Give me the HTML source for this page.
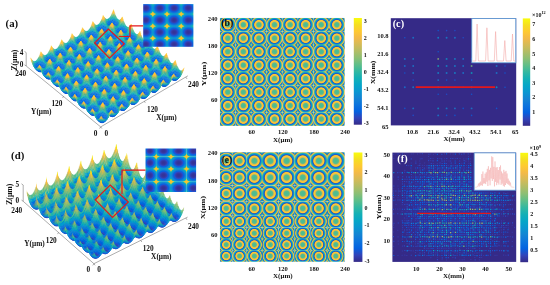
<!DOCTYPE html><html><head><meta charset="utf-8"><title>figure</title><style>html,body{margin:0;padding:0;background:#fff}</style></head><body><svg width="550" height="285" viewBox="0 0 550 285" style="display:block;font-family:'Liberation Serif',serif;font-weight:bold"><defs><filter id="bl" x="-5%" y="-5%" width="110%" height="110%"><feGaussianBlur stdDeviation=".5"/></filter><g id="ca"><path fill="#fec932" stroke="#fec932" d="M14-215l8-20l-7-22l-7 21zM-82-175l7 12l-6-22l-7-12z"/><path fill="#fbbc41" stroke="#fbbc41" d="M7-196l7-19l-6-21l-7 18zM-75-163l8 10l-6-22l-8-10z"/><path fill="#8bbf75" stroke="#8bbf75" d="M0-181l7-15l-6-22l-8 16zM-67-153l7 7l-6-22l-7-7z"/><path fill="#4fbc91" stroke="#4fbc91" d="M-8-167l8-14l-7-21l-7 13zM-60-146l8 4l-7-21l-7-5z"/><path fill="#33b8a1" stroke="#33b8a1" d="M-15-157l7-10l-6-22l-8 11zM-52-142l7 2l-6-21l-8-2z"/><path fill="#1cb3b0" stroke="#1cb3b0" d="M-23-149l8-8l-7-21l-7 8zM-45-140l7 0l-6-22l-7 1z"/><path fill="#0badbc" stroke="#0badbc" d="M-30-143l7-6l-6-21l-7 5zM-38-140l8-3l-6-22l-8 3z"/><path fill="#fbbc41" stroke="#fbbc41" d="M21-195l7-21l-6-19l-8 20zM-76-156l8 12l-7-19l-7-12z"/><path fill="#6ebf82" stroke="#6ebf82" d="M13-177l8-18l-7-20l-7 19zM-68-144l7 10l-6-19l-8-10z"/><path fill="#33b8a1" stroke="#33b8a1" d="M6-162l7-15l-6-19l-7 15zM-61-134l8 7l-7-19l-7-7z"/><path fill="#0badbc" stroke="#0badbc" d="M-2-148l8-14l-6-19l-8 14zM-53-127l7 4l-6-19l-8-4z"/><path fill="#0f90d2" stroke="#0f90d2" d="M-9-138l7-10l-6-19l-7 10zM-46-123l7 2l-6-19l-7-2z"/><path fill="#1079da" stroke="#1079da" d="M-16-130l7-8l-6-19l-8 8zM-24-124l8-6l-7-19l-7 6zM-31-121l7-3l-6-19l-8 3zM-39-121l8 0l-7-19l-7 0z"/><path fill="#8bbf75" stroke="#8bbf75" d="M27-179l7-21l-6-16l-7 21zM-69-139l7 12l-6-17l-8-12z"/><path fill="#33b8a1" stroke="#33b8a1" d="M20-161l7-18l-6-16l-8 18zM-62-127l7 9l-6-16l-7-10z"/><path fill="#06a6c7" stroke="#06a6c7" d="M12-145l8-16l-7-16l-7 15zM-55-118l8 7l-6-16l-8-7z"/><path fill="#1079da" stroke="#1079da" d="M5-132l7-13l-6-17l-8 14zM-47-111l7 5l-6-17l-7-4z"/><path fill="#066fdf" stroke="#066fdf" d="M-3-121l8-11l-7-16l-7 10zM-10-113l7-8l-6-17l-7 8zM-18-108l8-5l-6-17l-8 6zM-25-104l7-4l-6-16l-7 3zM-32-104l7 0l-6-17l-8 0zM-40-106l8 2l-7-17l-7-2z"/><path fill="#4fbc91" stroke="#4fbc91" d="M33-165l8-21l-7-14l-7 21zM-63-125l7 12l-6-14l-7-12z"/><path fill="#0badbc" stroke="#0badbc" d="M26-147l7-18l-6-14l-7 18zM-56-113l8 9l-7-14l-7-9z"/><path fill="#1079da" stroke="#1079da" d="M18-131l8-16l-6-14l-8 16zM-48-104l7 8l-6-15l-8-7z"/><path fill="#066fdf" stroke="#066fdf" d="M11-118l7-13l-6-14l-7 13zM-41-96l8 4l-7-14l-7-5z"/><path fill="#0462e0" stroke="#0462e0" d="M4-107l7-11l-6-14l-8 11zM-4-99l8-8l-7-14l-7 8zM-11-93l7-6l-6-14l-8 5zM-19-90l8-3l-7-15l-7 4zM-26-90l7 0l-6-14l-7 0zM-33-92l7 2l-6-14l-8-2z"/><path fill="#33b8a1" stroke="#33b8a1" d="M40-153l7-21l-6-12l-8 21zM-57-114l8 12l-7-11l-7-12z"/><path fill="#0f90d2" stroke="#0f90d2" d="M32-135l8-18l-7-12l-7 18zM-49-102l7 10l-6-12l-8-9z"/><path fill="#066fdf" stroke="#066fdf" d="M25-119l7-16l-6-12l-8 16zM-42-92l7 7l-6-11l-7-8z"/><path fill="#0462e0" stroke="#0462e0" d="M17-106l8-13l-7-12l-7 13zM10-96l7-10l-6-12l-7 11zM-27-80l7 2l-6-12l-7-2zM-35-85l8 5l-6-12l-8-4z"/><path fill="#294cca" stroke="#294cca" d="M3-88l7-8l-6-11l-8 8zM-5-82l8-6l-7-11l-7 6zM-12-79l7-3l-6-11l-8 3zM-20-78l8-1l-7-11l-7 0z"/><path fill="#1cb3b0" stroke="#1cb3b0" d="M46-144l7-21l-6-9l-7 21zM-50-105l7 12l-6-9l-8-12z"/><path fill="#1079da" stroke="#1079da" d="M38-126l8-18l-6-9l-8 18zM-43-93l7 10l-6-9l-7-10z"/><path fill="#066fdf" stroke="#066fdf" d="M31-110l7-16l-6-9l-7 16zM-36-83l8 7l-7-9l-7-7z"/><path fill="#0462e0" stroke="#0462e0" d="M24-97l7-13l-6-9l-8 13zM-28-76l7 5l-6-9l-8-5z"/><path fill="#294cca" stroke="#294cca" d="M16-87l8-10l-7-9l-7 10zM-21-71l8 2l-7-9l-7-2z"/><path fill="#353aa8" stroke="#353aa8" d="M9-79l7-8l-6-9l-7 8zM1-73l8-6l-6-9l-8 6zM-6-70l7-3l-6-9l-7 3zM-13-69l7-1l-6-9l-8 1z"/><path fill="#0badbc" stroke="#0badbc" d="M52-138l8-21l-7-6l-7 21zM-44-98l7 12l-6-7l-7-12z"/><path fill="#1079da" stroke="#1079da" d="M45-120l7-18l-6-6l-8 18zM-37-86l8 9l-7-6l-7-10z"/><path fill="#066fdf" stroke="#066fdf" d="M37-104l8-16l-7-6l-7 16zM-29-77l7 7l-6-6l-8-7z"/><path fill="#0462e0" stroke="#0462e0" d="M30-91l7-13l-6-6l-7 13zM-22-70l7 5l-6-6l-7-5z"/><path fill="#294cca" stroke="#294cca" d="M23-80l7-11l-6-6l-8 10zM-15-65l8 2l-6-6l-8-2z"/><path fill="#353aa8" stroke="#353aa8" d="M15-72l8-8l-7-7l-7 8zM8-66l7-6l-6-7l-8 6zM0-63l8-3l-7-7l-7 3zM-7-63l7 0l-6-7l-7 1z"/><path fill="#0badbc" stroke="#0badbc" d="M58-134l8-21l-6-4l-8 21zM-38-94l8 12l-7-4l-7-12z"/><path fill="#1079da" stroke="#1079da" d="M51-116l7-18l-6-4l-7 18zM-30-82l7 9l-6-4l-8-9z"/><path fill="#066fdf" stroke="#066fdf" d="M44-100l7-16l-6-4l-8 16zM-23-73l7 7l-6-4l-7-7z"/><path fill="#0462e0" stroke="#0462e0" d="M36-87l8-13l-7-4l-7 13zM-16-66l8 5l-7-4l-7-5z"/><path fill="#294cca" stroke="#294cca" d="M29-76l7-11l-6-4l-7 11zM-8-61l7 2l-6-4l-8-2z"/><path fill="#353aa8" stroke="#353aa8" d="M21-68l8-8l-6-4l-8 8zM14-63l7-5l-6-4l-7 6zM7-60l7-3l-6-3l-8 3zM-1-59l8-1l-7-3l-7 0z"/><path fill="#1cb3b0" stroke="#1cb3b0" d="M65-133l7-20l-6-2l-8 21zM-32-93l8 12l-6-1l-8-12z"/><path fill="#1079da" stroke="#1079da" d="M57-114l8-19l-7-1l-7 18zM-24-81l7 10l-6-2l-7-9z"/><path fill="#066fdf" stroke="#066fdf" d="M50-99l7-15l-6-2l-7 16zM-17-71l8 7l-7-2l-7-7z"/><path fill="#0462e0" stroke="#0462e0" d="M43-85l7-14l-6-1l-8 13zM-9-64l7 4l-6-1l-8-5z"/><path fill="#294cca" stroke="#294cca" d="M35-75l8-10l-7-2l-7 11zM-2-60l8 2l-7-1l-7-2z"/><path fill="#353aa8" stroke="#353aa8" d="M28-67l7-8l-6-1l-8 8zM20-61l8-6l-7-1l-7 5zM13-58l7-3l-6-2l-7 3zM6-58l7 0l-6-2l-8 1z"/><path fill="#33b8a1" stroke="#33b8a1" d="M71-134l7-20l-6 1l-7 20zM-25-94l7 12l-6 1l-8-12z"/><path fill="#0f90d2" stroke="#0f90d2" d="M64-115l7-19l-6 1l-8 19zM-18-82l8 10l-7 1l-7-10z"/><path fill="#066fdf" stroke="#066fdf" d="M56-100l8-15l-7 1l-7 15zM-10-72l7 7l-6 1l-8-7z"/><path fill="#0462e0" stroke="#0462e0" d="M49-87l7-13l-6 1l-7 14zM41-76l8-11l-6 2l-8 10zM4-61l8 2l-6 1l-8-2zM-3-65l7 4l-6 1l-7-4z"/><path fill="#294cca" stroke="#294cca" d="M34-68l7-8l-6 1l-7 8zM27-62l7-6l-6 1l-8 6zM19-59l8-3l-7 1l-7 3zM12-59l7 0l-6 1l-7 0z"/><path fill="#4fbc91" stroke="#4fbc91" d="M77-137l8-21l-7 4l-7 20zM-19-98l7 12l-6 4l-7-12z"/><path fill="#0badbc" stroke="#0badbc" d="M70-119l7-18l-6 3l-7 19zM-12-86l8 10l-6 4l-8-10z"/><path fill="#1079da" stroke="#1079da" d="M63-103l7-16l-6 4l-8 15zM-4-76l7 7l-6 4l-7-7z"/><path fill="#066fdf" stroke="#066fdf" d="M55-90l8-13l-7 3l-7 13zM3-69l8 5l-7 3l-7-4z"/><path fill="#0462e0" stroke="#0462e0" d="M48-80l7-10l-6 3l-8 11zM40-72l8-8l-7 4l-7 8zM33-66l7-6l-6 4l-7 6zM26-63l7-3l-6 4l-8 3zM18-62l8-1l-7 4l-7 0zM11-64l7 2l-6 3l-8-2z"/><path fill="#8bbf75" stroke="#8bbf75" d="M84-144l7-20l-6 6l-8 21zM-13-104l8 12l-7 6l-7-12z"/><path fill="#33b8a1" stroke="#33b8a1" d="M76-125l8-19l-7 7l-7 18zM-5-92l7 10l-6 6l-8-10z"/><path fill="#06a6c7" stroke="#06a6c7" d="M69-110l7-15l-6 6l-7 16zM2-82l8 7l-7 6l-7-7z"/><path fill="#1079da" stroke="#1079da" d="M61-96l8-14l-6 7l-8 13zM10-75l7 4l-6 7l-8-5z"/><path fill="#066fdf" stroke="#066fdf" d="M54-86l7-10l-6 6l-7 10zM47-78l7-8l-6 6l-8 8zM39-72l8-6l-7 6l-7 6zM32-69l7-3l-6 6l-7 3zM24-69l8 0l-6 6l-8 1zM17-71l7 2l-6 7l-7-2z"/><path fill="#fbbc41" stroke="#fbbc41" d="M90-152l7-21l-6 9l-7 20zM-6-113l7 12l-6 9l-8-12z"/><path fill="#6ebf82" stroke="#6ebf82" d="M83-134l7-18l-6 8l-8 19zM1-101l8 10l-7 9l-7-10z"/><path fill="#33b8a1" stroke="#33b8a1" d="M75-118l8-16l-7 9l-7 15zM9-91l7 7l-6 9l-8-7z"/><path fill="#0badbc" stroke="#0badbc" d="M68-105l7-13l-6 8l-8 14zM16-84l7 5l-6 8l-7-4z"/><path fill="#0f90d2" stroke="#0f90d2" d="M60-95l8-10l-7 9l-7 10zM23-79l8 2l-7 8l-7-2z"/><path fill="#1079da" stroke="#1079da" d="M53-86l7-9l-6 9l-7 8zM46-81l7-5l-6 8l-8 6zM38-78l8-3l-7 9l-7 3zM31-77l7-1l-6 9l-8 0z"/><path fill="#fec932" stroke="#fec932" d="M96-164l8-20l-7 11l-7 21zM0-124l7 12l-6 11l-7-12z"/><path fill="#fbbc41" stroke="#fbbc41" d="M89-145l7-19l-6 12l-7 18zM7-112l8 10l-6 11l-8-10z"/><path fill="#8bbf75" stroke="#8bbf75" d="M81-130l8-15l-6 11l-8 16zM15-102l7 7l-6 11l-7-7z"/><path fill="#4fbc91" stroke="#4fbc91" d="M74-116l7-14l-6 12l-7 13zM22-95l8 4l-7 12l-7-5z"/><path fill="#33b8a1" stroke="#33b8a1" d="M67-106l7-10l-6 11l-8 10zM30-91l7 2l-6 12l-8-2z"/><path fill="#1cb3b0" stroke="#1cb3b0" d="M59-98l8-8l-7 11l-7 9zM37-89l7 0l-6 11l-7 1z"/><path fill="#0badbc" stroke="#0badbc" d="M52-92l7-6l-6 12l-7 5zM44-89l8-3l-6 11l-8 3z"/></g><radialGradient id="ga" cx=".5" cy=".5" r=".7071"><stop offset="0" stop-color="#363297"/><stop offset="0.042" stop-color="#363297"/><stop offset="0.083" stop-color="#363298"/><stop offset="0.125" stop-color="#363399"/><stop offset="0.167" stop-color="#36359d"/><stop offset="0.208" stop-color="#3637a2"/><stop offset="0.25" stop-color="#353ba8"/><stop offset="0.292" stop-color="#343fb1"/><stop offset="0.333" stop-color="#3045bd"/><stop offset="0.375" stop-color="#284dcb"/><stop offset="0.417" stop-color="#1658d9"/><stop offset="0.458" stop-color="#0363e1"/><stop offset="0.5" stop-color="#046ce0"/><stop offset="0.542" stop-color="#0c74dd"/><stop offset="0.583" stop-color="#127dd8"/><stop offset="0.625" stop-color="#1487d3"/><stop offset="0.667" stop-color="#0b94d2"/><stop offset="0.708" stop-color="#06a1cc"/><stop offset="0.75" stop-color="#09abbf"/><stop offset="0.792" stop-color="#20b4ad"/><stop offset="0.833" stop-color="#47bb95"/><stop offset="0.875" stop-color="#7abf7d"/><stop offset="0.917" stop-color="#a9be69"/><stop offset="0.958" stop-color="#d5ba57"/><stop offset="1" stop-color="#fdbe3e"/></radialGradient><pattern id="pa" patternUnits="userSpaceOnUse" x="152.8" y="14.1" width="14.2" height="12.1"><rect width="14.2" height="12.1" fill="url(#ga)"/></pattern><path id="star" d="M-3.2 0Q-.5-.4 0-2.7Q.5-.4 3.2 0Q.5 .4 0 2.7Q-.5 .4-3.2 0z" fill="#f7c52d"/><linearGradient id="cb" x1="0" y1="1" x2="0" y2="0"><stop offset="0%" stop-color="#352a87"/><stop offset="6.2%" stop-color="#3243b9"/><stop offset="12.5%" stop-color="#0462e0"/><stop offset="18.8%" stop-color="#0c74dd"/><stop offset="25%" stop-color="#1484d4"/><stop offset="31.2%" stop-color="#0a97d1"/><stop offset="37.5%" stop-color="#06a6c7"/><stop offset="43.8%" stop-color="#13b0b6"/><stop offset="50%" stop-color="#33b8a1"/><stop offset="56.2%" stop-color="#5ebe89"/><stop offset="62.5%" stop-color="#8bbf75"/><stop offset="68.8%" stop-color="#b1bd66"/><stop offset="75%" stop-color="#d3bb58"/><stop offset="81.2%" stop-color="#f2b949"/><stop offset="87.5%" stop-color="#fec932"/><stop offset="93.8%" stop-color="#f5de21"/><stop offset="100%" stop-color="#f9fb0e"/></linearGradient><radialGradient id="gb" gradientUnits="userSpaceOnUse" cx="0" cy="0" r="30" gradientTransform="scale(0.5010 0.5010)"><stop offset="0" stop-color="#47bb95"/><stop offset="0.0133" stop-color="#48bb95"/><stop offset="0.0267" stop-color="#49bc94"/><stop offset="0.04" stop-color="#4abc93"/><stop offset="0.0533" stop-color="#4bbc93"/><stop offset="0.0667" stop-color="#4cbc92"/><stop offset="0.08" stop-color="#4ebc91"/><stop offset="0.0933" stop-color="#4fbc91"/><stop offset="0.1067" stop-color="#50bc90"/><stop offset="0.12" stop-color="#51bd8f"/><stop offset="0.1333" stop-color="#55bd8e"/><stop offset="0.1467" stop-color="#5fbd89"/><stop offset="0.16" stop-color="#73be80"/><stop offset="0.1733" stop-color="#91bd74"/><stop offset="0.1867" stop-color="#b1bd66"/><stop offset="0.2" stop-color="#cfbb59"/><stop offset="0.2133" stop-color="#e4bb4f"/><stop offset="0.2267" stop-color="#f2bc46"/><stop offset="0.24" stop-color="#f9c03e"/><stop offset="0.2533" stop-color="#fcc537"/><stop offset="0.2667" stop-color="#fdca32"/><stop offset="0.28" stop-color="#face2e"/><stop offset="0.2933" stop-color="#e8c434"/><stop offset="0.3067" stop-color="#c1a94a"/><stop offset="0.32" stop-color="#7f7b77"/><stop offset="0.3333" stop-color="#475fa4"/><stop offset="0.3467" stop-color="#225ac6"/><stop offset="0.36" stop-color="#1266d6"/><stop offset="0.3733" stop-color="#0e76d9"/><stop offset="0.3867" stop-color="#0d84d6"/><stop offset="0.4" stop-color="#0d92d0"/><stop offset="0.4133" stop-color="#0d9fc7"/><stop offset="0.4267" stop-color="#16aabb"/><stop offset="0.44" stop-color="#2bb3aa"/><stop offset="0.4533" stop-color="#4ab996"/><stop offset="0.4667" stop-color="#71bc82"/><stop offset="0.48" stop-color="#99bd70"/><stop offset="0.4933" stop-color="#bebd5f"/><stop offset="0.5067" stop-color="#dbc04d"/><stop offset="0.52" stop-color="#e6c240"/><stop offset="0.5333" stop-color="#cbb249"/><stop offset="0.5467" stop-color="#93956c"/><stop offset="0.56" stop-color="#54799c"/><stop offset="0.5733" stop-color="#2671c3"/><stop offset="0.5867" stop-color="#107bd3"/><stop offset="0.6" stop-color="#0f91cd"/><stop offset="0.6133" stop-color="#18a2bf"/><stop offset="0.6267" stop-color="#31b0a9"/><stop offset="0.64" stop-color="#5ab890"/><stop offset="0.6533" stop-color="#8cbc76"/><stop offset="0.6667" stop-color="#bbbf5d"/><stop offset="0.68" stop-color="#d3bd4d"/><stop offset="0.6933" stop-color="#c4b052"/><stop offset="0.7067" stop-color="#909773"/><stop offset="0.72" stop-color="#4a7ba5"/><stop offset="0.7333" stop-color="#207bc5"/><stop offset="0.7467" stop-color="#128ccb"/><stop offset="0.76" stop-color="#20a2bb"/><stop offset="0.7733" stop-color="#42b1a1"/><stop offset="0.7867" stop-color="#76b983"/><stop offset="0.8" stop-color="#abbe65"/><stop offset="0.8133" stop-color="#c5b955"/><stop offset="0.8267" stop-color="#b2a95f"/><stop offset="0.84" stop-color="#7b9283"/><stop offset="0.8533" stop-color="#3a7fb1"/><stop offset="0.8667" stop-color="#1b88c4"/><stop offset="0.88" stop-color="#229dbb"/><stop offset="0.8933" stop-color="#47afa0"/><stop offset="0.9067" stop-color="#7eba7e"/><stop offset="0.92" stop-color="#afbb62"/><stop offset="0.9333" stop-color="#b8b15c"/><stop offset="0.9467" stop-color="#929d75"/><stop offset="0.96" stop-color="#4e86a2"/><stop offset="0.9733" stop-color="#2689bc"/><stop offset="0.9867" stop-color="#269ab9"/><stop offset="1" stop-color="#4eaf9c"/></radialGradient><rect id="cb1" x="-7.838" y="-6.787" width="15.675" height="13.575" fill="url(#gb)"/><radialGradient id="ge" gradientUnits="userSpaceOnUse" cx="0" cy="0" r="30" gradientTransform="scale(0.5010 0.5010)"><stop offset="0" stop-color="#47bb95"/><stop offset="0.0133" stop-color="#48bb95"/><stop offset="0.0267" stop-color="#49bc94"/><stop offset="0.04" stop-color="#4abc93"/><stop offset="0.0533" stop-color="#4bbc93"/><stop offset="0.0667" stop-color="#4cbc92"/><stop offset="0.08" stop-color="#4ebc91"/><stop offset="0.0933" stop-color="#4fbc91"/><stop offset="0.1067" stop-color="#50bc90"/><stop offset="0.12" stop-color="#51bd8f"/><stop offset="0.1333" stop-color="#55bd8e"/><stop offset="0.1467" stop-color="#5fbd89"/><stop offset="0.16" stop-color="#73be80"/><stop offset="0.1733" stop-color="#91bd74"/><stop offset="0.1867" stop-color="#b1bd66"/><stop offset="0.2" stop-color="#cfbb59"/><stop offset="0.2133" stop-color="#e4bb4f"/><stop offset="0.2267" stop-color="#f2bc46"/><stop offset="0.24" stop-color="#f9c03e"/><stop offset="0.2533" stop-color="#fcc537"/><stop offset="0.2667" stop-color="#fdca32"/><stop offset="0.28" stop-color="#face2e"/><stop offset="0.2933" stop-color="#e8c434"/><stop offset="0.3067" stop-color="#c1a94a"/><stop offset="0.32" stop-color="#7f7b77"/><stop offset="0.3333" stop-color="#475fa4"/><stop offset="0.3467" stop-color="#225ac6"/><stop offset="0.36" stop-color="#1266d6"/><stop offset="0.3733" stop-color="#0e76d9"/><stop offset="0.3867" stop-color="#0d84d6"/><stop offset="0.4" stop-color="#0d92d0"/><stop offset="0.4133" stop-color="#0d9fc7"/><stop offset="0.4267" stop-color="#16aabb"/><stop offset="0.44" stop-color="#2bb3aa"/><stop offset="0.4533" stop-color="#4ab996"/><stop offset="0.4667" stop-color="#71bc82"/><stop offset="0.48" stop-color="#99bd70"/><stop offset="0.4933" stop-color="#bebd5f"/><stop offset="0.5067" stop-color="#dbc04d"/><stop offset="0.52" stop-color="#e6c240"/><stop offset="0.5333" stop-color="#cbb249"/><stop offset="0.5467" stop-color="#93956c"/><stop offset="0.56" stop-color="#54799c"/><stop offset="0.5733" stop-color="#2671c3"/><stop offset="0.5867" stop-color="#107bd3"/><stop offset="0.6" stop-color="#0f91cd"/><stop offset="0.6133" stop-color="#18a2bf"/><stop offset="0.6267" stop-color="#31b0a9"/><stop offset="0.64" stop-color="#5ab890"/><stop offset="0.6533" stop-color="#8cbc76"/><stop offset="0.6667" stop-color="#bbbf5d"/><stop offset="0.68" stop-color="#d3bd4d"/><stop offset="0.6933" stop-color="#c4b052"/><stop offset="0.7067" stop-color="#909773"/><stop offset="0.72" stop-color="#4a7ba5"/><stop offset="0.7333" stop-color="#207bc5"/><stop offset="0.7467" stop-color="#128ccb"/><stop offset="0.76" stop-color="#20a2bb"/><stop offset="0.7733" stop-color="#42b1a1"/><stop offset="0.7867" stop-color="#76b983"/><stop offset="0.8" stop-color="#abbe65"/><stop offset="0.8133" stop-color="#c5b955"/><stop offset="0.8267" stop-color="#b2a95f"/><stop offset="0.84" stop-color="#7b9283"/><stop offset="0.8533" stop-color="#3a7fb1"/><stop offset="0.8667" stop-color="#1b88c4"/><stop offset="0.88" stop-color="#229dbb"/><stop offset="0.8933" stop-color="#47afa0"/><stop offset="0.9067" stop-color="#7eba7e"/><stop offset="0.92" stop-color="#afbb62"/><stop offset="0.9333" stop-color="#b8b15c"/><stop offset="0.9467" stop-color="#929d75"/><stop offset="0.96" stop-color="#4e86a2"/><stop offset="0.9733" stop-color="#2689bc"/><stop offset="0.9867" stop-color="#269ab9"/><stop offset="1" stop-color="#4eaf9c"/></radialGradient><rect id="ce1" x="-14" y="-14" width="28" height="28" fill="url(#ge)"/><radialGradient id="gf" cx=".48" cy=".5" r=".5"><stop offset="0" stop-color="#2a3cc0" stop-opacity=".4"/><stop offset=".6" stop-color="#2a3cc0" stop-opacity=".3"/><stop offset="1" stop-color="#2a3cc0" stop-opacity="0"/></radialGradient><g id="s0a"><path fill="#a5be6b" stroke="#a5be6b" d="M59-104l8-27l-6 13l-9 25zM-61-71l9 19l-7 11l-8-17z"/><path fill="#6ebf82" stroke="#6ebf82" d="M50-81l9-23l-7 11l-8 22zM-52-52l8 15l-6 10l-9-14z"/><path fill="#33b8a1" stroke="#33b8a1" d="M42-61l8-20l-6 10l-9 20zM-44-37l9 12l-7 10l-8-12z"/><path fill="#0badbc" stroke="#0badbc" d="M33-44l9-17l-7 10l-8 16zM-35-25l8 9l-6 9l-9-8z"/><path fill="#079ccf" stroke="#079ccf" d="M25-30l8-14l-6 9l-9 13zM-27-16l9 6l-7 8l-8-5z"/><path fill="#1484d4" stroke="#1484d4" d="M16-20l9-10l-7 8l-8 10zM-18-10l8 2l-6 8l-9-2z"/><path fill="#1079da" stroke="#1079da" d="M7-13l9-7l-6 8l-9 7zM-1-9l8-4l-6 8l-8 4zM-10-8l9-1l-6 8l-9 1z"/></g><g id="s0b"><path fill="#8bbf75" stroke="#8bbf75" d="M59-93l8-25l-6 9l-9 24zM-61-58l9 17l-7 8l-8-16z"/><path fill="#4fbc91" stroke="#4fbc91" d="M50-71l9-22l-7 8l-8 22zM-52-41l8 14l-6 8l-9-14z"/><path fill="#0badbc" stroke="#0badbc" d="M42-51l8-20l-6 8l-9 18zM-44-27l9 12l-7 6l-8-10z"/><path fill="#0f90d2" stroke="#0f90d2" d="M33-35l9-16l-7 6l-8 16zM-35-15l8 8l-6 6l-9-8z"/><path fill="#1079da" stroke="#1079da" d="M25-22l8-13l-6 6l-9 12zM-27-7l9 5l-7 5l-8-4z"/><path fill="#066fdf" stroke="#066fdf" d="M16-12l9-10l-7 5l-8 10zM-18-2l8 2l-6 5l-9-2z"/><path fill="#0462e0" stroke="#0462e0" d="M7-5l9-7l-6 5l-9 7zM-1-1l8-4l-6 5l-8 4zM-10 0l9-1l-6 5l-9 1z"/></g><g id="s0c"><path fill="#6ebf82" stroke="#6ebf82" d="M59-85l8-24l-6 5l-9 24zM-61-49l9 16l-7 5l-8-16z"/><path fill="#1cb3b0" stroke="#1cb3b0" d="M50-63l9-22l-7 5l-8 21zM-52-33l8 14l-6 4l-9-13z"/><path fill="#079ccf" stroke="#079ccf" d="M42-45l8-18l-6 4l-9 18zM-44-19l9 10l-7 4l-8-10z"/><path fill="#1079da" stroke="#1079da" d="M33-29l9-16l-7 4l-8 15zM-35-9l8 8l-6 3l-9-7z"/><path fill="#066fdf" stroke="#066fdf" d="M25-17l8-12l-6 3l-9 12zM-27-1l9 4l-7 3l-8-4z"/><path fill="#294cca" stroke="#294cca" d="M16-7l9-10l-7 3l-8 10zM7 0l9-7l-6 3l-9 7zM-1 4l8-4l-6 3l-8 4zM-10 5l9-1l-6 3l-9 1zM-18 3l8 2l-6 3l-9-2z"/></g><g id="s0d"><path fill="#4fbc91" stroke="#4fbc91" d="M59-80l8-24l-6 2l-9 23zM-61-44l9 16l-7 1l-8-15z"/><path fill="#06a6c7" stroke="#06a6c7" d="M50-59l9-21l-7 1l-8 21zM-52-28l8 13l-6 1l-9-13z"/><path fill="#1484d4" stroke="#1484d4" d="M42-41l8-18l-6 1l-9 17zM-44-15l9 10l-7 0l-8-9z"/><path fill="#066fdf" stroke="#066fdf" d="M33-26l9-15l-7 0l-8 15zM-35-5l8 7l-6 0l-9-7z"/><path fill="#294cca" stroke="#294cca" d="M25-14l8-12l-6 0l-9 12zM16-4l9-10l-7 0l-8 10zM-18 6l8 2l-6 0l-9-2zM-27 2l9 4l-7 0l-8-4z"/><path fill="#353aa8" stroke="#353aa8" d="M7 3l9-7l-6 0l-9 7zM-1 7l8-4l-6 0l-8 4zM-10 8l9-1l-6 0l-9 1z"/></g><g id="s0e"><path fill="#33b8a1" stroke="#33b8a1" d="M59-79l8-23l-6-2l-9 23zM-61-42l9 15l-7-2l-8-14z"/><path fill="#079ccf" stroke="#079ccf" d="M50-58l9-21l-7-2l-8 21zM-52-27l8 13l-6-2l-9-13z"/><path fill="#1079da" stroke="#1079da" d="M42-41l8-17l-6-2l-9 17zM-44-14l9 9l-7-2l-8-9z"/><path fill="#0462e0" stroke="#0462e0" d="M33-26l9-15l-7-2l-8 15zM-35-5l8 7l-6-2l-9-7z"/><path fill="#294cca" stroke="#294cca" d="M25-14l8-12l-6-2l-9 12zM-27 2l9 4l-7-2l-8-4z"/><path fill="#353aa8" stroke="#353aa8" d="M16-4l9-10l-7-2l-8 9zM7 3l9-7l-6-3l-9 7zM-1 7l8-4l-6-3l-8 4zM-10 8l9-1l-6-3l-9 1zM-18 6l8 2l-6-3l-9-1z"/></g><g id="s0f"><path fill="#1cb3b0" stroke="#1cb3b0" d="M59-81l8-23l-6-5l-9 23zM-61-43l9 14l-7-5l-8-15z"/><path fill="#079ccf" stroke="#079ccf" d="M50-60l9-21l-7-5l-8 20zM-52-29l8 13l-6-6l-9-12z"/><path fill="#1079da" stroke="#1079da" d="M42-43l8-17l-6-6l-9 18zM-44-16l9 9l-7-5l-8-10z"/><path fill="#0462e0" stroke="#0462e0" d="M33-28l9-15l-7-5l-8 15zM-35-7l8 7l-6-5l-9-7z"/><path fill="#294cca" stroke="#294cca" d="M25-16l8-12l-6-5l-9 12zM-27 0l9 4l-7-5l-8-4z"/><path fill="#353aa8" stroke="#353aa8" d="M16-7l9-9l-7-5l-8 9zM7 0l9-7l-6-5l-9 7zM-1 4l8-4l-6-5l-8 4zM-10 5l9-1l-6-5l-9 1zM-18 4l8 1l-6-5l-9-1z"/></g><g id="s0g"><path fill="#33b8a1" stroke="#33b8a1" d="M59-86l8-23l-6-9l-9 23zM-61-49l9 15l-7-9l-8-15z"/><path fill="#079ccf" stroke="#079ccf" d="M50-66l9-20l-7-9l-8 21zM-52-34l8 12l-6-8l-9-13z"/><path fill="#1079da" stroke="#1079da" d="M42-48l8-18l-6-8l-9 17zM-44-22l9 10l-7-9l-8-9z"/><path fill="#0462e0" stroke="#0462e0" d="M33-33l9-15l-7-9l-8 15zM-35-12l8 7l-6-9l-9-7z"/><path fill="#294cca" stroke="#294cca" d="M25-21l8-12l-6-9l-9 13zM-27-5l9 4l-7-8l-8-5z"/><path fill="#353aa8" stroke="#353aa8" d="M16-12l9-9l-7-8l-8 9zM7-5l9-7l-6-8l-9 7zM-1-1l8-4l-6-8l-8 4zM-10 0l9-1l-6-8l-9 1zM-18-1l8 1l-6-8l-9-1z"/></g><g id="s0h"><path fill="#4fbc91" stroke="#4fbc91" d="M59-95l8-23l-6-12l-9 23zM-61-58l9 15l-7-12l-8-15z"/><path fill="#06a6c7" stroke="#06a6c7" d="M50-74l9-21l-7-12l-8 21zM-52-43l8 13l-6-12l-9-13z"/><path fill="#1484d4" stroke="#1484d4" d="M42-57l8-17l-6-12l-9 18zM-44-30l9 9l-7-11l-8-10z"/><path fill="#066fdf" stroke="#066fdf" d="M33-42l9-15l-7-11l-8 15zM-35-21l8 7l-6-10l-9-8z"/><path fill="#294cca" stroke="#294cca" d="M25-29l8-13l-6-11l-9 13zM16-20l9-9l-7-11l-8 9zM-18-9l8 1l-6-10l-9-2zM-27-14l9 5l-7-11l-8-4z"/><path fill="#353aa8" stroke="#353aa8" d="M7-13l9-7l-6-11l-9 7zM-1-9l8-4l-6-11l-8 4zM-10-8l9-1l-6-11l-9 2z"/></g><g id="s0i"><path fill="#6ebf82" stroke="#6ebf82" d="M59-107l8-23l-6-16l-9 24zM-61-70l9 15l-7-15l-8-16z"/><path fill="#1cb3b0" stroke="#1cb3b0" d="M50-86l9-21l-7-15l-8 22zM-52-55l8 13l-6-14l-9-14z"/><path fill="#079ccf" stroke="#079ccf" d="M42-68l8-18l-6-14l-9 18zM-44-42l9 10l-7-14l-8-10z"/><path fill="#1079da" stroke="#1079da" d="M33-53l9-15l-7-14l-8 16zM-35-32l8 8l-6-14l-9-8z"/><path fill="#066fdf" stroke="#066fdf" d="M25-40l8-13l-6-13l-9 12zM-27-24l9 4l-7-14l-8-4z"/><path fill="#294cca" stroke="#294cca" d="M16-31l9-9l-7-14l-8 10zM7-24l9-7l-6-13l-9 7zM-1-20l8-4l-6-13l-8 4zM-10-18l9-2l-6-13l-9 1zM-18-20l8 2l-6-14l-9-2z"/></g><g id="s0j"><path fill="#8bbf75" stroke="#8bbf75" d="M59-122l8-24l-6-20l-9 26zM-61-86l9 16l-7-18l-8-18z"/><path fill="#4fbc91" stroke="#4fbc91" d="M50-100l9-22l-7-18l-8 22zM-52-70l8 14l-6-18l-9-14z"/><path fill="#0badbc" stroke="#0badbc" d="M42-82l8-18l-6-18l-9 19zM-44-56l9 10l-7-17l-8-11z"/><path fill="#0f90d2" stroke="#0f90d2" d="M33-66l9-16l-7-17l-8 16zM-35-46l8 8l-6-17l-9-8z"/><path fill="#1079da" stroke="#1079da" d="M25-54l8-12l-6-17l-9 13zM-27-38l9 4l-7-16l-8-5z"/><path fill="#066fdf" stroke="#066fdf" d="M16-44l9-10l-7-16l-8 10zM-18-34l8 2l-6-16l-9-2z"/><path fill="#0462e0" stroke="#0462e0" d="M7-37l9-7l-6-16l-9 7zM-1-33l8-4l-6-16l-8 4zM-10-32l9-1l-6-16l-9 1z"/></g><g id="s0k"><path fill="#a5be6b" stroke="#a5be6b" d="M59-140l8-26l-6-23l-9 27zM-61-106l9 18l-7-22l-8-19z"/><path fill="#6ebf82" stroke="#6ebf82" d="M50-118l9-22l-7-22l-8 23zM-52-88l8 14l-6-21l-9-15z"/><path fill="#33b8a1" stroke="#33b8a1" d="M42-99l8-19l-6-21l-9 20zM-44-74l9 11l-7-20l-8-12z"/><path fill="#0badbc" stroke="#0badbc" d="M33-83l9-16l-7-20l-8 17zM-35-63l8 8l-6-19l-9-9z"/><path fill="#079ccf" stroke="#079ccf" d="M25-70l8-13l-6-19l-9 14zM-27-55l9 5l-7-18l-8-6z"/><path fill="#1484d4" stroke="#1484d4" d="M16-60l9-10l-7-18l-8 10zM-18-50l8 2l-6-18l-9-2z"/><path fill="#1079da" stroke="#1079da" d="M7-53l9-7l-6-18l-9 7zM-1-49l8-4l-6-18l-8 4zM-10-48l9-1l-6-18l-9 1z"/></g><g id="s1a"><path fill="#a5be6b" stroke="#a5be6b" d="M59-105l8-27l-6 13l-9 26zM-61-72l9 19l-7 12l-8-18z"/><path fill="#6ebf82" stroke="#6ebf82" d="M50-82l9-23l-7 12l-8 22zM-52-53l8 15l-6 11l-9-14z"/><path fill="#4fbc91" stroke="#4fbc91" d="M42-62l8-20l-6 11l-9 19zM-44-38l9 12l-7 10l-8-11z"/><path fill="#0badbc" stroke="#0badbc" d="M33-45l9-17l-7 10l-8 16zM-35-26l8 9l-6 9l-9-8z"/><path fill="#079ccf" stroke="#079ccf" d="M25-31l8-14l-6 9l-9 14zM-27-17l9 6l-7 9l-8-6z"/><path fill="#1484d4" stroke="#1484d4" d="M16-21l9-10l-7 9l-8 10zM-18-11l8 2l-6 9l-9-2z"/><path fill="#1079da" stroke="#1079da" d="M7-13l9-8l-6 9l-9 7zM-1-9l8-4l-6 8l-8 4zM-10-9l9 0l-6 8l-9 1z"/></g><g id="s1b"><path fill="#8bbf75" stroke="#8bbf75" d="M59-93l8-26l-6 10l-9 24zM-61-59l9 18l-7 8l-8-16z"/><path fill="#4fbc91" stroke="#4fbc91" d="M50-71l9-22l-7 8l-8 21zM-52-41l8 14l-6 7l-9-13z"/><path fill="#0badbc" stroke="#0badbc" d="M42-52l8-19l-6 7l-9 19zM-44-27l9 11l-7 7l-8-11z"/><path fill="#0f90d2" stroke="#0f90d2" d="M33-36l9-16l-7 7l-8 16zM-35-16l8 8l-6 7l-9-8z"/><path fill="#1079da" stroke="#1079da" d="M25-22l8-14l-6 7l-9 12zM-27-8l9 6l-7 5l-8-4z"/><path fill="#066fdf" stroke="#066fdf" d="M16-12l9-10l-7 5l-8 10zM-18-2l8 2l-6 5l-9-2z"/><path fill="#0462e0" stroke="#0462e0" d="M7-5l9-7l-6 5l-9 7zM-1-1l8-4l-6 5l-8 4zM-10 0l9-1l-6 5l-9 1z"/></g><g id="s1c"><path fill="#6ebf82" stroke="#6ebf82" d="M59-85l8-24l-6 5l-9 24zM-61-49l9 16l-7 5l-8-16z"/><path fill="#1cb3b0" stroke="#1cb3b0" d="M50-64l9-21l-7 5l-8 21zM-52-33l8 13l-6 5l-9-13z"/><path fill="#079ccf" stroke="#079ccf" d="M42-45l8-19l-6 5l-9 18zM-44-20l9 11l-7 4l-8-10z"/><path fill="#1079da" stroke="#1079da" d="M33-29l9-16l-7 4l-8 15zM-35-9l8 8l-6 3l-9-7z"/><path fill="#066fdf" stroke="#066fdf" d="M25-17l8-12l-6 3l-9 12zM-27-1l9 4l-7 3l-8-4z"/><path fill="#294cca" stroke="#294cca" d="M16-7l9-10l-7 3l-8 10zM7 0l9-7l-6 3l-9 7zM-1 4l8-4l-6 3l-8 4zM-10 5l9-1l-6 3l-9 1zM-18 3l8 2l-6 3l-9-2z"/></g><g id="s1d"><path fill="#4fbc91" stroke="#4fbc91" d="M59-80l8-24l-6 2l-9 23zM-61-44l9 16l-7 1l-8-15z"/><path fill="#06a6c7" stroke="#06a6c7" d="M50-59l9-21l-7 1l-8 21zM-52-28l8 13l-6 1l-9-13z"/><path fill="#1484d4" stroke="#1484d4" d="M42-41l8-18l-6 1l-9 17zM-44-15l9 10l-7 0l-8-9z"/><path fill="#066fdf" stroke="#066fdf" d="M33-26l9-15l-7 0l-8 15zM-35-5l8 7l-6 0l-9-7z"/><path fill="#0462e0" stroke="#0462e0" d="M25-14l8-12l-6 0l-9 12zM-27 2l9 4l-7 0l-8-4z"/><path fill="#294cca" stroke="#294cca" d="M16-4l9-10l-7 0l-8 10zM-18 6l8 2l-6 0l-9-2z"/><path fill="#353aa8" stroke="#353aa8" d="M7 3l9-7l-6 0l-9 7zM-1 7l8-4l-6 0l-8 4zM-10 8l9-1l-6 0l-9 1z"/></g><g id="s1e"><path fill="#33b8a1" stroke="#33b8a1" d="M59-79l8-23l-6-2l-9 23zM-61-42l9 15l-7-2l-8-14z"/><path fill="#079ccf" stroke="#079ccf" d="M50-58l9-21l-7-2l-8 21zM-52-27l8 13l-6-2l-9-13z"/><path fill="#1079da" stroke="#1079da" d="M42-41l8-17l-6-2l-9 17zM-44-14l9 9l-7-2l-8-9z"/><path fill="#0462e0" stroke="#0462e0" d="M33-26l9-15l-7-2l-8 15zM-35-5l8 7l-6-2l-9-7z"/><path fill="#294cca" stroke="#294cca" d="M25-14l8-12l-6-2l-9 12zM-27 2l9 4l-7-2l-8-4z"/><path fill="#353aa8" stroke="#353aa8" d="M16-4l9-10l-7-2l-8 9zM7 3l9-7l-6-3l-9 7zM-1 7l8-4l-6-3l-8 4zM-10 8l9-1l-6-3l-9 1zM-18 6l8 2l-6-3l-9-1z"/></g><g id="s1f"><path fill="#1cb3b0" stroke="#1cb3b0" d="M59-81l8-23l-6-5l-9 23zM-61-43l9 14l-7-5l-8-15z"/><path fill="#079ccf" stroke="#079ccf" d="M50-60l9-21l-7-5l-8 20zM-52-29l8 13l-6-6l-9-12z"/><path fill="#1079da" stroke="#1079da" d="M42-43l8-17l-6-6l-9 18zM-44-16l9 9l-7-5l-8-10z"/><path fill="#0462e0" stroke="#0462e0" d="M33-28l9-15l-7-5l-8 14zM-35-7l8 7l-6-6l-9-6z"/><path fill="#294cca" stroke="#294cca" d="M25-16l8-12l-6-6l-9 13zM-27 0l9 4l-7-5l-8-5z"/><path fill="#353aa8" stroke="#353aa8" d="M16-7l9-9l-7-5l-8 9zM7 0l9-7l-6-5l-9 7zM-1 4l8-4l-6-5l-8 4zM-10 5l9-1l-6-5l-9 1zM-18 4l8 1l-6-5l-9-1z"/></g><g id="s1g"><path fill="#33b8a1" stroke="#33b8a1" d="M59-86l8-23l-6-9l-9 23zM-61-49l9 15l-7-9l-8-15z"/><path fill="#079ccf" stroke="#079ccf" d="M50-66l9-20l-7-9l-8 21zM-52-34l8 12l-6-8l-9-13z"/><path fill="#1079da" stroke="#1079da" d="M42-48l8-18l-6-8l-9 17zM-44-22l9 10l-7-9l-8-9z"/><path fill="#0462e0" stroke="#0462e0" d="M33-34l9-14l-7-9l-8 15zM-35-12l8 6l-6-8l-9-7z"/><path fill="#294cca" stroke="#294cca" d="M25-21l8-13l-6-8l-9 12zM-27-6l9 5l-7-9l-8-4z"/><path fill="#353aa8" stroke="#353aa8" d="M16-12l9-9l-7-9l-8 10zM7-5l9-7l-6-8l-9 7zM-1-1l8-4l-6-8l-8 4zM-10 0l9-1l-6-8l-9 1zM-18-1l8 1l-6-8l-9-2z"/></g><g id="s1h"><path fill="#4fbc91" stroke="#4fbc91" d="M59-95l8-23l-6-13l-9 24zM-61-58l9 15l-7-12l-8-16z"/><path fill="#06a6c7" stroke="#06a6c7" d="M50-74l9-21l-7-12l-8 21zM-52-43l8 13l-6-12l-9-13z"/><path fill="#1484d4" stroke="#1484d4" d="M42-57l8-17l-6-12l-9 18zM-44-30l9 9l-7-11l-8-10z"/><path fill="#066fdf" stroke="#066fdf" d="M33-42l9-15l-7-11l-8 15zM-35-21l8 7l-6-11l-9-7z"/><path fill="#0462e0" stroke="#0462e0" d="M25-30l8-12l-6-11l-9 13zM-27-14l9 4l-7-10l-8-5z"/><path fill="#294cca" stroke="#294cca" d="M16-20l9-10l-7-10l-8 9zM-18-10l8 2l-6-11l-9-1z"/><path fill="#353aa8" stroke="#353aa8" d="M7-13l9-7l-6-11l-9 7zM-1-9l8-4l-6-11l-8 4zM-10-8l9-1l-6-11l-9 1z"/></g><g id="s1i"><path fill="#6ebf82" stroke="#6ebf82" d="M59-107l8-24l-6-16l-9 24zM-61-71l9 16l-7-16l-8-16z"/><path fill="#1cb3b0" stroke="#1cb3b0" d="M50-86l9-21l-7-16l-8 22zM-52-55l8 13l-6-15l-9-14z"/><path fill="#079ccf" stroke="#079ccf" d="M42-68l8-18l-6-15l-9 18zM-44-42l9 10l-7-15l-8-10z"/><path fill="#1079da" stroke="#1079da" d="M33-53l9-15l-7-15l-8 16zM-35-32l8 7l-6-14l-9-8z"/><path fill="#066fdf" stroke="#066fdf" d="M25-40l8-13l-6-14l-9 13zM-27-25l9 5l-7-14l-8-5z"/><path fill="#294cca" stroke="#294cca" d="M16-31l9-9l-7-14l-8 10zM7-24l9-7l-6-13l-9 7zM-1-20l8-4l-6-13l-8 4zM-10-19l9-1l-6-13l-9 1zM-18-20l8 1l-6-13l-9-2z"/></g><g id="s1j"><path fill="#8bbf75" stroke="#8bbf75" d="M59-123l8-24l-6-20l-9 25zM-61-87l9 16l-7-19l-8-17z"/><path fill="#4fbc91" stroke="#4fbc91" d="M50-101l9-22l-7-19l-8 23zM-52-71l8 14l-6-18l-9-15z"/><path fill="#0badbc" stroke="#0badbc" d="M42-83l8-18l-6-18l-9 19zM-44-57l9 10l-7-17l-8-11z"/><path fill="#0f90d2" stroke="#0f90d2" d="M33-67l9-16l-7-17l-8 16zM-35-47l8 8l-6-17l-9-8z"/><path fill="#1079da" stroke="#1079da" d="M25-54l8-13l-6-17l-9 13zM-27-39l9 5l-7-17l-8-5z"/><path fill="#066fdf" stroke="#066fdf" d="M16-44l9-10l-7-17l-8 11zM-18-34l8 2l-6-16l-9-3z"/><path fill="#0462e0" stroke="#0462e0" d="M7-37l9-7l-6-16l-9 7zM-1-33l8-4l-6-16l-8 4zM-10-32l9-1l-6-16l-9 1z"/></g><g id="s1k"><path fill="#a5be6b" stroke="#a5be6b" d="M59-142l8-25l-6-24l-9 27zM-61-107l9 17l-7-22l-8-19z"/><path fill="#6ebf82" stroke="#6ebf82" d="M50-119l9-23l-7-22l-8 23zM-52-90l8 15l-6-22l-9-15z"/><path fill="#4fbc91" stroke="#4fbc91" d="M42-100l8-19l-6-22l-9 21zM-44-75l9 11l-7-20l-8-13z"/><path fill="#0badbc" stroke="#0badbc" d="M33-84l9-16l-7-20l-8 16zM-35-64l8 8l-6-20l-9-8z"/><path fill="#079ccf" stroke="#079ccf" d="M25-71l8-13l-6-20l-9 14zM-27-56l9 5l-7-19l-8-6z"/><path fill="#1484d4" stroke="#1484d4" d="M16-60l9-11l-7-19l-8 11zM-18-51l8 3l-6-19l-9-3z"/><path fill="#1079da" stroke="#1079da" d="M7-53l9-7l-6-19l-9 7zM-1-49l8-4l-6-19l-8 4zM-10-48l9-1l-6-19l-9 1z"/></g><g id="s2a"><path fill="#a5be6b" stroke="#a5be6b" d="M59-106l8-26l-6 13l-9 25zM-61-72l9 18l-7 12l-8-17z"/><path fill="#6ebf82" stroke="#6ebf82" d="M50-82l9-24l-7 12l-8 23zM-52-54l8 16l-6 11l-9-15z"/><path fill="#4fbc91" stroke="#4fbc91" d="M42-62l8-20l-6 11l-9 19zM-44-38l9 12l-7 10l-8-11z"/><path fill="#0badbc" stroke="#0badbc" d="M33-45l9-17l-7 10l-8 16zM-35-26l8 9l-6 9l-9-8z"/><path fill="#079ccf" stroke="#079ccf" d="M25-31l8-14l-6 9l-9 13zM-27-17l9 6l-7 8l-8-5z"/><path fill="#1484d4" stroke="#1484d4" d="M16-21l9-10l-7 8l-8 10zM-18-11l8 2l-6 8l-9-2z"/><path fill="#1079da" stroke="#1079da" d="M8-14l8-7l-6 8l-9 7zM-1-10l9-4l-7 8l-9 4zM-10-9l9-1l-7 8l-8 1z"/></g><g id="s2b"><path fill="#8bbf75" stroke="#8bbf75" d="M59-94l8-25l-6 9l-9 25zM-61-59l9 17l-7 9l-8-17z"/><path fill="#4fbc91" stroke="#4fbc91" d="M50-71l9-23l-7 9l-8 21zM-52-42l8 15l-6 7l-9-13z"/><path fill="#0badbc" stroke="#0badbc" d="M42-52l8-19l-6 7l-9 19zM-44-27l9 11l-7 7l-8-11z"/><path fill="#0f90d2" stroke="#0f90d2" d="M33-36l9-16l-7 7l-8 15zM-35-16l8 8l-6 6l-9-7z"/><path fill="#1079da" stroke="#1079da" d="M25-23l8-13l-6 6l-9 13zM-27-8l9 5l-7 6l-8-5z"/><path fill="#066fdf" stroke="#066fdf" d="M16-13l9-10l-7 6l-8 10zM-18-3l8 2l-6 6l-9-2z"/><path fill="#0462e0" stroke="#0462e0" d="M8-6l8-7l-6 6l-9 7zM-1-2l9-4l-7 6l-9 4zM-10-1l9-1l-7 6l-8 1z"/></g><g id="s2c"><path fill="#6ebf82" stroke="#6ebf82" d="M59-85l8-25l-6 6l-9 24zM-61-50l9 17l-7 5l-8-16z"/><path fill="#1cb3b0" stroke="#1cb3b0" d="M50-64l9-21l-7 5l-8 21zM-52-33l8 13l-6 5l-9-13z"/><path fill="#079ccf" stroke="#079ccf" d="M42-45l8-19l-6 5l-9 18zM-44-20l9 11l-7 4l-8-10z"/><path fill="#1079da" stroke="#1079da" d="M33-30l9-15l-7 4l-8 15zM-35-9l8 7l-6 4l-9-7z"/><path fill="#066fdf" stroke="#066fdf" d="M25-17l8-13l-6 4l-9 12zM-27-2l9 5l-7 3l-8-4z"/><path fill="#0462e0" stroke="#0462e0" d="M16-7l9-10l-7 3l-8 10zM-18 3l8 2l-6 3l-9-2z"/><path fill="#294cca" stroke="#294cca" d="M8 0l8-7l-6 3l-9 7zM-1 4l9-4l-7 3l-9 4zM-10 5l9-1l-7 3l-8 1z"/></g><g id="s2d"><path fill="#4fbc91" stroke="#4fbc91" d="M59-80l8-24l-6 2l-9 23zM-61-44l9 16l-7 1l-8-15z"/><path fill="#06a6c7" stroke="#06a6c7" d="M50-59l9-21l-7 1l-8 21zM-52-28l8 13l-6 1l-9-13z"/><path fill="#1484d4" stroke="#1484d4" d="M42-41l8-18l-6 1l-9 17zM-44-15l9 10l-7 0l-8-9z"/><path fill="#066fdf" stroke="#066fdf" d="M33-26l9-15l-7 0l-8 15zM-35-5l8 7l-6 0l-9-7z"/><path fill="#0462e0" stroke="#0462e0" d="M25-14l8-12l-6 0l-9 13zM-27 2l9 4l-7 1l-8-5z"/><path fill="#294cca" stroke="#294cca" d="M16-4l9-10l-7 1l-8 9zM-18 6l8 2l-6 0l-9-1z"/><path fill="#353aa8" stroke="#353aa8" d="M8 3l8-7l-6 0l-9 7zM-1 7l9-4l-7 0l-9 4zM-10 8l9-1l-7 0l-8 1z"/></g><g id="s2e"><path fill="#33b8a1" stroke="#33b8a1" d="M59-79l8-23l-6-1l-9 22zM-61-42l9 15l-7-2l-8-14z"/><path fill="#079ccf" stroke="#079ccf" d="M50-58l9-21l-7-2l-8 21zM-52-27l8 13l-6-2l-9-13z"/><path fill="#1079da" stroke="#1079da" d="M42-41l8-17l-6-2l-9 17zM-44-14l9 9l-7-2l-8-9z"/><path fill="#0462e0" stroke="#0462e0" d="M33-26l9-15l-7-2l-8 15zM-35-5l8 7l-6-2l-9-7z"/><path fill="#294cca" stroke="#294cca" d="M25-13l8-13l-6-2l-9 12zM-27 2l9 5l-7-3l-8-4z"/><path fill="#353aa8" stroke="#353aa8" d="M16-4l9-9l-7-3l-8 9zM8 3l8-7l-6-3l-9 7zM-1 7l9-4l-7-3l-9 4zM-10 8l9-1l-7-3l-8 1zM-18 7l8 1l-6-3l-9-1z"/></g><g id="s2f"><path fill="#1cb3b0" stroke="#1cb3b0" d="M59-81l8-22l-6-6l-9 23zM-61-43l9 14l-7-5l-8-15z"/><path fill="#079ccf" stroke="#079ccf" d="M50-60l9-21l-7-5l-8 20zM-52-29l8 13l-6-6l-9-12z"/><path fill="#1079da" stroke="#1079da" d="M42-43l8-17l-6-6l-9 18zM-44-16l9 9l-7-5l-8-10z"/><path fill="#0462e0" stroke="#0462e0" d="M33-28l9-15l-7-5l-8 14zM-35-7l8 7l-6-6l-9-6z"/><path fill="#294cca" stroke="#294cca" d="M25-16l8-12l-6-6l-9 13zM-27 0l9 4l-7-5l-8-5z"/><path fill="#353aa8" stroke="#353aa8" d="M16-7l9-9l-7-5l-8 9zM8 0l8-7l-6-5l-9 7zM-1 4l9-4l-7-5l-9 4zM-10 5l9-1l-7-5l-8 1zM-18 4l8 1l-6-5l-9-1z"/></g><g id="s2g"><path fill="#33b8a1" stroke="#33b8a1" d="M59-86l8-23l-6-9l-9 23zM-61-49l9 15l-7-9l-8-15z"/><path fill="#079ccf" stroke="#079ccf" d="M50-66l9-20l-7-9l-8 21zM-52-34l8 12l-6-8l-9-13z"/><path fill="#1079da" stroke="#1079da" d="M42-48l8-18l-6-8l-9 17zM-44-22l9 10l-7-9l-8-9z"/><path fill="#0462e0" stroke="#0462e0" d="M33-34l9-14l-7-9l-8 15zM-35-12l8 6l-6-8l-9-7z"/><path fill="#294cca" stroke="#294cca" d="M25-21l8-13l-6-8l-9 12zM-27-6l9 5l-7-9l-8-4z"/><path fill="#353aa8" stroke="#353aa8" d="M16-12l9-9l-7-9l-8 10zM8-5l8-7l-6-8l-9 7zM-1-1l9-4l-7-8l-9 4zM-10 0l9-1l-7-8l-8 1zM-18-1l8 1l-6-8l-9-2z"/></g><g id="s2h"><path fill="#4fbc91" stroke="#4fbc91" d="M59-95l8-23l-6-13l-9 24zM-61-58l9 15l-7-12l-8-16z"/><path fill="#06a6c7" stroke="#06a6c7" d="M50-74l9-21l-7-12l-8 21zM-52-43l8 13l-6-12l-9-13z"/><path fill="#1484d4" stroke="#1484d4" d="M42-57l8-17l-6-12l-9 18zM-44-30l9 9l-7-11l-8-10z"/><path fill="#066fdf" stroke="#066fdf" d="M33-42l9-15l-7-11l-8 15zM-35-21l8 7l-6-11l-9-7z"/><path fill="#0462e0" stroke="#0462e0" d="M25-30l8-12l-6-11l-9 12zM-27-14l9 4l-7-11l-8-4z"/><path fill="#294cca" stroke="#294cca" d="M16-20l9-10l-7-11l-8 10zM-18-10l8 2l-6-11l-9-2z"/><path fill="#353aa8" stroke="#353aa8" d="M8-13l8-7l-6-11l-9 7zM-1-9l9-4l-7-11l-9 4zM-10-8l9-1l-7-11l-8 1z"/></g><g id="s2i"><path fill="#6ebf82" stroke="#6ebf82" d="M59-107l8-24l-6-16l-9 24zM-61-71l9 16l-7-16l-8-16z"/><path fill="#1cb3b0" stroke="#1cb3b0" d="M50-86l9-21l-7-16l-8 21zM-52-55l8 13l-6-16l-9-13z"/><path fill="#079ccf" stroke="#079ccf" d="M42-68l8-18l-6-16l-9 19zM-44-42l9 10l-7-15l-8-11z"/><path fill="#1079da" stroke="#1079da" d="M33-53l9-15l-7-15l-8 16zM-35-32l8 7l-6-14l-9-8z"/><path fill="#066fdf" stroke="#066fdf" d="M25-41l8-12l-6-14l-9 12zM-27-25l9 4l-7-14l-8-4z"/><path fill="#0462e0" stroke="#0462e0" d="M16-31l9-10l-7-14l-8 10zM-18-21l8 2l-6-14l-9-2z"/><path fill="#294cca" stroke="#294cca" d="M8-24l8-7l-6-14l-9 7zM-1-20l9-4l-7-14l-9 4zM-10-19l9-1l-7-14l-8 1z"/></g><g id="s2j"><path fill="#8bbf75" stroke="#8bbf75" d="M59-123l8-24l-6-21l-9 26zM-61-87l9 16l-7-19l-8-18z"/><path fill="#4fbc91" stroke="#4fbc91" d="M50-102l9-21l-7-19l-8 22zM-52-71l8 13l-6-18l-9-14z"/><path fill="#0badbc" stroke="#0badbc" d="M42-83l8-19l-6-18l-9 19zM-44-58l9 11l-7-18l-8-11z"/><path fill="#0f90d2" stroke="#0f90d2" d="M33-67l9-16l-7-18l-8 17zM-35-47l8 8l-6-17l-9-9z"/><path fill="#1079da" stroke="#1079da" d="M25-55l8-12l-6-17l-9 13zM-27-39l9 4l-7-16l-8-5z"/><path fill="#066fdf" stroke="#066fdf" d="M16-45l9-10l-7-16l-8 10zM-18-35l8 2l-6-16l-9-2z"/><path fill="#0462e0" stroke="#0462e0" d="M8-38l8-7l-6-16l-9 7zM-1-34l9-4l-7-16l-9 4zM-10-33l9-1l-7-16l-8 1z"/></g><g id="s2k"><path fill="#a5be6b" stroke="#a5be6b" d="M59-142l8-26l-6-24l-9 27zM-61-108l9 18l-7-23l-8-19z"/><path fill="#6ebf82" stroke="#6ebf82" d="M50-120l9-22l-7-23l-8 23zM-52-90l8 14l-6-22l-9-15z"/><path fill="#4fbc91" stroke="#4fbc91" d="M42-101l8-19l-6-22l-9 21zM-44-76l9 11l-7-20l-8-13z"/><path fill="#0badbc" stroke="#0badbc" d="M33-84l9-17l-7-20l-8 17zM-35-65l8 9l-6-20l-9-9z"/><path fill="#079ccf" stroke="#079ccf" d="M25-71l8-13l-6-20l-9 13zM-27-56l9 5l-7-20l-8-5z"/><path fill="#1484d4" stroke="#1484d4" d="M16-61l9-10l-7-20l-8 11zM-18-51l8 2l-6-19l-9-3z"/><path fill="#1079da" stroke="#1079da" d="M8-54l8-7l-6-19l-9 7zM-1-50l9-4l-7-19l-9 4zM-10-49l9-1l-7-19l-8 1z"/></g><g id="s3a"><path fill="#bdbd61" stroke="#bdbd61" d="M59-111l9-27l-7 15l-9 26zM-61-78l9 19l-7 14l-9-18z"/><path fill="#8bbf75" stroke="#8bbf75" d="M51-87l8-24l-7 14l-8 23zM-52-59l8 16l-7 13l-8-15z"/><path fill="#4fbc91" stroke="#4fbc91" d="M42-67l9-20l-7 13l-9 19zM-44-43l9 12l-7 12l-9-11z"/><path fill="#1cb3b0" stroke="#1cb3b0" d="M33-49l9-18l-7 12l-9 17zM-35-31l9 10l-7 11l-9-9z"/><path fill="#06a6c7" stroke="#06a6c7" d="M25-35l8-14l-7 11l-8 13zM-26-21l8 6l-7 10l-8-5z"/><path fill="#0f90d2" stroke="#0f90d2" d="M16-25l9-10l-7 10l-9 10zM-18-15l9 2l-7 10l-9-2z"/><path fill="#1484d4" stroke="#1484d4" d="M8-17l8-8l-7 10l-8 7zM-1-13l9-4l-7 9l-9 4zM-9-13l8 0l-7 9l-8 1z"/></g><g id="s3b"><path fill="#8bbf75" stroke="#8bbf75" d="M59-97l9-26l-7 11l-9 25zM-61-63l9 18l-7 10l-9-17z"/><path fill="#4fbc91" stroke="#4fbc91" d="M51-74l8-23l-7 10l-8 22zM-52-45l8 15l-7 9l-8-14z"/><path fill="#1cb3b0" stroke="#1cb3b0" d="M42-55l9-19l-7 9l-9 18zM-44-30l9 11l-7 8l-9-10z"/><path fill="#079ccf" stroke="#079ccf" d="M33-38l9-17l-7 8l-9 16zM-35-19l9 9l-7 7l-9-8z"/><path fill="#1484d4" stroke="#1484d4" d="M25-25l8-13l-7 7l-8 13zM-26-10l8 5l-7 7l-8-5z"/><path fill="#1079da" stroke="#1079da" d="M16-15l9-10l-7 7l-9 10zM-18-5l9 2l-7 7l-9-2z"/><path fill="#066fdf" stroke="#066fdf" d="M8-8l8-7l-7 7l-8 7zM-1-4l9-4l-7 7l-9 4zM-9-3l8-1l-7 7l-8 1z"/></g><g id="s3c"><path fill="#6ebf82" stroke="#6ebf82" d="M59-87l9-25l-7 7l-9 24zM-61-52l9 17l-7 6l-9-16z"/><path fill="#1cb3b0" stroke="#1cb3b0" d="M51-65l8-22l-7 6l-8 21zM-52-35l8 14l-7 5l-8-13z"/><path fill="#079ccf" stroke="#079ccf" d="M42-47l9-18l-7 5l-9 18zM-44-21l9 10l-7 5l-9-10z"/><path fill="#1484d4" stroke="#1484d4" d="M33-31l9-16l-7 5l-9 15zM-35-11l9 8l-7 4l-9-7z"/><path fill="#066fdf" stroke="#066fdf" d="M25-18l8-13l-7 4l-8 13zM-26-3l8 5l-7 4l-8-5z"/><path fill="#0462e0" stroke="#0462e0" d="M16-8l9-10l-7 4l-9 10zM-18 2l9 2l-7 4l-9-2z"/><path fill="#294cca" stroke="#294cca" d="M8-1l8-7l-7 4l-8 6zM-1 3l9-4l-7 3l-9 4zM-9 4l8-1l-7 3l-8 2z"/></g><g id="s3d"><path fill="#4fbc91" stroke="#4fbc91" d="M59-81l9-24l-7 3l-9 23zM-61-45l9 16l-7 2l-9-15z"/><path fill="#0badbc" stroke="#0badbc" d="M51-60l8-21l-7 2l-8 21zM-52-29l8 13l-7 2l-8-13z"/><path fill="#1484d4" stroke="#1484d4" d="M42-42l9-18l-7 2l-9 17zM-44-16l9 10l-7 1l-9-9z"/><path fill="#066fdf" stroke="#066fdf" d="M33-27l9-15l-7 1l-9 15zM-35-6l9 7l-7 1l-9-7z"/><path fill="#0462e0" stroke="#0462e0" d="M25-14l8-13l-7 1l-8 13zM-26 1l8 5l-7 1l-8-5z"/><path fill="#294cca" stroke="#294cca" d="M16-4l9-10l-7 1l-9 9zM-18 6l9 2l-7 0l-9-1z"/><path fill="#353aa8" stroke="#353aa8" d="M8 2l8-6l-7 0l-8 7zM-1 6l9-4l-7 1l-9 4zM-9 8l8-2l-7 1l-8 1z"/></g><g id="s3e"><path fill="#33b8a1" stroke="#33b8a1" d="M59-79l9-23l-7-1l-9 23zM-61-42l9 15l-7-1l-9-15z"/><path fill="#079ccf" stroke="#079ccf" d="M51-58l8-21l-7-1l-8 20zM-52-27l8 13l-7-2l-8-12z"/><path fill="#1079da" stroke="#1079da" d="M42-41l9-17l-7-2l-9 17zM-44-14l9 9l-7-2l-9-9z"/><path fill="#0462e0" stroke="#0462e0" d="M33-26l9-15l-7-2l-9 15zM-35-5l9 7l-7-2l-9-7z"/><path fill="#294cca" stroke="#294cca" d="M25-13l8-13l-7-2l-8 12zM-26 2l8 5l-7-3l-8-4z"/><path fill="#353aa8" stroke="#353aa8" d="M16-4l9-9l-7-3l-9 9zM8 3l8-7l-7-3l-8 7zM-1 7l9-4l-7-3l-9 4zM-9 8l8-1l-7-3l-8 1zM-18 7l9 1l-7-3l-9-1z"/></g><g id="s3f"><path fill="#1cb3b0" stroke="#1cb3b0" d="M59-80l9-23l-7-6l-9 23zM-61-43l9 15l-7-6l-9-15z"/><path fill="#079ccf" stroke="#079ccf" d="M51-60l8-20l-7-6l-8 20zM-52-28l8 12l-7-6l-8-12z"/><path fill="#1079da" stroke="#1079da" d="M42-43l9-17l-7-6l-9 17zM-44-16l9 9l-7-6l-9-9z"/><path fill="#0462e0" stroke="#0462e0" d="M33-28l9-15l-7-6l-9 15zM-35-7l9 7l-7-6l-9-7z"/><path fill="#294cca" stroke="#294cca" d="M25-16l8-12l-7-6l-8 12zM-26 0l8 4l-7-6l-8-4z"/><path fill="#353aa8" stroke="#353aa8" d="M16-7l9-9l-7-6l-9 10zM8 0l8-7l-7-5l-8 6zM-1 4l9-4l-7-6l-9 4zM-9 5l8-1l-7-6l-8 2zM-18 4l9 1l-7-5l-9-2z"/></g><g id="s3g"><path fill="#33b8a1" stroke="#33b8a1" d="M59-86l9-23l-7-10l-9 23zM-61-49l9 15l-7-10l-9-15z"/><path fill="#079ccf" stroke="#079ccf" d="M51-66l8-20l-7-10l-8 20zM-52-34l8 12l-7-10l-8-12z"/><path fill="#1079da" stroke="#1079da" d="M42-49l9-17l-7-10l-9 18zM-44-22l9 9l-7-9l-9-10z"/><path fill="#0462e0" stroke="#0462e0" d="M33-34l9-15l-7-9l-9 15zM-35-13l9 7l-7-9l-9-7z"/><path fill="#294cca" stroke="#294cca" d="M25-22l8-12l-7-9l-8 12zM-26-6l8 4l-7-9l-8-4z"/><path fill="#353aa8" stroke="#353aa8" d="M16-12l9-10l-7-9l-9 10zM8-6l8-6l-7-9l-8 7zM-1-2l9-4l-7-8l-9 4zM-9 0l8-2l-7-8l-8 1zM-18-2l9 2l-7-9l-9-2z"/></g><g id="s3h"><path fill="#4fbc91" stroke="#4fbc91" d="M59-96l9-23l-7-14l-9 23zM-61-59l9 15l-7-14l-9-15z"/><path fill="#0badbc" stroke="#0badbc" d="M51-76l8-20l-7-14l-8 21zM-52-44l8 12l-7-13l-8-13z"/><path fill="#1484d4" stroke="#1484d4" d="M42-58l9-18l-7-13l-9 18zM-44-32l9 10l-7-13l-9-10z"/><path fill="#066fdf" stroke="#066fdf" d="M33-43l9-15l-7-13l-9 16zM-35-22l9 7l-7-12l-9-8z"/><path fill="#0462e0" stroke="#0462e0" d="M25-31l8-12l-7-12l-8 12zM-26-15l8 4l-7-12l-8-4z"/><path fill="#294cca" stroke="#294cca" d="M16-21l9-10l-7-12l-9 10zM-18-11l9 2l-7-12l-9-2z"/><path fill="#353aa8" stroke="#353aa8" d="M8-14l8-7l-7-12l-8 7zM-1-10l9-4l-7-12l-9 4zM-9-9l8-1l-7-12l-8 1z"/></g><g id="s3i"><path fill="#6ebf82" stroke="#6ebf82" d="M59-110l9-23l-7-19l-9 25zM-61-73l9 15l-7-17l-9-17z"/><path fill="#1cb3b0" stroke="#1cb3b0" d="M51-89l8-21l-7-17l-8 21zM-52-58l8 13l-7-17l-8-13z"/><path fill="#079ccf" stroke="#079ccf" d="M42-71l9-18l-7-17l-9 19zM-44-45l9 10l-7-16l-9-11z"/><path fill="#1484d4" stroke="#1484d4" d="M33-55l9-16l-7-16l-9 16zM-35-35l9 8l-7-16l-9-8z"/><path fill="#066fdf" stroke="#066fdf" d="M25-43l8-12l-7-16l-8 13zM-26-27l8 4l-7-15l-8-5z"/><path fill="#0462e0" stroke="#0462e0" d="M16-33l9-10l-7-15l-9 10zM-18-23l9 2l-7-15l-9-2z"/><path fill="#294cca" stroke="#294cca" d="M8-26l8-7l-7-15l-8 7zM-1-22l9-4l-7-15l-9 4zM-9-21l8-1l-7-15l-8 1z"/></g><g id="s3j"><path fill="#8bbf75" stroke="#8bbf75" d="M59-127l9-25l-7-23l-9 26zM-61-92l9 17l-7-22l-9-18z"/><path fill="#4fbc91" stroke="#4fbc91" d="M51-106l8-21l-7-22l-8 23zM-52-75l8 13l-7-20l-8-15z"/><path fill="#1cb3b0" stroke="#1cb3b0" d="M42-87l9-19l-7-20l-9 19zM-44-62l9 11l-7-20l-9-11z"/><path fill="#079ccf" stroke="#079ccf" d="M33-71l9-16l-7-20l-9 17zM-35-51l9 8l-7-19l-9-9z"/><path fill="#1484d4" stroke="#1484d4" d="M25-58l8-13l-7-19l-8 13zM-26-43l8 5l-7-19l-8-5z"/><path fill="#1079da" stroke="#1079da" d="M16-48l9-10l-7-19l-9 10zM-18-38l9 2l-7-19l-9-2z"/><path fill="#066fdf" stroke="#066fdf" d="M8-41l8-7l-7-19l-8 7zM-1-37l9-4l-7-19l-9 4zM-9-36l8-1l-7-19l-8 1z"/></g><g id="s3k"><path fill="#bdbd61" stroke="#bdbd61" d="M59-149l9-26l-7-27l-9 28zM-61-115l9 18l-7-25l-9-20z"/><path fill="#8bbf75" stroke="#8bbf75" d="M51-126l8-23l-7-25l-8 24zM-52-97l8 15l-7-24l-8-16z"/><path fill="#4fbc91" stroke="#4fbc91" d="M42-107l9-19l-7-24l-9 20zM-44-82l9 11l-7-23l-9-12z"/><path fill="#1cb3b0" stroke="#1cb3b0" d="M33-90l9-17l-7-23l-9 17zM-35-71l9 9l-7-23l-9-9z"/><path fill="#06a6c7" stroke="#06a6c7" d="M25-77l8-13l-7-23l-8 14zM-26-62l8 5l-7-22l-8-6z"/><path fill="#0f90d2" stroke="#0f90d2" d="M16-67l9-10l-7-22l-9 11zM-18-57l9 2l-7-21l-9-3z"/><path fill="#1484d4" stroke="#1484d4" d="M8-60l8-7l-7-21l-8 7zM-1-56l9-4l-7-21l-9 4zM-9-55l8-1l-7-21l-8 1z"/></g><g id="s4a"><path fill="#d3bb58" stroke="#d3bb58" d="M59-122l9-28l-8 20l-8 26zM-60-90l8 20l-7 18l-9-18z"/><path fill="#a5be6b" stroke="#a5be6b" d="M51-97l8-25l-7 18l-9 23zM-52-70l9 17l-8 17l-8-16z"/><path fill="#6ebf82" stroke="#6ebf82" d="M42-76l9-21l-8 16l-8 21zM-43-53l8 13l-7 16l-9-12z"/><path fill="#4fbc91" stroke="#4fbc91" d="M34-58l8-18l-7 16l-9 16zM-35-40l9 10l-8 14l-8-8z"/><path fill="#1cb3b0" stroke="#1cb3b0" d="M25-44l9-14l-8 14l-8 14zM-26-30l8 6l-7 14l-9-6z"/><path fill="#06a6c7" stroke="#06a6c7" d="M17-33l8-11l-7 14l-9 10zM-18-24l9 3l-8 13l-8-2z"/><path fill="#079ccf" stroke="#079ccf" d="M8-25l9-8l-8 13l-9 8zM0-21l8-4l-8 13l-8 4zM-9-21l9 0l-8 13l-9 0z"/></g><g id="s4b"><path fill="#a5be6b" stroke="#a5be6b" d="M59-104l9-26l-8 14l-8 25zM-60-70l8 18l-7 13l-9-17z"/><path fill="#6ebf82" stroke="#6ebf82" d="M51-81l8-23l-7 13l-9 23zM-52-52l9 16l-8 12l-8-15z"/><path fill="#33b8a1" stroke="#33b8a1" d="M42-60l9-21l-8 13l-8 19zM-43-36l8 12l-7 11l-9-11z"/><path fill="#06a6c7" stroke="#06a6c7" d="M34-44l8-16l-7 11l-9 16zM-35-24l9 8l-8 11l-8-8z"/><path fill="#0f90d2" stroke="#0f90d2" d="M25-30l9-14l-8 11l-8 13zM-26-16l8 6l-7 10l-9-5z"/><path fill="#1484d4" stroke="#1484d4" d="M17-20l8-10l-7 10l-9 10zM-18-10l9 2l-8 10l-8-2z"/><path fill="#1079da" stroke="#1079da" d="M8-12l9-8l-8 10l-9 7zM0-8l8-4l-8 9l-8 4zM-9-8l9 0l-8 9l-9 1z"/></g><g id="s4c"><path fill="#6ebf82" stroke="#6ebf82" d="M59-91l9-25l-8 10l-8 24zM-60-56l8 17l-7 9l-9-16z"/><path fill="#33b8a1" stroke="#33b8a1" d="M51-68l8-23l-7 9l-9 21zM-52-39l9 15l-8 7l-8-13z"/><path fill="#06a6c7" stroke="#06a6c7" d="M42-49l9-19l-8 7l-8 18zM-43-24l8 11l-7 6l-9-10z"/><path fill="#1484d4" stroke="#1484d4" d="M34-33l8-16l-7 6l-9 16zM-35-13l9 8l-8 6l-8-8z"/><path fill="#1079da" stroke="#1079da" d="M25-20l9-13l-8 6l-8 12zM-26-5l8 5l-7 5l-9-4z"/><path fill="#0462e0" stroke="#0462e0" d="M17-10l8-10l-7 5l-9 10zM8-3l9-7l-8 5l-9 7zM-9 2l9-1l-8 5l-9 1zM-18 0l9 2l-8 5l-8-2z"/><path fill="#294cca" stroke="#294cca" d="M0 1l8-4l-8 5l-8 4z"/></g><g id="s4d"><path fill="#4fbc91" stroke="#4fbc91" d="M59-82l9-24l-8 4l-8 23zM-60-46l8 16l-7 3l-9-15z"/><path fill="#0badbc" stroke="#0badbc" d="M51-61l8-21l-7 3l-9 21zM-52-30l9 13l-8 3l-8-13z"/><path fill="#0f90d2" stroke="#0f90d2" d="M42-43l9-18l-8 3l-8 17zM-43-17l8 10l-7 2l-9-9z"/><path fill="#066fdf" stroke="#066fdf" d="M34-27l8-16l-7 2l-9 15zM-35-7l9 8l-8 1l-8-7z"/><path fill="#0462e0" stroke="#0462e0" d="M25-15l9-12l-8 1l-8 13zM-26 1l8 4l-7 2l-9-5z"/><path fill="#294cca" stroke="#294cca" d="M17-5l8-10l-7 2l-9 9zM-18 5l9 2l-8 1l-8-1z"/><path fill="#353aa8" stroke="#353aa8" d="M8 2l9-7l-8 1l-9 7zM0 6l8-4l-8 1l-8 4zM-9 7l9-1l-8 1l-9 1z"/></g><g id="s4e"><path fill="#33b8a1" stroke="#33b8a1" d="M59-79l9-23l-8-1l-8 23zM-60-42l8 15l-7-1l-9-15z"/><path fill="#079ccf" stroke="#079ccf" d="M51-58l8-21l-7-1l-9 20zM-52-27l9 13l-8-2l-8-12z"/><path fill="#1079da" stroke="#1079da" d="M42-41l9-17l-8-2l-8 17zM-43-14l8 9l-7-2l-9-9z"/><path fill="#0462e0" stroke="#0462e0" d="M34-26l8-15l-7-2l-9 15zM-35-5l9 7l-8-2l-8-7z"/><path fill="#294cca" stroke="#294cca" d="M25-13l9-13l-8-2l-8 12zM-26 2l8 5l-7-3l-9-4z"/><path fill="#353aa8" stroke="#353aa8" d="M17-4l8-9l-7-3l-9 10zM8 3l9-7l-8-2l-9 6zM0 7l8-4l-8-3l-8 4zM-9 8l9-1l-8-3l-9 2zM-18 7l9 1l-8-2l-8-2z"/></g><g id="s4f"><path fill="#1cb3b0" stroke="#1cb3b0" d="M59-80l9-23l-8-7l-8 23zM-60-43l8 15l-7-7l-9-15z"/><path fill="#079ccf" stroke="#079ccf" d="M51-60l8-20l-7-7l-9 20zM-52-28l9 12l-8-6l-8-13z"/><path fill="#1079da" stroke="#1079da" d="M42-43l9-17l-8-7l-8 18zM-43-16l8 9l-7-6l-9-9z"/><path fill="#0462e0" stroke="#0462e0" d="M34-28l8-15l-7-6l-9 15zM-35-7l9 7l-8-6l-8-7z"/><path fill="#294cca" stroke="#294cca" d="M25-16l9-12l-8-6l-8 12zM-26 0l8 4l-7-6l-9-4z"/><path fill="#353aa8" stroke="#353aa8" d="M17-6l8-10l-7-6l-9 9zM8 0l9-6l-8-7l-9 7zM0 4l8-4l-8-6l-8 4zM-9 6l9-2l-8-6l-9 1zM-18 4l9 2l-8-7l-8-1z"/></g><g id="s4g"><path fill="#33b8a1" stroke="#33b8a1" d="M59-87l9-23l-8-11l-8 23zM-60-50l8 15l-7-11l-9-15z"/><path fill="#079ccf" stroke="#079ccf" d="M51-67l8-20l-7-11l-9 20zM-52-35l9 13l-8-12l-8-12z"/><path fill="#1079da" stroke="#1079da" d="M42-49l9-18l-8-11l-8 18zM-43-22l8 9l-7-11l-9-10z"/><path fill="#0462e0" stroke="#0462e0" d="M34-34l8-15l-7-11l-9 15zM-35-13l9 7l-8-11l-8-7z"/><path fill="#294cca" stroke="#294cca" d="M25-22l9-12l-8-11l-8 12zM-26-6l8 4l-7-11l-9-4z"/><path fill="#353aa8" stroke="#353aa8" d="M17-13l8-9l-7-11l-9 10zM8-6l9-7l-8-10l-9 7zM0-2l8-4l-8-10l-8 4zM-9-1l9-1l-8-10l-9 1zM-18-2l9 1l-8-10l-8-2z"/></g><g id="s4h"><path fill="#4fbc91" stroke="#4fbc91" d="M59-98l9-23l-8-17l-8 24zM-60-61l8 15l-7-16l-9-16z"/><path fill="#0badbc" stroke="#0badbc" d="M51-78l8-20l-7-16l-9 21zM-52-46l9 12l-8-15l-8-13z"/><path fill="#0f90d2" stroke="#0f90d2" d="M42-60l9-18l-8-15l-8 18zM-43-34l8 10l-7-15l-9-10z"/><path fill="#066fdf" stroke="#066fdf" d="M34-45l8-15l-7-15l-9 16zM-35-24l9 7l-8-14l-8-8z"/><path fill="#0462e0" stroke="#0462e0" d="M25-33l9-12l-8-14l-8 12zM-26-17l8 4l-7-14l-9-4z"/><path fill="#294cca" stroke="#294cca" d="M17-23l8-10l-7-14l-9 10zM-18-13l9 2l-8-14l-8-2z"/><path fill="#353aa8" stroke="#353aa8" d="M8-16l9-7l-8-14l-9 7zM0-12l8-4l-8-14l-8 4zM-9-11l9-1l-8-14l-9 1z"/></g><g id="s4i"><path fill="#6ebf82" stroke="#6ebf82" d="M59-114l9-24l-8-23l-8 26zM-60-78l8 16l-7-21l-9-17z"/><path fill="#33b8a1" stroke="#33b8a1" d="M51-93l8-21l-7-21l-9 22zM-52-62l9 13l-8-20l-8-14z"/><path fill="#06a6c7" stroke="#06a6c7" d="M42-75l9-18l-8-20l-8 19zM-43-49l8 10l-7-19l-9-11z"/><path fill="#1484d4" stroke="#1484d4" d="M34-59l8-16l-7-19l-9 16zM-35-39l9 8l-8-19l-8-8z"/><path fill="#1079da" stroke="#1079da" d="M25-47l9-12l-8-19l-8 13zM-26-31l8 4l-7-18l-9-5z"/><path fill="#0462e0" stroke="#0462e0" d="M17-37l8-10l-7-18l-9 10zM8-30l9-7l-8-18l-9 7zM-9-25l9-1l-8-18l-9 1zM-18-27l9 2l-8-18l-8-2z"/><path fill="#294cca" stroke="#294cca" d="M0-26l8-4l-8-18l-8 4z"/></g><g id="s4j"><path fill="#a5be6b" stroke="#a5be6b" d="M59-135l9-26l-8-27l-8 26zM-60-100l8 17l-7-27l-9-18z"/><path fill="#6ebf82" stroke="#6ebf82" d="M51-113l8-22l-7-27l-9 24zM-52-83l9 14l-8-25l-8-16z"/><path fill="#33b8a1" stroke="#33b8a1" d="M42-94l9-19l-8-25l-8 20zM-43-69l8 11l-7-24l-9-12z"/><path fill="#06a6c7" stroke="#06a6c7" d="M34-78l8-16l-7-24l-9 17zM-35-58l9 8l-8-23l-8-9z"/><path fill="#0f90d2" stroke="#0f90d2" d="M25-65l9-13l-8-23l-8 13zM-26-50l8 5l-7-23l-9-5z"/><path fill="#1484d4" stroke="#1484d4" d="M17-55l8-10l-7-23l-9 11zM-18-45l9 2l-8-22l-8-3z"/><path fill="#1079da" stroke="#1079da" d="M8-48l9-7l-8-22l-9 7zM0-44l8-4l-8-22l-8 4zM-9-43l9-1l-8-22l-9 1z"/></g><g id="s4k"><path fill="#d3bb58" stroke="#d3bb58" d="M59-162l9-26l-8-33l-8 28zM-60-128l8 18l-7-31l-9-20z"/><path fill="#a5be6b" stroke="#a5be6b" d="M51-138l8-24l-7-31l-9 25zM-52-110l9 16l-8-30l-8-17z"/><path fill="#6ebf82" stroke="#6ebf82" d="M42-118l9-20l-8-30l-8 22zM-43-94l8 12l-7-28l-9-14z"/><path fill="#4fbc91" stroke="#4fbc91" d="M34-101l8-17l-7-28l-9 17zM-35-82l9 9l-8-27l-8-10z"/><path fill="#1cb3b0" stroke="#1cb3b0" d="M25-88l9-13l-8-28l-8 15zM-26-73l8 5l-7-26l-9-6z"/><path fill="#06a6c7" stroke="#06a6c7" d="M17-77l8-11l-7-26l-9 11zM-18-68l9 3l-8-26l-8-3z"/><path fill="#079ccf" stroke="#079ccf" d="M8-70l9-7l-8-26l-9 7zM0-66l8-4l-8-26l-8 4zM-9-65l9-1l-8-26l-9 1z"/></g><g id="s5a"><path fill="#f8d727" stroke="#f8d727" d="M60-143l9-31l-9 29l-9 28zM-60-114l9 23l-9 26l-9-20z"/><path fill="#d3bb58" stroke="#d3bb58" d="M52-117l8-26l-9 26l-8 24zM-51-91l8 18l-9 24l-8-16z"/><path fill="#a5be6b" stroke="#a5be6b" d="M43-94l9-23l-9 24l-9 21zM-43-73l9 15l-9 22l-9-13z"/><path fill="#8bbf75" stroke="#8bbf75" d="M34-75l9-19l-9 22l-9 18zM-34-58l9 11l-9 21l-9-10z"/><path fill="#6ebf82" stroke="#6ebf82" d="M26-60l8-15l-9 21l-8 14zM-25-47l8 7l-9 20l-8-6z"/><path fill="#4fbc91" stroke="#4fbc91" d="M17-48l9-12l-9 20l-9 11zM-17-40l9 4l-9 19l-9-3z"/><path fill="#33b8a1" stroke="#33b8a1" d="M9-40l8-8l-9 19l-8 7zM-8-36l8 0l-9 18l-8 1z"/><path fill="#1cb3b0" stroke="#1cb3b0" d="M0-36l9-4l-9 18l-9 4z"/></g><g id="s5b"><path fill="#bdbd61" stroke="#bdbd61" d="M60-117l9-28l-9 21l-9 26zM-60-85l9 20l-9 19l-9-18z"/><path fill="#8bbf75" stroke="#8bbf75" d="M52-93l8-24l-9 19l-8 23zM-51-65l8 16l-9 18l-8-15z"/><path fill="#6ebf82" stroke="#6ebf82" d="M43-72l9-21l-9 18l-9 20zM-43-49l9 13l-9 17l-9-12z"/><path fill="#33b8a1" stroke="#33b8a1" d="M34-54l9-18l-9 17l-9 16zM-34-36l9 10l-9 15l-9-8z"/><path fill="#0badbc" stroke="#0badbc" d="M26-40l8-14l-9 15l-8 13zM-25-26l8 6l-9 14l-8-5z"/><path fill="#079ccf" stroke="#079ccf" d="M17-29l9-11l-9 14l-9 11zM-17-20l9 3l-9 14l-9-3z"/><path fill="#0f90d2" stroke="#0f90d2" d="M9-22l8-7l-9 14l-8 7zM0-18l9-4l-9 14l-9 4zM-8-17l8-1l-9 14l-8 1z"/></g><g id="s5c"><path fill="#8bbf75" stroke="#8bbf75" d="M60-98l9-26l-9 14l-9 25zM-60-64l9 18l-9 13l-9-16z"/><path fill="#4fbc91" stroke="#4fbc91" d="M52-75l8-23l-9 13l-8 21zM-51-46l8 15l-9 11l-8-13z"/><path fill="#1cb3b0" stroke="#1cb3b0" d="M43-55l9-20l-9 11l-9 19zM-43-31l9 12l-9 10l-9-11z"/><path fill="#079ccf" stroke="#079ccf" d="M34-39l9-16l-9 10l-9 16zM-34-19l9 8l-9 10l-9-8z"/><path fill="#1484d4" stroke="#1484d4" d="M26-26l8-13l-9 10l-8 12zM-25-11l8 5l-9 9l-8-4z"/><path fill="#066fdf" stroke="#066fdf" d="M17-15l9-11l-9 9l-9 10zM9-8l8-7l-9 8l-8 7zM-8-3l8-1l-9 8l-8 1zM-17-6l9 3l-9 8l-9-2z"/><path fill="#0462e0" stroke="#0462e0" d="M0-4l9-4l-9 8l-9 4z"/></g><g id="s5d"><path fill="#6ebf82" stroke="#6ebf82" d="M60-85l9-25l-9 7l-9 24zM-60-49l9 16l-9 6l-9-16z"/><path fill="#1cb3b0" stroke="#1cb3b0" d="M52-64l8-21l-9 6l-8 20zM-51-33l8 13l-9 5l-8-12z"/><path fill="#079ccf" stroke="#079ccf" d="M43-45l9-19l-9 5l-9 18zM-43-20l9 11l-9 4l-9-10z"/><path fill="#1079da" stroke="#1079da" d="M34-29l9-16l-9 4l-9 15zM-34-9l9 8l-9 3l-9-7z"/><path fill="#0462e0" stroke="#0462e0" d="M26-17l8-12l-9 3l-8 13zM-25-1l8 4l-9 4l-8-5z"/><path fill="#294cca" stroke="#294cca" d="M17-7l9-10l-9 4l-9 9zM9 0l8-7l-9 3l-8 7zM0 4l9-4l-9 3l-9 4zM-8 5l8-1l-9 3l-8 1zM-17 3l9 2l-9 3l-9-1z"/></g><g id="s5e"><path fill="#33b8a1" stroke="#33b8a1" d="M60-79l9-24l-9 0l-9 23zM-60-43l9 16l-9-1l-9-15z"/><path fill="#06a6c7" stroke="#06a6c7" d="M52-59l8-20l-9-1l-8 20zM-51-27l8 12l-9-1l-8-12z"/><path fill="#1484d4" stroke="#1484d4" d="M43-41l9-18l-9-1l-9 18zM-43-15l9 10l-9-1l-9-10z"/><path fill="#066fdf" stroke="#066fdf" d="M34-26l9-15l-9-1l-9 15zM-34-5l9 7l-9-1l-9-7z"/><path fill="#294cca" stroke="#294cca" d="M26-13l8-13l-9-1l-8 12zM-25 2l8 5l-9-2l-8-4z"/><path fill="#353aa8" stroke="#353aa8" d="M17-4l9-9l-9-2l-9 9zM9 3l8-7l-9-2l-8 7zM0 7l9-4l-9-2l-9 4zM-8 8l8-1l-9-2l-8 1zM-17 7l9 1l-9-2l-9-1z"/></g><g id="s5f"><path fill="#1cb3b0" stroke="#1cb3b0" d="M60-80l9-23l-9-7l-9 23zM-60-43l9 15l-9-7l-9-15z"/><path fill="#079ccf" stroke="#079ccf" d="M52-60l8-20l-9-7l-8 20zM-51-28l8 12l-9-7l-8-12z"/><path fill="#1079da" stroke="#1079da" d="M43-42l9-18l-9-7l-9 17zM-43-16l9 10l-9-8l-9-9z"/><path fill="#0462e0" stroke="#0462e0" d="M34-27l9-15l-9-8l-9 15zM-34-6l9 7l-9-8l-9-7z"/><path fill="#294cca" stroke="#294cca" d="M26-15l8-12l-9-8l-8 12zM-25 1l8 4l-9-8l-8-4z"/><path fill="#353aa8" stroke="#353aa8" d="M17-6l9-9l-9-8l-9 10zM9 1l8-7l-9-7l-8 6zM0 5l9-4l-9-8l-9 4zM-8 6l8-1l-9-8l-8 2zM-17 5l9 1l-9-7l-9-2z"/></g><g id="s5g"><path fill="#33b8a1" stroke="#33b8a1" d="M60-87l9-23l-9-15l-9 23zM-60-50l9 15l-9-15l-9-15z"/><path fill="#06a6c7" stroke="#06a6c7" d="M52-67l8-20l-9-15l-8 21zM-51-35l8 12l-9-14l-8-13z"/><path fill="#1484d4" stroke="#1484d4" d="M43-50l9-17l-9-14l-9 18zM-43-23l9 9l-9-13l-9-10z"/><path fill="#066fdf" stroke="#066fdf" d="M34-35l9-15l-9-13l-9 15zM-34-14l9 7l-9-13l-9-7z"/><path fill="#294cca" stroke="#294cca" d="M26-23l8-12l-9-13l-8 12zM-25-7l8 4l-9-13l-8-4z"/><path fill="#353aa8" stroke="#353aa8" d="M17-13l9-10l-9-13l-9 10zM9-7l8-6l-9-13l-8 7zM0-3l9-4l-9-12l-9 4zM-8-1l8-2l-9-12l-8 1zM-17-3l9 2l-9-13l-9-2z"/></g><g id="s5h"><path fill="#6ebf82" stroke="#6ebf82" d="M60-102l9-23l-9-22l-9 24zM-60-65l9 15l-9-21l-9-16z"/><path fill="#1cb3b0" stroke="#1cb3b0" d="M52-81l8-21l-9-21l-8 22zM-51-50l8 13l-9-20l-8-14z"/><path fill="#079ccf" stroke="#079ccf" d="M43-63l9-18l-9-20l-9 18zM-43-37l9 10l-9-20l-9-10z"/><path fill="#1079da" stroke="#1079da" d="M34-48l9-15l-9-20l-9 16zM-34-27l9 7l-9-19l-9-8z"/><path fill="#0462e0" stroke="#0462e0" d="M26-36l8-12l-9-19l-8 13zM-25-20l8 4l-9-18l-8-5z"/><path fill="#294cca" stroke="#294cca" d="M17-26l9-10l-9-18l-9 10zM9-19l8-7l-9-18l-8 6zM0-15l9-4l-9-19l-9 4zM-8-14l8-1l-9-19l-8 2zM-17-16l9 2l-9-18l-9-2z"/></g><g id="s5i"><path fill="#8bbf75" stroke="#8bbf75" d="M60-123l9-24l-9-29l-9 26zM-60-87l9 16l-9-27l-9-18z"/><path fill="#4fbc91" stroke="#4fbc91" d="M52-101l8-22l-9-27l-8 22zM-51-71l8 14l-9-27l-8-14z"/><path fill="#1cb3b0" stroke="#1cb3b0" d="M43-83l9-18l-9-27l-9 20zM-43-57l9 10l-9-25l-9-12z"/><path fill="#079ccf" stroke="#079ccf" d="M34-67l9-16l-9-25l-9 17zM-34-47l9 8l-9-24l-9-9z"/><path fill="#1484d4" stroke="#1484d4" d="M26-54l8-13l-9-24l-8 13zM-25-39l8 5l-9-24l-8-5z"/><path fill="#066fdf" stroke="#066fdf" d="M17-44l9-10l-9-24l-9 10zM9-38l8-6l-9-24l-8 7zM-8-32l8-2l-9-23l-8 1zM-17-34l9 2l-9-24l-9-2z"/><path fill="#0462e0" stroke="#0462e0" d="M0-34l9-4l-9-23l-9 4z"/></g><g id="s5j"><path fill="#bdbd61" stroke="#bdbd61" d="M60-150l9-26l-9-37l-9 28zM-60-116l9 18l-9-35l-9-20z"/><path fill="#8bbf75" stroke="#8bbf75" d="M52-128l8-22l-9-35l-8 25zM-51-98l8 14l-9-32l-8-17z"/><path fill="#6ebf82" stroke="#6ebf82" d="M43-108l9-20l-9-32l-9 21zM-43-84l9 12l-9-31l-9-13z"/><path fill="#33b8a1" stroke="#33b8a1" d="M34-91l9-17l-9-31l-9 17zM-34-72l9 9l-9-31l-9-9z"/><path fill="#0badbc" stroke="#0badbc" d="M26-78l8-13l-9-31l-8 15zM-25-63l8 5l-9-29l-8-7z"/><path fill="#079ccf" stroke="#079ccf" d="M17-68l9-10l-9-29l-9 10zM-17-58l9 2l-9-29l-9-2z"/><path fill="#0f90d2" stroke="#0f90d2" d="M9-61l8-7l-9-29l-8 8zM0-57l9-4l-9-28l-9 4zM-8-56l8-1l-9-28l-8 0z"/></g><g id="s5k"><path fill="#f8d727" stroke="#f8d727" d="M60-185l9-28l-9-43l-9 30zM-60-153l9 20l-9-41l-9-22z"/><path fill="#d3bb58" stroke="#d3bb58" d="M52-160l8-25l-9-41l-8 27zM-51-133l8 17l-9-39l-8-19z"/><path fill="#a5be6b" stroke="#a5be6b" d="M43-139l9-21l-9-39l-9 22zM-43-116l9 13l-9-38l-9-14z"/><path fill="#8bbf75" stroke="#8bbf75" d="M34-122l9-17l-9-38l-9 19zM-34-103l9 9l-9-36l-9-11z"/><path fill="#6ebf82" stroke="#6ebf82" d="M26-107l8-15l-9-36l-8 16zM-25-94l8 7l-9-35l-8-8z"/><path fill="#4fbc91" stroke="#4fbc91" d="M17-97l9-10l-9-35l-9 11zM-17-87l9 2l-9-34l-9-3z"/><path fill="#33b8a1" stroke="#33b8a1" d="M9-89l8-8l-9-34l-8 8zM-8-85l8 0l-9-34l-8 0z"/><path fill="#1cb3b0" stroke="#1cb3b0" d="M0-85l9-4l-9-34l-9 4z"/></g><g id="s6a"><path fill="#f8d727" stroke="#f8d727" d="M60-143l9-30l-9 28l-9 28zM-60-113l9 22l-9 26l-9-20z"/><path fill="#d3bb58" stroke="#d3bb58" d="M52-116l8-27l-9 26l-8 24zM-51-91l8 19l-9 24l-8-17z"/><path fill="#a5be6b" stroke="#a5be6b" d="M43-94l9-22l-9 23l-9 21zM-43-72l9 14l-9 23l-9-13z"/><path fill="#8bbf75" stroke="#8bbf75" d="M34-75l9-19l-9 22l-9 18zM-34-58l9 11l-9 21l-9-9z"/><path fill="#6ebf82" stroke="#6ebf82" d="M26-59l8-16l-9 21l-8 14zM-25-47l8 8l-9 19l-8-6z"/><path fill="#4fbc91" stroke="#4fbc91" d="M17-48l9-11l-9 19l-9 11zM-17-39l9 3l-9 19l-9-3z"/><path fill="#33b8a1" stroke="#33b8a1" d="M9-40l8-8l-9 19l-8 7zM-8-36l8 0l-9 18l-8 1z"/><path fill="#1cb3b0" stroke="#1cb3b0" d="M0-36l9-4l-9 18l-9 4z"/></g><g id="s6b"><path fill="#bdbd61" stroke="#bdbd61" d="M60-117l9-28l-9 22l-9 25zM-60-85l9 20l-9 19l-9-17z"/><path fill="#8bbf75" stroke="#8bbf75" d="M52-93l8-24l-9 19l-8 23zM-51-65l8 17l-9 17l-8-15z"/><path fill="#6ebf82" stroke="#6ebf82" d="M43-72l9-21l-9 18l-9 20zM-43-48l9 13l-9 16l-9-12z"/><path fill="#33b8a1" stroke="#33b8a1" d="M34-54l9-18l-9 17l-9 16zM-34-35l9 9l-9 15l-9-8z"/><path fill="#0badbc" stroke="#0badbc" d="M26-40l8-14l-9 15l-8 14zM-25-26l8 6l-9 15l-8-6z"/><path fill="#079ccf" stroke="#079ccf" d="M17-29l9-11l-9 15l-9 10zM-17-20l9 3l-9 14l-9-2z"/><path fill="#0f90d2" stroke="#0f90d2" d="M9-22l8-7l-9 14l-8 7zM0-18l9-4l-9 14l-9 4zM-8-17l8-1l-9 14l-8 1z"/></g><g id="s6c"><path fill="#8bbf75" stroke="#8bbf75" d="M60-98l9-25l-9 14l-9 24zM-60-63l9 17l-9 13l-9-16z"/><path fill="#4fbc91" stroke="#4fbc91" d="M52-75l8-23l-9 13l-8 21zM-51-46l8 15l-9 11l-8-13z"/><path fill="#1cb3b0" stroke="#1cb3b0" d="M43-55l9-20l-9 11l-9 19zM-43-31l9 12l-9 10l-9-11z"/><path fill="#079ccf" stroke="#079ccf" d="M34-39l9-16l-9 10l-9 16zM-34-19l9 8l-9 10l-9-8z"/><path fill="#1484d4" stroke="#1484d4" d="M26-25l8-14l-9 10l-8 12zM-25-11l8 6l-9 8l-8-4z"/><path fill="#066fdf" stroke="#066fdf" d="M17-15l9-10l-9 8l-9 10zM9-8l8-7l-9 8l-8 7zM-8-3l8-1l-9 8l-8 1zM-17-5l9 2l-9 8l-9-2z"/><path fill="#0462e0" stroke="#0462e0" d="M0-4l9-4l-9 8l-9 4z"/></g><g id="s6d"><path fill="#6ebf82" stroke="#6ebf82" d="M60-85l9-24l-9 6l-9 24zM-60-49l9 16l-9 6l-9-16z"/><path fill="#1cb3b0" stroke="#1cb3b0" d="M52-64l8-21l-9 6l-8 20zM-51-33l8 13l-9 5l-8-12z"/><path fill="#0f90d2" stroke="#0f90d2" d="M43-45l9-19l-9 5l-9 18zM-43-20l9 11l-9 4l-9-10z"/><path fill="#1079da" stroke="#1079da" d="M34-29l9-16l-9 4l-9 15zM-34-9l9 8l-9 3l-9-7z"/><path fill="#0462e0" stroke="#0462e0" d="M26-17l8-12l-9 3l-8 13zM-25-1l8 4l-9 4l-8-5z"/><path fill="#294cca" stroke="#294cca" d="M17-7l9-10l-9 4l-9 9zM9 0l8-7l-9 3l-8 7zM0 4l9-4l-9 3l-9 4zM-8 5l8-1l-9 3l-8 1zM-17 3l9 2l-9 3l-9-1z"/></g><g id="s6e"><path fill="#33b8a1" stroke="#33b8a1" d="M60-79l9-24l-9 0l-9 23zM-60-43l9 16l-9-1l-9-15z"/><path fill="#06a6c7" stroke="#06a6c7" d="M52-59l8-20l-9-1l-8 20zM-51-27l8 12l-9-1l-8-12z"/><path fill="#1484d4" stroke="#1484d4" d="M43-41l9-18l-9-1l-9 18zM-43-15l9 10l-9-1l-9-10z"/><path fill="#066fdf" stroke="#066fdf" d="M34-26l9-15l-9-1l-9 15zM-34-5l9 7l-9-1l-9-7z"/><path fill="#294cca" stroke="#294cca" d="M26-13l8-13l-9-1l-8 12zM-25 2l8 5l-9-2l-8-4z"/><path fill="#353aa8" stroke="#353aa8" d="M17-4l9-9l-9-2l-9 9zM9 3l8-7l-9-2l-8 7zM0 7l9-4l-9-2l-9 4zM-8 8l8-1l-9-2l-8 1zM-17 7l9 1l-9-2l-9-1z"/></g><g id="s6f"><path fill="#1cb3b0" stroke="#1cb3b0" d="M60-80l9-23l-9-7l-9 23zM-60-43l9 15l-9-7l-9-15z"/><path fill="#079ccf" stroke="#079ccf" d="M52-60l8-20l-9-7l-8 20zM-51-28l8 12l-9-7l-8-12z"/><path fill="#1079da" stroke="#1079da" d="M43-42l9-18l-9-7l-9 17zM-43-16l9 10l-9-8l-9-9z"/><path fill="#0462e0" stroke="#0462e0" d="M34-27l9-15l-9-8l-9 15zM-34-6l9 7l-9-8l-9-7z"/><path fill="#294cca" stroke="#294cca" d="M26-15l8-12l-9-8l-8 12zM-25 1l8 4l-9-8l-8-4z"/><path fill="#353aa8" stroke="#353aa8" d="M17-6l9-9l-9-8l-9 10zM9 1l8-7l-9-7l-8 6zM0 5l9-4l-9-8l-9 4zM-8 6l8-1l-9-8l-8 2zM-17 5l9 1l-9-7l-9-2z"/></g><g id="s6g"><path fill="#33b8a1" stroke="#33b8a1" d="M60-87l9-23l-9-15l-9 23zM-60-50l9 15l-9-15l-9-15z"/><path fill="#06a6c7" stroke="#06a6c7" d="M52-67l8-20l-9-15l-8 21zM-51-35l8 12l-9-14l-8-13z"/><path fill="#1484d4" stroke="#1484d4" d="M43-50l9-17l-9-14l-9 18zM-43-23l9 9l-9-13l-9-10z"/><path fill="#066fdf" stroke="#066fdf" d="M34-35l9-15l-9-13l-9 15zM-34-14l9 7l-9-13l-9-7z"/><path fill="#294cca" stroke="#294cca" d="M26-23l8-12l-9-13l-8 12zM-25-7l8 4l-9-13l-8-4z"/><path fill="#353aa8" stroke="#353aa8" d="M17-13l9-10l-9-13l-9 10zM9-7l8-6l-9-13l-8 7zM0-3l9-4l-9-12l-9 4zM-8-1l8-2l-9-12l-8 1zM-17-3l9 2l-9-13l-9-2z"/></g><g id="s6h"><path fill="#6ebf82" stroke="#6ebf82" d="M60-102l9-23l-9-22l-9 25zM-60-65l9 15l-9-20l-9-17z"/><path fill="#1cb3b0" stroke="#1cb3b0" d="M52-81l8-21l-9-20l-8 21zM-51-50l8 13l-9-20l-8-13z"/><path fill="#0f90d2" stroke="#0f90d2" d="M43-63l9-18l-9-20l-9 19zM-43-37l9 10l-9-19l-9-11z"/><path fill="#1079da" stroke="#1079da" d="M34-48l9-15l-9-19l-9 15zM-34-27l9 7l-9-19l-9-7z"/><path fill="#0462e0" stroke="#0462e0" d="M26-36l8-12l-9-19l-8 13zM-25-20l8 4l-9-18l-8-5z"/><path fill="#294cca" stroke="#294cca" d="M17-26l9-10l-9-18l-9 10zM9-19l8-7l-9-18l-8 7zM0-15l9-4l-9-18l-9 4zM-8-14l8-1l-9-18l-8 1zM-17-16l9 2l-9-18l-9-2z"/></g><g id="s6i"><path fill="#8bbf75" stroke="#8bbf75" d="M60-122l9-25l-9-29l-9 26zM-60-87l9 17l-9-28l-9-18z"/><path fill="#4fbc91" stroke="#4fbc91" d="M52-101l8-21l-9-28l-8 23zM-51-70l8 13l-9-26l-8-15z"/><path fill="#1cb3b0" stroke="#1cb3b0" d="M43-82l9-19l-9-26l-9 19zM-43-57l9 11l-9-26l-9-11z"/><path fill="#079ccf" stroke="#079ccf" d="M34-67l9-15l-9-26l-9 17zM-34-46l9 7l-9-24l-9-9z"/><path fill="#1484d4" stroke="#1484d4" d="M26-54l8-13l-9-24l-8 13zM-25-39l8 5l-9-24l-8-5z"/><path fill="#066fdf" stroke="#066fdf" d="M17-44l9-10l-9-24l-9 10zM9-37l8-7l-9-24l-8 8zM-8-32l8-1l-9-23l-8 0zM-17-34l9 2l-9-24l-9-2z"/><path fill="#0462e0" stroke="#0462e0" d="M0-33l9-4l-9-23l-9 4z"/></g><g id="s6j"><path fill="#bdbd61" stroke="#bdbd61" d="M60-150l9-26l-9-36l-9 28zM-60-116l9 18l-9-34l-9-20z"/><path fill="#8bbf75" stroke="#8bbf75" d="M52-127l8-23l-9-34l-8 24zM-51-98l8 15l-9-33l-8-16z"/><path fill="#6ebf82" stroke="#6ebf82" d="M43-108l9-19l-9-33l-9 21zM-43-83l9 11l-9-31l-9-13z"/><path fill="#33b8a1" stroke="#33b8a1" d="M34-91l9-17l-9-31l-9 18zM-34-72l9 9l-9-30l-9-10z"/><path fill="#0badbc" stroke="#0badbc" d="M26-78l8-13l-9-30l-8 14zM-25-63l8 5l-9-29l-8-6z"/><path fill="#079ccf" stroke="#079ccf" d="M17-68l9-10l-9-29l-9 11zM-17-58l9 2l-9-28l-9-3z"/><path fill="#0f90d2" stroke="#0f90d2" d="M9-60l8-8l-9-28l-8 7zM0-56l9-4l-9-29l-9 4zM-8-56l8 0l-9-29l-8 1z"/></g><g id="s6k"><path fill="#f8d727" stroke="#f8d727" d="M60-184l9-28l-9-43l-9 30zM-60-152l9 20l-9-41l-9-22z"/><path fill="#d3bb58" stroke="#d3bb58" d="M52-160l8-24l-9-41l-8 26zM-51-132l8 16l-9-39l-8-18z"/><path fill="#a5be6b" stroke="#a5be6b" d="M43-139l9-21l-9-39l-9 23zM-43-116l9 13l-9-37l-9-15z"/><path fill="#8bbf75" stroke="#8bbf75" d="M34-121l9-18l-9-37l-9 19zM-34-103l9 10l-9-36l-9-11z"/><path fill="#6ebf82" stroke="#6ebf82" d="M26-107l8-14l-9-36l-8 15zM-25-93l8 6l-9-35l-8-7z"/><path fill="#4fbc91" stroke="#4fbc91" d="M17-96l9-11l-9-35l-9 12zM-17-87l9 3l-9-34l-9-4z"/><path fill="#33b8a1" stroke="#33b8a1" d="M9-89l8-7l-9-34l-8 8zM-8-84l8-1l-9-33l-8 0z"/><path fill="#1cb3b0" stroke="#1cb3b0" d="M0-85l9-4l-9-33l-9 4z"/></g><g id="s7a"><path fill="#f5e71b" stroke="#f5e71b" d="M60-154l9-31l-10 33l-8 28zM-59-125l8 23l-9 30l-9-20z"/><path fill="#fbbc41" stroke="#fbbc41" d="M52-126l8-28l-9 30l-9 25zM-51-102l9 20l-10 27l-8-17z"/><path fill="#bdbd61" stroke="#bdbd61" d="M43-103l9-23l-10 27l-8 22zM-42-82l8 15l-9 26l-9-14z"/><path fill="#a5be6b" stroke="#a5be6b" d="M35-83l8-20l-9 26l-9 18zM-34-67l9 12l-10 24l-8-10z"/><path fill="#6ebf82" stroke="#6ebf82" d="M26-68l9-15l-10 24l-8 14zM18-56l8-12l-9 23l-9 11zM-17-48l9 4l-10 22l-8-3zM-25-55l8 7l-9 23l-9-6z"/><path fill="#4fbc91" stroke="#4fbc91" d="M9-48l9-8l-10 22l-9 8zM1-44l8-4l-10 22l-8 4zM-8-44l9 0l-10 22l-9 0z"/></g><g id="s7b"><path fill="#d3bb58" stroke="#d3bb58" d="M60-124l9-28l-10 24l-8 27zM-59-92l8 20l-9 23l-9-19z"/><path fill="#a5be6b" stroke="#a5be6b" d="M52-99l8-25l-9 23l-9 23zM-51-72l9 17l-10 21l-8-15z"/><path fill="#6ebf82" stroke="#6ebf82" d="M43-77l9-22l-10 21l-8 19zM-42-55l8 14l-9 19l-9-12z"/><path fill="#4fbc91" stroke="#4fbc91" d="M35-59l8-18l-9 18l-9 17zM-34-41l9 10l-10 17l-8-8z"/><path fill="#1cb3b0" stroke="#1cb3b0" d="M26-45l9-14l-10 17l-8 14zM-25-31l8 6l-9 17l-9-6z"/><path fill="#06a6c7" stroke="#06a6c7" d="M18-34l8-11l-9 17l-9 10zM-17-25l9 3l-10 16l-8-2z"/><path fill="#079ccf" stroke="#079ccf" d="M9-26l9-8l-10 16l-9 7zM1-22l8-4l-10 15l-8 4zM-8-22l9 0l-10 15l-9 1z"/></g><g id="s7c"><path fill="#8bbf75" stroke="#8bbf75" d="M60-101l9-27l-10 17l-8 24zM-59-68l8 19l-9 14l-9-16z"/><path fill="#6ebf82" stroke="#6ebf82" d="M52-78l8-23l-9 14l-9 22zM-51-49l9 15l-10 13l-8-14z"/><path fill="#1cb3b0" stroke="#1cb3b0" d="M43-59l9-19l-10 13l-8 19zM-42-34l8 12l-9 12l-9-11z"/><path fill="#06a6c7" stroke="#06a6c7" d="M35-42l8-17l-9 13l-9 15zM-34-22l9 8l-10 11l-8-7z"/><path fill="#1484d4" stroke="#1484d4" d="M26-28l9-14l-10 11l-8 13zM-25-14l8 6l-9 10l-9-5z"/><path fill="#1079da" stroke="#1079da" d="M18-18l8-10l-9 10l-9 10zM-17-8l9 2l-10 10l-8-2z"/><path fill="#066fdf" stroke="#066fdf" d="M9-11l9-7l-10 10l-9 7zM1-7l8-4l-10 10l-8 4zM-8-6l9-1l-10 10l-9 1z"/></g><g id="s7d"><path fill="#6ebf82" stroke="#6ebf82" d="M60-87l9-24l-10 8l-8 24zM-59-51l8 16l-9 8l-9-16z"/><path fill="#1cb3b0" stroke="#1cb3b0" d="M52-65l8-22l-9 8l-9 20zM-51-35l9 14l-10 6l-8-12z"/><path fill="#079ccf" stroke="#079ccf" d="M43-46l9-19l-10 6l-8 18zM-42-21l8 11l-9 5l-9-10z"/><path fill="#1079da" stroke="#1079da" d="M35-31l8-15l-9 5l-9 15zM-34-10l9 7l-10 5l-8-7z"/><path fill="#066fdf" stroke="#066fdf" d="M26-18l9-13l-10 5l-8 13zM-25-3l8 5l-9 5l-9-5z"/><path fill="#0462e0" stroke="#0462e0" d="M18-8l8-10l-9 5l-9 9zM-17 2l9 2l-10 4l-8-1z"/><path fill="#294cca" stroke="#294cca" d="M9-1l9-7l-10 4l-9 7zM1 3l8-4l-10 4l-8 4zM-8 4l9-1l-10 4l-9 1z"/></g><g id="s7e"><path fill="#33b8a1" stroke="#33b8a1" d="M60-79l9-24l-10 0l-8 23zM-59-43l8 16l-9-1l-9-15z"/><path fill="#06a6c7" stroke="#06a6c7" d="M52-59l8-20l-9-1l-9 20zM-51-27l9 12l-10-1l-8-12z"/><path fill="#1484d4" stroke="#1484d4" d="M43-41l9-18l-10-1l-8 18zM-42-15l8 10l-9-1l-9-10z"/><path fill="#066fdf" stroke="#066fdf" d="M35-26l8-15l-9-1l-9 15zM-34-5l9 7l-10-1l-8-7z"/><path fill="#294cca" stroke="#294cca" d="M26-13l9-13l-10-1l-8 12zM-25 2l8 5l-9-2l-9-4z"/><path fill="#353aa8" stroke="#353aa8" d="M18-4l8-9l-9-2l-9 9zM9 3l9-7l-10-2l-9 7zM1 7l8-4l-10-2l-8 4zM-8 8l9-1l-10-2l-9 1zM-17 7l9 1l-10-2l-8-1z"/></g><g id="s7f"><path fill="#1cb3b0" stroke="#1cb3b0" d="M60-80l9-23l-10-8l-8 23zM-59-43l8 15l-9-8l-9-15z"/><path fill="#079ccf" stroke="#079ccf" d="M52-60l8-20l-9-8l-9 20zM-51-28l9 12l-10-8l-8-12z"/><path fill="#1079da" stroke="#1079da" d="M43-42l9-18l-10-8l-8 18zM-42-16l8 10l-9-8l-9-10z"/><path fill="#0462e0" stroke="#0462e0" d="M35-27l8-15l-9-8l-9 15zM-34-6l9 7l-10-8l-8-7z"/><path fill="#294cca" stroke="#294cca" d="M26-15l9-12l-10-8l-8 12zM-25 1l8 4l-9-8l-9-4z"/><path fill="#353aa8" stroke="#353aa8" d="M18-6l8-9l-9-8l-9 9zM9 1l9-7l-10-8l-9 7zM1 5l8-4l-10-8l-8 4zM-8 6l9-1l-10-8l-9 1zM-17 5l9 1l-10-8l-8-1z"/></g><g id="s7g"><path fill="#33b8a1" stroke="#33b8a1" d="M60-88l9-23l-10-16l-8 24zM-59-51l8 15l-9-15l-9-16z"/><path fill="#06a6c7" stroke="#06a6c7" d="M52-68l8-20l-9-15l-9 20zM-51-36l9 12l-10-15l-8-12z"/><path fill="#1484d4" stroke="#1484d4" d="M43-50l9-18l-10-15l-8 18zM-42-24l8 10l-9-15l-9-10z"/><path fill="#066fdf" stroke="#066fdf" d="M35-35l8-15l-9-15l-9 15zM-34-14l9 7l-10-15l-8-7z"/><path fill="#294cca" stroke="#294cca" d="M26-23l9-12l-10-15l-8 13zM-25-7l8 4l-9-14l-9-5z"/><path fill="#353aa8" stroke="#353aa8" d="M18-14l8-9l-9-14l-9 9zM9-7l9-7l-10-14l-9 7zM1-3l8-4l-10-14l-8 4zM-8-2l9-1l-10-14l-9 1zM-17-3l9 1l-10-14l-8-1z"/></g><g id="s7h"><path fill="#6ebf82" stroke="#6ebf82" d="M60-103l9-24l-10-24l-8 24zM-59-67l8 16l-9-24l-9-16z"/><path fill="#1cb3b0" stroke="#1cb3b0" d="M52-83l8-20l-9-24l-9 22zM-51-51l9 12l-10-22l-8-14z"/><path fill="#079ccf" stroke="#079ccf" d="M43-65l9-18l-10-22l-8 19zM-42-39l8 10l-9-21l-9-11z"/><path fill="#1079da" stroke="#1079da" d="M35-50l8-15l-9-21l-9 16zM-34-29l9 7l-10-20l-8-8z"/><path fill="#066fdf" stroke="#066fdf" d="M26-37l9-13l-10-20l-8 12zM-25-22l8 5l-9-21l-9-4z"/><path fill="#0462e0" stroke="#0462e0" d="M18-28l8-9l-9-21l-9 10zM-17-17l9 1l-10-20l-8-2z"/><path fill="#294cca" stroke="#294cca" d="M9-21l9-7l-10-20l-9 7zM1-17l8-4l-10-20l-8 4zM-8-16l9-1l-10-20l-9 1z"/></g><g id="s7i"><path fill="#8bbf75" stroke="#8bbf75" d="M60-127l9-24l-10-33l-8 27zM-59-91l8 16l-9-30l-9-18z"/><path fill="#6ebf82" stroke="#6ebf82" d="M52-105l8-22l-9-30l-9 23zM-51-75l9 14l-10-29l-8-15z"/><path fill="#1cb3b0" stroke="#1cb3b0" d="M43-86l9-19l-10-29l-8 20zM-42-61l8 11l-9-28l-9-12z"/><path fill="#06a6c7" stroke="#06a6c7" d="M35-70l8-16l-9-28l-9 16zM-34-50l9 8l-10-28l-8-8z"/><path fill="#1484d4" stroke="#1484d4" d="M26-58l9-12l-10-28l-8 14zM-25-42l8 4l-9-26l-9-6z"/><path fill="#1079da" stroke="#1079da" d="M18-48l8-10l-9-26l-9 10zM-17-38l9 2l-10-26l-8-2z"/><path fill="#066fdf" stroke="#066fdf" d="M9-41l9-7l-10-26l-9 7zM1-37l8-4l-10-26l-8 4zM-8-36l9-1l-10-26l-9 1z"/></g><g id="s7j"><path fill="#d3bb58" stroke="#d3bb58" d="M60-157l9-27l-10-40l-8 28zM-59-123l8 18l-9-39l-9-20z"/><path fill="#a5be6b" stroke="#a5be6b" d="M52-134l8-23l-9-39l-9 25zM-51-105l9 15l-10-37l-8-17z"/><path fill="#6ebf82" stroke="#6ebf82" d="M43-114l9-20l-10-37l-8 22zM-42-90l8 12l-9-35l-9-14z"/><path fill="#4fbc91" stroke="#4fbc91" d="M35-98l8-16l-9-35l-9 18zM-34-78l9 8l-10-33l-8-10z"/><path fill="#1cb3b0" stroke="#1cb3b0" d="M26-84l9-14l-10-33l-8 14zM-25-70l8 6l-9-33l-9-6z"/><path fill="#06a6c7" stroke="#06a6c7" d="M18-74l8-10l-9-33l-9 11zM-17-64l9 2l-10-32l-8-3z"/><path fill="#079ccf" stroke="#079ccf" d="M9-67l9-7l-10-32l-9 8zM1-63l8-4l-10-31l-8 4zM-8-62l9-1l-10-31l-9 0z"/></g><g id="s7k"><path fill="#f5e71b" stroke="#f5e71b" d="M60-196l9-28l-10-49l-8 31zM-59-164l8 20l-9-46l-9-23z"/><path fill="#fbbc41" stroke="#fbbc41" d="M52-171l8-25l-9-46l-9 28zM-51-144l9 17l-10-43l-8-20z"/><path fill="#bdbd61" stroke="#bdbd61" d="M43-149l9-22l-10-43l-8 23zM-42-127l8 14l-9-42l-9-15z"/><path fill="#a5be6b" stroke="#a5be6b" d="M35-131l8-18l-9-42l-9 20zM-34-113l9 10l-10-40l-8-12z"/><path fill="#6ebf82" stroke="#6ebf82" d="M26-117l9-14l-10-40l-8 15zM18-106l8-11l-9-39l-9 12zM-17-97l9 3l-10-38l-8-3zM-25-103l8 6l-9-38l-9-8z"/><path fill="#4fbc91" stroke="#4fbc91" d="M9-98l9-8l-10-38l-9 8zM1-94l8-4l-10-38l-8 4zM-8-94l9 0l-10-38l-9 0z"/></g><clipPath id="k0"><rect x="-49" y="-400" width="98" height="700"/></clipPath><clipPath id="k1"><rect x="-55" y="-400" width="110" height="700"/></clipPath><clipPath id="k2"><rect x="-59" y="-400" width="118" height="700"/></clipPath><clipPath id="k3"><rect x="-63" y="-400" width="127" height="700"/></clipPath><clipPath id="k4"><rect x="-63" y="-400" width="125" height="700"/></clipPath><clipPath id="k5"><rect x="-61" y="-400" width="122" height="700"/></clipPath><clipPath id="k6"><rect x="-63" y="-400" width="125" height="700"/></clipPath><clipPath id="k7"><rect x="-67" y="-400" width="134" height="700"/></clipPath></defs><g id="panel-a"><polyline points="26.2,52.6 26.2,66 100.7,126.9 187.9,75.8" fill="none" stroke="#5a5a5a" stroke-width="0.5"/><polyline points="26.2,52.6 24.5,51.4" fill="none" stroke="#5a5a5a" stroke-width="0.5"/><polyline points="26.2,66 24.5,64.8" fill="none" stroke="#5a5a5a" stroke-width="0.5"/><polyline points="100.7,126.9 99.6,128.6" fill="none" stroke="#5a5a5a" stroke-width="0.5"/><polyline points="100.7,126.9 101.9,128.5" fill="none" stroke="#5a5a5a" stroke-width="0.5"/><polyline points="185.8,77.1 187,78.9" fill="none" stroke="#5a5a5a" stroke-width="0.5"/><polyline points="144.3,101.2 145.3,102.8" fill="none" stroke="#5a5a5a" stroke-width="0.5"/><polyline points="63.5,96.4 62.6,98" fill="none" stroke="#5a5a5a" stroke-width="0.5"/><g transform="scale(.1)" stroke-width="3" stroke-linejoin="round"><use href="#ca" x="1120" y="353"/><use href="#ca" x="1016" y="413"/><use href="#ca" x="913" y="474"/><use href="#ca" x="809" y="534"/><use href="#ca" x="705" y="594"/><use href="#ca" x="601" y="655"/><use href="#ca" x="498" y="715"/><use href="#ca" x="394" y="775"/><use href="#ca" x="1208" y="426"/><use href="#ca" x="1105" y="486"/><use href="#ca" x="1001" y="546"/><use href="#ca" x="897" y="607"/><use href="#ca" x="793" y="667"/><use href="#ca" x="690" y="727"/><use href="#ca" x="586" y="788"/><use href="#ca" x="482" y="848"/><use href="#ca" x="1297" y="498"/><use href="#ca" x="1193" y="559"/><use href="#ca" x="1089" y="619"/><use href="#ca" x="985" y="679"/><use href="#ca" x="882" y="740"/><use href="#ca" x="778" y="800"/><use href="#ca" x="674" y="860"/><use href="#ca" x="571" y="921"/><use href="#ca" x="1385" y="571"/><use href="#ca" x="1281" y="631"/><use href="#ca" x="1177" y="692"/><use href="#ca" x="1074" y="752"/><use href="#ca" x="970" y="812"/><use href="#ca" x="866" y="873"/><use href="#ca" x="763" y="933"/><use href="#ca" x="659" y="993"/><use href="#ca" x="1473" y="644"/><use href="#ca" x="1369" y="704"/><use href="#ca" x="1266" y="764"/><use href="#ca" x="1162" y="825"/><use href="#ca" x="1058" y="885"/><use href="#ca" x="955" y="945"/><use href="#ca" x="851" y="1006"/><use href="#ca" x="747" y="1066"/><use href="#ca" x="1561" y="717"/><use href="#ca" x="1458" y="777"/><use href="#ca" x="1354" y="837"/><use href="#ca" x="1250" y="897"/><use href="#ca" x="1147" y="958"/><use href="#ca" x="1043" y="1018"/><use href="#ca" x="939" y="1078"/><use href="#ca" x="835" y="1139"/><use href="#ca" x="1650" y="789"/><use href="#ca" x="1546" y="850"/><use href="#ca" x="1442" y="910"/><use href="#ca" x="1339" y="970"/><use href="#ca" x="1235" y="1030"/><use href="#ca" x="1131" y="1091"/><use href="#ca" x="1027" y="1151"/><use href="#ca" x="924" y="1211"/><use href="#ca" x="1738" y="862"/><use href="#ca" x="1634" y="922"/><use href="#ca" x="1531" y="982"/><use href="#ca" x="1427" y="1043"/><use href="#ca" x="1323" y="1103"/><use href="#ca" x="1219" y="1163"/><use href="#ca" x="1116" y="1224"/><use href="#ca" x="1012" y="1284"/></g><rect x="143.2" y="4.1" width="50.2" height="42.7" fill="url(#pa)"/><use href="#star" x="152.8" y="14.1"/><use href="#star" x="167" y="14.1"/><use href="#star" x="181.2" y="14.1"/><use href="#star" x="152.8" y="26.2"/><use href="#star" x="167" y="26.2"/><use href="#star" x="181.2" y="26.2"/><use href="#star" x="152.8" y="38.3"/><use href="#star" x="167" y="38.3"/><use href="#star" x="181.2" y="38.3"/><polygon points="108.3,29 124.2,43.8 109.4,58.2 94.6,42.9" fill="none" stroke="#e3171c" stroke-width="1.2"/><polyline points="118.8,36.5 130,36.5 130,25.8 143.2,25.8" fill="none" stroke="#e3171c" stroke-width="1.2"/><text x="11.9" y="27.3" font-size="10.8" text-anchor="middle" fill="#111">(a)</text><text x="21.5" y="54.7" font-size="7.3" text-anchor="middle" fill="#111">4</text><text x="21.5" y="67" font-size="7.3" text-anchor="middle" fill="#111">0</text><text x="17.2" y="60.1" font-size="7.7" text-anchor="middle" fill="#111" transform="rotate(-90 17.2 60.1)">Z(μm)</text><text x="20.7" y="75.9" font-size="7.3" text-anchor="middle" fill="#111">240</text><text x="56.9" y="106.4" font-size="7.3" text-anchor="middle" fill="#111">120</text><text x="41.3" y="114" font-size="7.3" text-anchor="middle" fill="#111">Y(μm)</text><text x="95.5" y="135.8" font-size="7.3" text-anchor="middle" fill="#111">0</text><text x="106.3" y="135.8" font-size="7.3" text-anchor="middle" fill="#111">0</text><text x="152.5" y="111.8" font-size="7.3" text-anchor="middle" fill="#111">120</text><text x="193.5" y="87" font-size="7.3" text-anchor="middle" fill="#111">240</text><text x="166.5" y="119.8" font-size="7.3" text-anchor="middle" fill="#111">X(μm)</text></g><g id="panel-b"><use href="#cb1" x="227.79" y="24.74"/><use href="#cb1" x="243.36" y="24.74"/><use href="#cb1" x="258.94" y="24.74"/><use href="#cb1" x="274.51" y="24.74"/><use href="#cb1" x="290.09" y="24.74"/><use href="#cb1" x="305.66" y="24.74"/><use href="#cb1" x="321.24" y="24.74"/><use href="#cb1" x="336.81" y="24.74"/><use href="#cb1" x="227.79" y="38.21"/><use href="#cb1" x="243.36" y="38.21"/><use href="#cb1" x="258.94" y="38.21"/><use href="#cb1" x="274.51" y="38.21"/><use href="#cb1" x="290.09" y="38.21"/><use href="#cb1" x="305.66" y="38.21"/><use href="#cb1" x="321.24" y="38.21"/><use href="#cb1" x="336.81" y="38.21"/><use href="#cb1" x="227.79" y="51.69"/><use href="#cb1" x="243.36" y="51.69"/><use href="#cb1" x="258.94" y="51.69"/><use href="#cb1" x="274.51" y="51.69"/><use href="#cb1" x="290.09" y="51.69"/><use href="#cb1" x="305.66" y="51.69"/><use href="#cb1" x="321.24" y="51.69"/><use href="#cb1" x="336.81" y="51.69"/><use href="#cb1" x="227.79" y="65.16"/><use href="#cb1" x="243.36" y="65.16"/><use href="#cb1" x="258.94" y="65.16"/><use href="#cb1" x="274.51" y="65.16"/><use href="#cb1" x="290.09" y="65.16"/><use href="#cb1" x="305.66" y="65.16"/><use href="#cb1" x="321.24" y="65.16"/><use href="#cb1" x="336.81" y="65.16"/><use href="#cb1" x="227.79" y="78.64"/><use href="#cb1" x="243.36" y="78.64"/><use href="#cb1" x="258.94" y="78.64"/><use href="#cb1" x="274.51" y="78.64"/><use href="#cb1" x="290.09" y="78.64"/><use href="#cb1" x="305.66" y="78.64"/><use href="#cb1" x="321.24" y="78.64"/><use href="#cb1" x="336.81" y="78.64"/><use href="#cb1" x="227.79" y="92.11"/><use href="#cb1" x="243.36" y="92.11"/><use href="#cb1" x="258.94" y="92.11"/><use href="#cb1" x="274.51" y="92.11"/><use href="#cb1" x="290.09" y="92.11"/><use href="#cb1" x="305.66" y="92.11"/><use href="#cb1" x="321.24" y="92.11"/><use href="#cb1" x="336.81" y="92.11"/><use href="#cb1" x="227.79" y="105.59"/><use href="#cb1" x="243.36" y="105.59"/><use href="#cb1" x="258.94" y="105.59"/><use href="#cb1" x="274.51" y="105.59"/><use href="#cb1" x="290.09" y="105.59"/><use href="#cb1" x="305.66" y="105.59"/><use href="#cb1" x="321.24" y="105.59"/><use href="#cb1" x="336.81" y="105.59"/><use href="#cb1" x="227.79" y="119.06"/><use href="#cb1" x="243.36" y="119.06"/><use href="#cb1" x="258.94" y="119.06"/><use href="#cb1" x="274.51" y="119.06"/><use href="#cb1" x="290.09" y="119.06"/><use href="#cb1" x="305.66" y="119.06"/><use href="#cb1" x="321.24" y="119.06"/><use href="#cb1" x="336.81" y="119.06"/><rect x="353.8" y="18" width="8.1" height="106.7" fill="url(#cb)"/><text x="363.8" y="125" font-size="6" text-anchor="start" fill="#111">-3</text><text x="363.8" y="108" font-size="6" text-anchor="start" fill="#111">-2</text><text x="363.8" y="91" font-size="6" text-anchor="start" fill="#111">-1</text><text x="363.8" y="74" font-size="6" text-anchor="start" fill="#111">0</text><text x="363.8" y="57" font-size="6" text-anchor="start" fill="#111">1</text><text x="363.8" y="40" font-size="6" text-anchor="start" fill="#111">2</text><text x="363.8" y="23" font-size="6" text-anchor="start" fill="#111">3</text><text x="217.4" y="20.8" font-size="6.5" text-anchor="end" fill="#111">240</text><text x="345.2" y="134.2" font-size="6.5" text-anchor="middle" fill="#111">240</text><text x="217.4" y="47.7" font-size="6.5" text-anchor="end" fill="#111">180</text><text x="314.1" y="134.2" font-size="6.5" text-anchor="middle" fill="#111">180</text><text x="217.4" y="74.7" font-size="6.5" text-anchor="end" fill="#111">120</text><text x="282.9" y="134.2" font-size="6.5" text-anchor="middle" fill="#111">120</text><text x="217.4" y="101.6" font-size="6.5" text-anchor="end" fill="#111">60</text><text x="251.8" y="134.2" font-size="6.5" text-anchor="middle" fill="#111">60</text><text x="205.8" y="73.9" font-size="7" text-anchor="middle" fill="#111" transform="rotate(-90 205.8 73.9)" textLength="24.5" lengthAdjust="spacingAndGlyphs">Y(μm)</text><text x="282.8" y="141.6" font-size="7" text-anchor="middle" fill="#111">X(μm)</text><text x="227.2" y="26.4" font-size="9.8" text-anchor="middle" fill="#111">(b)</text></g><g id="panel-e"><svg x="219.95" y="152.25" width="12.60" height="17.30" viewBox="-6.39 -8.77 12.77 17.54"><use href="#ce1"/></svg><svg x="232.45" y="152.25" width="14.30" height="17.30" viewBox="-6.65 -8.04 13.29 16.08"><use href="#ce1"/></svg><svg x="246.65" y="152.25" width="15.40" height="17.30" viewBox="-6.79 -7.63 13.58 15.26"><use href="#ce1"/></svg><svg x="261.95" y="152.25" width="16.60" height="17.30" viewBox="-6.93 -7.23 13.87 14.45"><use href="#ce1"/></svg><svg x="278.45" y="152.25" width="16.40" height="17.30" viewBox="-6.91 -7.29 13.82 14.58"><use href="#ce1"/></svg><svg x="294.75" y="152.25" width="16.00" height="17.30" viewBox="-6.87 -7.42 13.73 14.85"><use href="#ce1"/></svg><svg x="310.65" y="152.25" width="16.40" height="17.30" viewBox="-6.91 -7.29 13.82 14.58"><use href="#ce1"/></svg><svg x="326.95" y="152.25" width="17.70" height="17.30" viewBox="-7.15 -6.99 14.30 13.98"><use href="#ce1"/></svg><svg x="219.95" y="169.45" width="12.60" height="16.10" viewBox="-6.47 -8.27 12.94 16.54"><use href="#ce1"/></svg><svg x="232.45" y="169.45" width="14.30" height="16.10" viewBox="-6.73 -7.57 13.45 15.14"><use href="#ce1"/></svg><svg x="246.65" y="169.45" width="15.40" height="16.10" viewBox="-6.87 -7.18 13.74 14.36"><use href="#ce1"/></svg><svg x="261.95" y="169.45" width="16.60" height="16.10" viewBox="-7.14 -6.92 14.27 13.84"><use href="#ce1"/></svg><svg x="278.45" y="169.45" width="16.40" height="16.10" viewBox="-7.06 -6.93 14.13 13.87"><use href="#ce1"/></svg><svg x="294.75" y="169.45" width="16.00" height="16.10" viewBox="-6.94 -6.98 13.88 13.97"><use href="#ce1"/></svg><svg x="310.65" y="169.45" width="16.40" height="16.10" viewBox="-7.06 -6.93 14.13 13.87"><use href="#ce1"/></svg><svg x="326.95" y="169.45" width="17.70" height="16.10" viewBox="-7.53 -6.85 15.07 13.71"><use href="#ce1"/></svg><svg x="219.95" y="185.45" width="12.60" height="16.10" viewBox="-6.47 -8.27 12.94 16.54"><use href="#ce1"/></svg><svg x="232.45" y="185.45" width="14.30" height="16.10" viewBox="-6.73 -7.57 13.45 15.14"><use href="#ce1"/></svg><svg x="246.65" y="185.45" width="15.40" height="16.10" viewBox="-6.87 -7.18 13.74 14.36"><use href="#ce1"/></svg><svg x="261.95" y="185.45" width="16.60" height="16.10" viewBox="-7.14 -6.92 14.27 13.84"><use href="#ce1"/></svg><svg x="278.45" y="185.45" width="16.40" height="16.10" viewBox="-7.06 -6.93 14.13 13.87"><use href="#ce1"/></svg><svg x="294.75" y="185.45" width="16.00" height="16.10" viewBox="-6.94 -6.98 13.88 13.97"><use href="#ce1"/></svg><svg x="310.65" y="185.45" width="16.40" height="16.10" viewBox="-7.06 -6.93 14.13 13.87"><use href="#ce1"/></svg><svg x="326.95" y="185.45" width="17.70" height="16.10" viewBox="-7.53 -6.85 15.07 13.71"><use href="#ce1"/></svg><svg x="219.95" y="201.45" width="12.60" height="13.80" viewBox="-6.64 -7.27 13.27 14.53"><use href="#ce1"/></svg><svg x="232.45" y="201.45" width="14.30" height="13.80" viewBox="-7.02 -6.78 14.05 13.56"><use href="#ce1"/></svg><svg x="246.65" y="201.45" width="15.40" height="13.80" viewBox="-7.48 -6.70 14.96 13.40"><use href="#ce1"/></svg><svg x="261.95" y="201.45" width="16.60" height="13.80" viewBox="-7.96 -6.62 15.93 13.24"><use href="#ce1"/></svg><svg x="278.45" y="201.45" width="16.40" height="13.80" viewBox="-7.88 -6.63 15.77 13.27"><use href="#ce1"/></svg><svg x="294.75" y="201.45" width="16.00" height="13.80" viewBox="-7.72 -6.66 15.45 13.32"><use href="#ce1"/></svg><svg x="310.65" y="201.45" width="16.40" height="13.80" viewBox="-7.88 -6.63 15.77 13.27"><use href="#ce1"/></svg><svg x="326.95" y="201.45" width="17.70" height="13.80" viewBox="-8.40 -6.55 16.80 13.10"><use href="#ce1"/></svg><svg x="219.95" y="215.15" width="12.60" height="12.40" viewBox="-6.80 -6.69 13.60 13.39"><use href="#ce1"/></svg><svg x="232.45" y="215.15" width="14.30" height="12.40" viewBox="-7.57 -6.57 15.14 13.13"><use href="#ce1"/></svg><svg x="246.65" y="215.15" width="15.40" height="12.40" viewBox="-8.06 -6.49 16.11 12.97"><use href="#ce1"/></svg><svg x="261.95" y="215.15" width="16.60" height="12.40" viewBox="-8.57 -6.40 17.14 12.80"><use href="#ce1"/></svg><svg x="278.45" y="215.15" width="16.40" height="12.40" viewBox="-8.49 -6.42 16.97 12.83"><use href="#ce1"/></svg><svg x="294.75" y="215.15" width="16.00" height="12.40" viewBox="-8.32 -6.44 16.63 12.89"><use href="#ce1"/></svg><svg x="310.65" y="215.15" width="16.40" height="12.40" viewBox="-8.49 -6.42 16.97 12.83"><use href="#ce1"/></svg><svg x="326.95" y="215.15" width="17.70" height="12.40" viewBox="-9.03 -6.33 18.06 12.65"><use href="#ce1"/></svg><svg x="219.95" y="227.45" width="12.60" height="11.50" viewBox="-7.17 -6.54 14.34 13.08"><use href="#ce1"/></svg><svg x="232.45" y="227.45" width="14.30" height="11.50" viewBox="-7.97 -6.41 15.94 12.82"><use href="#ce1"/></svg><svg x="246.65" y="227.45" width="15.40" height="11.50" viewBox="-8.48 -6.33 16.95 12.66"><use href="#ce1"/></svg><svg x="261.95" y="227.45" width="16.60" height="11.50" viewBox="-9.01 -6.24 18.02 12.49"><use href="#ce1"/></svg><svg x="278.45" y="227.45" width="16.40" height="11.50" viewBox="-8.92 -6.26 17.85 12.51"><use href="#ce1"/></svg><svg x="294.75" y="227.45" width="16.00" height="11.50" viewBox="-8.75 -6.29 17.49 12.57"><use href="#ce1"/></svg><svg x="310.65" y="227.45" width="16.40" height="11.50" viewBox="-8.92 -6.26 17.85 12.51"><use href="#ce1"/></svg><svg x="326.95" y="227.45" width="17.70" height="11.50" viewBox="-9.49 -6.17 18.98 12.33"><use href="#ce1"/></svg><svg x="219.95" y="238.85" width="12.60" height="11.60" viewBox="-7.12 -6.56 14.25 13.12"><use href="#ce1"/></svg><svg x="232.45" y="238.85" width="14.30" height="11.60" viewBox="-7.93 -6.43 15.85 12.86"><use href="#ce1"/></svg><svg x="246.65" y="238.85" width="15.40" height="11.60" viewBox="-8.43 -6.35 16.85 12.70"><use href="#ce1"/></svg><svg x="261.95" y="238.85" width="16.60" height="11.60" viewBox="-8.96 -6.26 17.92 12.52"><use href="#ce1"/></svg><svg x="278.45" y="238.85" width="16.40" height="11.60" viewBox="-8.87 -6.28 17.74 12.55"><use href="#ce1"/></svg><svg x="294.75" y="238.85" width="16.00" height="11.60" viewBox="-8.70 -6.30 17.39 12.61"><use href="#ce1"/></svg><svg x="310.65" y="238.85" width="16.40" height="11.60" viewBox="-8.87 -6.28 17.74 12.55"><use href="#ce1"/></svg><svg x="326.95" y="238.85" width="17.70" height="11.60" viewBox="-9.44 -6.18 18.87 12.37"><use href="#ce1"/></svg><svg x="219.95" y="250.35" width="12.60" height="11.40" viewBox="-7.21 -6.52 14.42 13.05"><use href="#ce1"/></svg><svg x="232.45" y="250.35" width="14.30" height="11.40" viewBox="-8.02 -6.39 16.04 12.79"><use href="#ce1"/></svg><svg x="246.65" y="250.35" width="15.40" height="11.40" viewBox="-8.53 -6.31 17.05 12.62"><use href="#ce1"/></svg><svg x="261.95" y="250.35" width="16.60" height="11.40" viewBox="-9.06 -6.22 18.13 12.45"><use href="#ce1"/></svg><svg x="278.45" y="250.35" width="16.40" height="11.40" viewBox="-8.97 -6.24 17.95 12.48"><use href="#ce1"/></svg><svg x="294.75" y="250.35" width="16.00" height="11.40" viewBox="-8.80 -6.27 17.59 12.53"><use href="#ce1"/></svg><svg x="310.65" y="250.35" width="16.40" height="11.40" viewBox="-8.97 -6.24 17.95 12.48"><use href="#ce1"/></svg><svg x="326.95" y="250.35" width="17.70" height="11.40" viewBox="-9.54 -6.15 19.09 12.29"><use href="#ce1"/></svg><rect x="353.6" y="152.5" width="8.8" height="109.4" fill="url(#cb)"/><text x="364.4" y="262.7" font-size="6" text-anchor="start" fill="#111">-3</text><text x="364.4" y="245" font-size="6" text-anchor="start" fill="#111">-2</text><text x="364.4" y="227.4" font-size="6" text-anchor="start" fill="#111">-1</text><text x="364.4" y="209.7" font-size="6" text-anchor="start" fill="#111">0</text><text x="364.4" y="192.1" font-size="6" text-anchor="start" fill="#111">1</text><text x="364.4" y="174.4" font-size="6" text-anchor="start" fill="#111">2</text><text x="364.4" y="156.8" font-size="6" text-anchor="start" fill="#111">3</text><text x="217.4" y="155.1" font-size="6.5" text-anchor="end" fill="#111">240</text><text x="345.2" y="270.8" font-size="6.5" text-anchor="middle" fill="#111">240</text><text x="217.4" y="182.5" font-size="6.5" text-anchor="end" fill="#111">180</text><text x="314.1" y="270.8" font-size="6.5" text-anchor="middle" fill="#111">180</text><text x="217.4" y="209.9" font-size="6.5" text-anchor="end" fill="#111">120</text><text x="282.9" y="270.8" font-size="6.5" text-anchor="middle" fill="#111">120</text><text x="217.4" y="237.3" font-size="6.5" text-anchor="end" fill="#111">60</text><text x="251.8" y="270.8" font-size="6.5" text-anchor="middle" fill="#111">60</text><text x="205.2" y="207.6" font-size="7" text-anchor="middle" fill="#111" transform="rotate(-90 205.2 207.6)" textLength="23.5" lengthAdjust="spacingAndGlyphs">X(μm)</text><text x="282.8" y="278.1" font-size="7" text-anchor="middle" fill="#111">X(μm)</text><text x="226.9" y="162.6" font-size="9.5" text-anchor="middle" fill="#111">(e)</text></g><g id="panel-c"><rect x="390.8" y="18.2" width="125.4" height="107.2" fill="#352a87"/><g opacity=".75"><circle cx="438.2" cy="30.6" r=".8" fill="#0860df"/><circle cx="446.6" cy="30.6" r=".8" fill="#1b55d7"/><circle cx="454.9" cy="30.6" r=".8" fill="#1b55d7"/><circle cx="404.8" cy="37.7" r=".8" fill="#0860df"/><circle cx="413.2" cy="37.7" r=".95" fill="#1484d4"/><circle cx="438.2" cy="37.7" r=".95" fill="#0d93d2"/><circle cx="446.6" cy="37.7" r=".95" fill="#118cd2"/><circle cx="454.9" cy="37.7" r=".95" fill="#1484d4"/><circle cx="463.2" cy="37.7" r=".8" fill="#1b55d7"/><circle cx="438.2" cy="51.8" r=".8" fill="#0860df"/><circle cx="404.8" cy="58.9" r=".95" fill="#1484d4"/><circle cx="413.2" cy="58.9" r=".95" fill="#118cd2"/><circle cx="438.2" cy="58.9" r=".95" fill="#9bbf6f"/><circle cx="446.6" cy="58.9" r=".95" fill="#06a0cd"/><circle cx="454.9" cy="58.9" r=".95" fill="#0d93d2"/><circle cx="463.2" cy="58.9" r=".95" fill="#127cd8"/><circle cx="471.6" cy="58.9" r=".8" fill="#036ae1"/><circle cx="404.8" cy="66" r=".95" fill="#127cd8"/><circle cx="413.2" cy="66" r=".95" fill="#1484d4"/><circle cx="438.2" cy="66" r=".95" fill="#07aac1"/><circle cx="446.6" cy="66" r=".95" fill="#0d93d2"/><circle cx="454.9" cy="66" r=".95" fill="#118cd2"/><circle cx="463.2" cy="66" r=".95" fill="#1484d4"/><circle cx="471.6" cy="66" r=".95" fill="#7abf7c"/><circle cx="496.6" cy="66" r=".95" fill="#1484d4"/><circle cx="505" cy="66" r=".8" fill="#0860df"/><circle cx="404.8" cy="73" r=".8" fill="#0860df"/><circle cx="413.2" cy="73" r=".95" fill="#1484d4"/><circle cx="438.2" cy="73" r=".95" fill="#0d93d2"/><circle cx="446.6" cy="73" r=".95" fill="#118cd2"/><circle cx="454.9" cy="73" r=".95" fill="#0d93d2"/><circle cx="463.2" cy="73" r=".95" fill="#1484d4"/><circle cx="471.6" cy="73" r=".95" fill="#07aac1"/><circle cx="496.6" cy="73" r=".95" fill="#1484d4"/><circle cx="505" cy="73" r=".8" fill="#0860df"/><circle cx="413.2" cy="80.1" r=".8" fill="#1b55d7"/><circle cx="438.2" cy="80.1" r=".95" fill="#1484d4"/><circle cx="446.6" cy="80.1" r=".8" fill="#0860df"/><circle cx="454.9" cy="80.1" r=".8" fill="#0860df"/><circle cx="471.6" cy="80.1" r=".8" fill="#0860df"/><circle cx="404.8" cy="87.2" r=".95" fill="#127cd8"/><circle cx="413.2" cy="87.2" r=".95" fill="#118cd2"/><circle cx="438.2" cy="87.2" r=".95" fill="#0d93d2"/><circle cx="446.6" cy="87.2" r=".8" fill="#0f77db"/><circle cx="454.9" cy="87.2" r=".8" fill="#0f77db"/><circle cx="463.2" cy="87.2" r=".8" fill="#0f77db"/><circle cx="471.6" cy="87.2" r=".95" fill="#0d93d2"/><circle cx="496.6" cy="87.2" r=".95" fill="#07aac1"/><circle cx="505" cy="87.2" r=".8" fill="#0860df"/><circle cx="438.2" cy="94.2" r=".8" fill="#0860df"/><circle cx="446.6" cy="94.2" r=".8" fill="#1b55d7"/><circle cx="471.6" cy="94.2" r=".8" fill="#0860df"/><circle cx="404.8" cy="108.4" r=".8" fill="#0860df"/><circle cx="413.2" cy="108.4" r=".95" fill="#1484d4"/><circle cx="438.2" cy="108.4" r=".95" fill="#06a0cd"/><circle cx="446.6" cy="108.4" r=".95" fill="#118cd2"/><circle cx="454.9" cy="108.4" r=".95" fill="#1484d4"/><circle cx="463.2" cy="108.4" r=".8" fill="#0860df"/><circle cx="471.6" cy="108.4" r=".95" fill="#1484d4"/><circle cx="496.6" cy="108.4" r=".8" fill="#0860df"/><circle cx="413.2" cy="115.4" r=".8" fill="#1b55d7"/><circle cx="438.2" cy="115.4" r=".95" fill="#1484d4"/><circle cx="446.6" cy="115.4" r=".8" fill="#0860df"/><circle cx="454.9" cy="115.4" r=".8" fill="#0860df"/><circle cx="471.6" cy="115.4" r=".8" fill="#0860df"/></g><polyline points="415.7,87.1 495,87.1" fill="none" stroke="#e3171c" stroke-width="1.6"/><rect x="471.8" y="18.6" width="44" height="44.2" fill="#fff" stroke="#5b9bd5" stroke-width=".8"/><path d="M472.5 61L475.8 61L477.1 24L478.4 61L485.6 61L486.9 27.8L488.2 61L494.3 61L495.6 31.6L496.9 61L503.5 61L504.8 40.6L506.1 61L511.2 61L512.5 34L513.8 61L515.5 61" fill="none" stroke="#f4a9a8" stroke-width=".6"/><rect x="522.8" y="18.4" width="7.4" height="107.4" fill="url(#cb)"/><text x="532.2" y="114.1" font-size="6" text-anchor="start" fill="#111">1</text><text x="532.2" y="99.4" font-size="6" text-anchor="start" fill="#111">2</text><text x="532.2" y="84.8" font-size="6" text-anchor="start" fill="#111">3</text><text x="532.2" y="70.1" font-size="6" text-anchor="start" fill="#111">4</text><text x="532.2" y="55.5" font-size="6" text-anchor="start" fill="#111">5</text><text x="532.2" y="40.8" font-size="6" text-anchor="start" fill="#111">6</text><text x="532.2" y="26.2" font-size="6" text-anchor="start" fill="#111">7</text><text x="532" y="16.5" font-size="6" text-anchor="start" fill="#111">×10<tspan dy="-2.3" font-size="4.2">12</tspan></text><text x="388.6" y="38.2" font-size="6.5" text-anchor="end" fill="#111">10.8</text><text x="412.4" y="134.3" font-size="6.5" text-anchor="middle" fill="#111">10.8</text><text x="388.6" y="56.2" font-size="6.5" text-anchor="end" fill="#111">21.6</text><text x="433.3" y="134.3" font-size="6.5" text-anchor="middle" fill="#111">21.6</text><text x="388.6" y="74.2" font-size="6.5" text-anchor="end" fill="#111">32.4</text><text x="454.1" y="134.3" font-size="6.5" text-anchor="middle" fill="#111">32.4</text><text x="388.6" y="92.2" font-size="6.5" text-anchor="end" fill="#111">43.2</text><text x="474.9" y="134.3" font-size="6.5" text-anchor="middle" fill="#111">43.2</text><text x="388.6" y="110.4" font-size="6.5" text-anchor="end" fill="#111">54.1</text><text x="496" y="134.3" font-size="6.5" text-anchor="middle" fill="#111">54.1</text><text x="388.6" y="128.5" font-size="6.5" text-anchor="end" fill="#111">65</text><text x="515.2" y="134.3" font-size="6.5" text-anchor="middle" fill="#111">65</text><text x="374.6" y="72.4" font-size="7" text-anchor="middle" fill="#111" transform="rotate(-90 374.6 72.4)" textLength="23.6" lengthAdjust="spacingAndGlyphs">X(mm)</text><text x="454.2" y="141.1" font-size="7" text-anchor="middle" fill="#111">X(mm)</text><text x="398.4" y="27.3" font-size="10.3" text-anchor="middle" fill="#fff">(c)</text></g><g id="panel-f"><rect x="392.4" y="152.6" width="123.8" height="109.3" fill="#352a87"/><ellipse cx="453" cy="208" rx="56" ry="50" fill="url(#gf)"/><path fill="#363aa7" d="M393.1 153.8h1.1v1.1h-1.1zM410.8 153.5h1.1v1.1h-1.1zM412.6 153.3h1.1v1.1h-1.1zM417 153.5h1.1v1.1h-1.1zM419.6 153.2h1.1v1.1h-1.1zM430.2 153.6h1.1v1.1h-1.1zM432.8 153.8h1.1v1.1h-1.1zM434.7 153.2h1.1v1.1h-1.1zM443.9 153.3h1.1v1.1h-1.1zM450 153.5h1.1v1.1h-1.1zM452.6 153.6h1.1v1.1h-1.1zM469.9 153.4h1.1v1.1h-1.1zM428 155.9h1.1v1.1h-1.1zM468 156.1h1.1v1.1h-1.1zM393.3 157.8h1.1v1.1h-1.1zM419.7 158.3h1.1v1.1h-1.1zM428.3 158.4h1.1v1.1h-1.1zM432.5 158h1.1v1.1h-1.1zM439.5 157.9h1.1v1.1h-1.1zM444 158.2h1.1v1.1h-1.1zM454.7 158.1h1.1v1.1h-1.1zM459.4 157.9h1.1v1.1h-1.1zM463.2 158.3h1.1v1.1h-1.1zM465.6 158.3h1.1v1.1h-1.1zM470.1 158.3h1.1v1.1h-1.1zM415.3 160.6h1.1v1.1h-1.1zM419.2 160.5h1.1v1.1h-1.1zM430.2 160.1h1.1v1.1h-1.1zM446 160.2h1.1v1.1h-1.1zM448.4 160.4h1.1v1.1h-1.1zM465.4 160.6h1.1v1.1h-1.1zM468 160.4h1.1v1.1h-1.1zM470 160.7h1.1v1.1h-1.1zM410.7 162.5h1.1v1.1h-1.1zM419.4 162.8h1.1v1.1h-1.1zM424.1 162.4h1.1v1.1h-1.1zM428.4 162.4h1.1v1.1h-1.1zM432.8 162.9h1.1v1.1h-1.1zM436.8 163h1.1v1.1h-1.1zM461.3 162.7h1.1v1.1h-1.1zM467.9 162.7h1.1v1.1h-1.1zM408.2 165.1h1.1v1.1h-1.1zM417.6 164.9h1.1v1.1h-1.1zM421.8 164.8h1.1v1.1h-1.1zM423.8 164.9h1.1v1.1h-1.1zM447.8 164.9h1.1v1.1h-1.1zM466 164.9h1.1v1.1h-1.1zM422 167h1.1v1.1h-1.1zM426.4 167.5h1.1v1.1h-1.1zM434.8 167.1h1.1v1.1h-1.1zM461.5 167.4h1.1v1.1h-1.1zM466 167.2h1.1v1.1h-1.1zM404.3 169.8h1.1v1.1h-1.1zM410.6 169.6h1.1v1.1h-1.1zM415.4 169.6h1.1v1.1h-1.1zM423.7 169.4h1.1v1.1h-1.1zM399.4 171.9h1.1v1.1h-1.1zM414.9 174.4h1.1v1.1h-1.1zM421.9 174h1.1v1.1h-1.1zM423.9 174.2h1.1v1.1h-1.1zM434.9 174.3h1.1v1.1h-1.1zM439.3 174.4h1.1v1.1h-1.1zM452.7 174h1.1v1.1h-1.1zM456.9 174.3h1.1v1.1h-1.1zM465.6 174.5h1.1v1.1h-1.1zM392.9 176.4h1.1v1.1h-1.1zM412.6 176.6h1.1v1.1h-1.1zM397.7 178.8h1.1v1.1h-1.1zM413.2 181.4h1.1v1.1h-1.1zM403.9 183.6h1.1v1.1h-1.1zM417.3 183.4h1.1v1.1h-1.1zM426.3 183.7h1.1v1.1h-1.1zM434.8 183.5h1.1v1.1h-1.1zM397.4 185.5h1.1v1.1h-1.1zM393.2 188.2h1.1v1.1h-1.1zM397.8 188.3h1.1v1.1h-1.1zM403.8 188.2h1.1v1.1h-1.1zM397.8 192.4h1.1v1.1h-1.1zM413.1 192.4h1.1v1.1h-1.1zM496.3 192.6h1.1v1.1h-1.1zM507.3 192.6h1.1v1.1h-1.1zM395.1 194.9h1.1v1.1h-1.1zM509.7 194.8h1.1v1.1h-1.1zM514.1 194.6h1.1v1.1h-1.1zM397.4 197.2h1.1v1.1h-1.1zM403.8 197.2h1.1v1.1h-1.1zM500.6 197.2h1.1v1.1h-1.1zM505.5 197h1.1v1.1h-1.1zM395 199.5h1.1v1.1h-1.1zM514.1 199.6h1.1v1.1h-1.1zM417.1 201.7h1.1v1.1h-1.1zM483.1 201.9h1.1v1.1h-1.1zM487.5 201.8h1.1v1.1h-1.1zM496.4 201.6h1.1v1.1h-1.1zM500.8 202h1.1v1.1h-1.1zM505.6 201.5h1.1v1.1h-1.1zM395.5 204.1h1.1v1.1h-1.1zM401.8 204.1h1.1v1.1h-1.1zM413 204.2h1.1v1.1h-1.1zM500.8 204.3h1.1v1.1h-1.1zM507.8 204.2h1.1v1.1h-1.1zM511.6 204.2h1.1v1.1h-1.1zM413 206.3h1.1v1.1h-1.1zM415.1 206.7h1.1v1.1h-1.1zM421.5 206.3h1.1v1.1h-1.1zM424.1 206.6h1.1v1.1h-1.1zM426.1 206.4h1.1v1.1h-1.1zM447.8 206.4h1.1v1.1h-1.1zM452.4 206.5h1.1v1.1h-1.1zM481.2 206.2h1.1v1.1h-1.1zM492.4 206.6h1.1v1.1h-1.1zM494.6 206.2h1.1v1.1h-1.1zM395.1 208.5h1.1v1.1h-1.1zM397.2 208.6h1.1v1.1h-1.1zM399.4 208.5h1.1v1.1h-1.1zM401.6 211h1.1v1.1h-1.1zM406.5 210.9h1.1v1.1h-1.1zM414.8 211.2h1.1v1.1h-1.1zM425.9 211h1.1v1.1h-1.1zM448.2 211.2h1.1v1.1h-1.1zM461.3 211.2h1.1v1.1h-1.1zM466 211.2h1.1v1.1h-1.1zM470.3 211.2h1.1v1.1h-1.1zM487.7 211.1h1.1v1.1h-1.1zM492 211h1.1v1.1h-1.1zM494.5 210.9h1.1v1.1h-1.1zM507.6 210.8h1.1v1.1h-1.1zM399.9 213.6h1.1v1.1h-1.1zM509.9 213.5h1.1v1.1h-1.1zM406 215.3h1.1v1.1h-1.1zM492.1 215.4h1.1v1.1h-1.1zM502.8 215.6h1.1v1.1h-1.1zM507.2 215.4h1.1v1.1h-1.1zM404 217.6h1.1v1.1h-1.1zM406.4 217.7h1.1v1.1h-1.1zM452.2 217.7h1.1v1.1h-1.1zM456.6 218.1h1.1v1.1h-1.1zM465.6 218.2h1.1v1.1h-1.1zM469.9 217.9h1.1v1.1h-1.1zM483.6 217.9h1.1v1.1h-1.1zM485.6 217.9h1.1v1.1h-1.1zM404.3 219.9h1.1v1.1h-1.1zM414.8 220h1.1v1.1h-1.1zM417.2 220h1.1v1.1h-1.1zM426 220.1h1.1v1.1h-1.1zM434.7 219.9h1.1v1.1h-1.1zM476.7 220.2h1.1v1.1h-1.1zM491.8 220.1h1.1v1.1h-1.1zM500.9 220.3h1.1v1.1h-1.1zM503.3 220.2h1.1v1.1h-1.1zM509.5 222.5h1.1v1.1h-1.1zM392.9 224.6h1.1v1.1h-1.1zM402 225.1h1.1v1.1h-1.1zM496.4 224.5h1.1v1.1h-1.1zM498.4 224.8h1.1v1.1h-1.1zM511.6 224.7h1.1v1.1h-1.1zM393.2 226.9h1.1v1.1h-1.1zM408.3 227.1h1.1v1.1h-1.1zM498.7 226.9h1.1v1.1h-1.1zM505.5 227h1.1v1.1h-1.1zM507.7 227.3h1.1v1.1h-1.1zM514 226.8h1.1v1.1h-1.1zM397.2 229.7h1.1v1.1h-1.1zM401.8 229.2h1.1v1.1h-1.1zM415.2 229.4h1.1v1.1h-1.1zM491.8 229.6h1.1v1.1h-1.1zM498.9 229.7h1.1v1.1h-1.1zM500.8 229.3h1.1v1.1h-1.1zM393.1 231.5h1.1v1.1h-1.1zM403.8 231.5h1.1v1.1h-1.1zM491.8 231.5h1.1v1.1h-1.1zM501.1 231.8h1.1v1.1h-1.1zM511.7 231.7h1.1v1.1h-1.1zM402 234.3h1.1v1.1h-1.1zM406.3 233.8h1.1v1.1h-1.1zM408.6 234h1.1v1.1h-1.1zM476.8 234.3h1.1v1.1h-1.1zM483.2 234.1h1.1v1.1h-1.1zM487.8 233.9h1.1v1.1h-1.1zM491.9 233.9h1.1v1.1h-1.1zM496.7 233.9h1.1v1.1h-1.1zM498.6 234h1.1v1.1h-1.1zM397.5 236.3h1.1v1.1h-1.1zM509.7 236.1h1.1v1.1h-1.1zM401.7 238.6h1.1v1.1h-1.1zM406 238.6h1.1v1.1h-1.1zM410.7 238.4h1.1v1.1h-1.1zM423.9 238.7h1.1v1.1h-1.1zM426.1 238.8h1.1v1.1h-1.1zM447.9 238.5h1.1v1.1h-1.1zM452.7 238.8h1.1v1.1h-1.1zM461.1 238.4h1.1v1.1h-1.1zM465.8 238.5h1.1v1.1h-1.1zM477 238.4h1.1v1.1h-1.1zM494.3 238.9h1.1v1.1h-1.1zM496.6 238.4h1.1v1.1h-1.1zM397.6 240.6h1.1v1.1h-1.1zM404 241h1.1v1.1h-1.1zM511.8 240.9h1.1v1.1h-1.1zM397.8 243.4h1.1v1.1h-1.1zM406.5 243h1.1v1.1h-1.1zM410.9 243.2h1.1v1.1h-1.1zM414.9 243.3h1.1v1.1h-1.1zM423.7 243h1.1v1.1h-1.1zM448 243.5h1.1v1.1h-1.1zM457.2 243h1.1v1.1h-1.1zM477 243.4h1.1v1.1h-1.1zM498.4 243.5h1.1v1.1h-1.1zM503 243h1.1v1.1h-1.1zM505.6 243h1.1v1.1h-1.1zM393.1 245.8h1.1v1.1h-1.1zM401.9 245.6h1.1v1.1h-1.1zM500.7 245.5h1.1v1.1h-1.1zM426.4 247.8h1.1v1.1h-1.1zM428.2 248h1.1v1.1h-1.1zM439.1 247.7h1.1v1.1h-1.1zM443.5 247.8h1.1v1.1h-1.1zM445.6 247.9h1.1v1.1h-1.1zM450.4 247.7h1.1v1.1h-1.1zM455 248.1h1.1v1.1h-1.1zM458.9 248.1h1.1v1.1h-1.1zM466 247.9h1.1v1.1h-1.1zM470.2 247.6h1.1v1.1h-1.1zM479 248.1h1.1v1.1h-1.1zM393 250.3h1.1v1.1h-1.1zM401.8 250.4h1.1v1.1h-1.1zM412.7 250.3h1.1v1.1h-1.1zM505.6 249.8h1.1v1.1h-1.1zM414.9 252.1h1.1v1.1h-1.1zM421.9 252.6h1.1v1.1h-1.1zM435.2 252.3h1.1v1.1h-1.1zM441.4 252.6h1.1v1.1h-1.1zM447.8 252.6h1.1v1.1h-1.1zM454.4 252.2h1.1v1.1h-1.1zM456.7 252.6h1.1v1.1h-1.1zM461.6 252.6h1.1v1.1h-1.1zM467.7 252.7h1.1v1.1h-1.1zM469.8 252.2h1.1v1.1h-1.1zM472.2 252.5h1.1v1.1h-1.1zM474.3 252.6h1.1v1.1h-1.1zM478.6 252.3h1.1v1.1h-1.1zM481 252.7h1.1v1.1h-1.1zM397.4 254.9h1.1v1.1h-1.1zM401.6 254.7h1.1v1.1h-1.1zM404.3 254.6h1.1v1.1h-1.1zM406.3 255h1.1v1.1h-1.1zM439.2 254.9h1.1v1.1h-1.1zM483.1 255h1.1v1.1h-1.1zM494.5 254.8h1.1v1.1h-1.1zM496.4 254.7h1.1v1.1h-1.1zM503.1 254.6h1.1v1.1h-1.1zM505.3 254.7h1.1v1.1h-1.1zM430.3 257.1h1.1v1.1h-1.1zM436.8 256.7h1.1v1.1h-1.1zM452.3 256.9h1.1v1.1h-1.1zM463.6 257.2h1.1v1.1h-1.1zM474.3 257h1.1v1.1h-1.1zM481.1 256.9h1.1v1.1h-1.1zM441.6 259.2h1.1v1.1h-1.1zM446 259.4h1.1v1.1h-1.1zM459.3 259.4h1.1v1.1h-1.1zM461.6 259.3h1.1v1.1h-1.1zM463.6 259.1h1.1v1.1h-1.1zM470.3 259h1.1v1.1h-1.1zM478.8 259.3h1.1v1.1h-1.1z"/><path fill="#2b4bc7" d="M397.5 153.5h1.1v1.1h-1.1zM401.9 153.4h1.1v1.1h-1.1zM421.8 153.2h1.1v1.1h-1.1zM428.3 153.7h1.1v1.1h-1.1zM441.3 153.8h1.1v1.1h-1.1zM458.8 153.3h1.1v1.1h-1.1zM461.1 153.7h1.1v1.1h-1.1zM463.5 153.3h1.1v1.1h-1.1zM467.7 153.5h1.1v1.1h-1.1zM410.7 158.3h1.1v1.1h-1.1zM421.4 158.2h1.1v1.1h-1.1zM430.2 157.9h1.1v1.1h-1.1zM437.1 158.1h1.1v1.1h-1.1zM441.2 158.3h1.1v1.1h-1.1zM446.2 158h1.1v1.1h-1.1zM450.2 158h1.1v1.1h-1.1zM452.3 158h1.1v1.1h-1.1zM456.7 158h1.1v1.1h-1.1zM428.1 160.1h1.1v1.1h-1.1zM432.5 160.3h1.1v1.1h-1.1zM441.5 160.5h1.1v1.1h-1.1zM443.8 160.4h1.1v1.1h-1.1zM450.1 160.5h1.1v1.1h-1.1zM459.1 160.5h1.1v1.1h-1.1zM463.6 160.1h1.1v1.1h-1.1zM415.3 162.6h1.1v1.1h-1.1zM430.7 162.9h1.1v1.1h-1.1zM439.5 162.5h1.1v1.1h-1.1zM441.6 163h1.1v1.1h-1.1zM445.8 163h1.1v1.1h-1.1zM450.6 162.6h1.1v1.1h-1.1zM469.8 162.8h1.1v1.1h-1.1zM406 165h1.1v1.1h-1.1zM419.2 164.8h1.1v1.1h-1.1zM426.4 165.2h1.1v1.1h-1.1zM435.1 164.9h1.1v1.1h-1.1zM439.1 165h1.1v1.1h-1.1zM446 165.1h1.1v1.1h-1.1zM452.5 165.2h1.1v1.1h-1.1zM454.7 165.1h1.1v1.1h-1.1zM410.4 167.5h1.1v1.1h-1.1zM415.1 167.4h1.1v1.1h-1.1zM419.5 167.3h1.1v1.1h-1.1zM423.8 167.6h1.1v1.1h-1.1zM443.4 167.3h1.1v1.1h-1.1zM456.8 167.4h1.1v1.1h-1.1zM463.6 167.5h1.1v1.1h-1.1zM470.1 167.6h1.1v1.1h-1.1zM419.6 169.6h1.1v1.1h-1.1zM430.7 169.9h1.1v1.1h-1.1zM432.9 169.6h1.1v1.1h-1.1zM434.6 169.8h1.1v1.1h-1.1zM437 169.3h1.1v1.1h-1.1zM439.2 169.7h1.1v1.1h-1.1zM441.4 169.5h1.1v1.1h-1.1zM446 169.5h1.1v1.1h-1.1zM447.8 169.4h1.1v1.1h-1.1zM450.6 169.7h1.1v1.1h-1.1zM452.7 169.7h1.1v1.1h-1.1zM454.7 169.7h1.1v1.1h-1.1zM456.7 169.4h1.1v1.1h-1.1zM463.2 169.6h1.1v1.1h-1.1zM465.9 169.8h1.1v1.1h-1.1zM470.1 169.7h1.1v1.1h-1.1zM397.2 172.1h1.1v1.1h-1.1zM404.1 171.7h1.1v1.1h-1.1zM410.8 174h1.1v1.1h-1.1zM419.4 174.1h1.1v1.1h-1.1zM425.8 174.2h1.1v1.1h-1.1zM428.6 174.4h1.1v1.1h-1.1zM430.6 174.1h1.1v1.1h-1.1zM443.8 174.4h1.1v1.1h-1.1zM454.7 174.4h1.1v1.1h-1.1zM459.1 174.1h1.1v1.1h-1.1zM463.7 174.5h1.1v1.1h-1.1zM470.1 174.1h1.1v1.1h-1.1zM397.6 176.6h1.1v1.1h-1.1zM402.1 176.2h1.1v1.1h-1.1zM406 176.4h1.1v1.1h-1.1zM410.9 176.5h1.1v1.1h-1.1zM417.5 176.5h1.1v1.1h-1.1zM421.7 176.6h1.1v1.1h-1.1zM452.5 176.5h1.1v1.1h-1.1zM465.6 176.6h1.1v1.1h-1.1zM404.4 178.7h1.1v1.1h-1.1zM406.5 178.7h1.1v1.1h-1.1zM408.8 178.7h1.1v1.1h-1.1zM402 181.2h1.1v1.1h-1.1zM404.1 180.9h1.1v1.1h-1.1zM406.2 181.2h1.1v1.1h-1.1zM415.1 181.1h1.1v1.1h-1.1zM461.4 181.4h1.1v1.1h-1.1zM465.4 181.1h1.1v1.1h-1.1zM401.9 183.4h1.1v1.1h-1.1zM408.6 183.2h1.1v1.1h-1.1zM410.4 183.3h1.1v1.1h-1.1zM415.4 183.5h1.1v1.1h-1.1zM423.6 183.3h1.1v1.1h-1.1zM439.5 183.3h1.1v1.1h-1.1zM452.2 183.1h1.1v1.1h-1.1zM456.8 183.5h1.1v1.1h-1.1zM461.4 183.1h1.1v1.1h-1.1zM467.8 183.7h1.1v1.1h-1.1zM470.3 183.4h1.1v1.1h-1.1zM393.3 185.5h1.1v1.1h-1.1zM406.4 188.2h1.1v1.1h-1.1zM408.6 187.7h1.1v1.1h-1.1zM410.7 187.8h1.1v1.1h-1.1zM413.2 187.9h1.1v1.1h-1.1zM415.1 187.7h1.1v1.1h-1.1zM417.6 188.1h1.1v1.1h-1.1zM421.6 188.3h1.1v1.1h-1.1zM426.2 187.7h1.1v1.1h-1.1zM469.9 187.8h1.1v1.1h-1.1zM393.2 190.4h1.1v1.1h-1.1zM395.3 190.5h1.1v1.1h-1.1zM397.8 190.4h1.1v1.1h-1.1zM399.4 190.6h1.1v1.1h-1.1zM392.8 192.6h1.1v1.1h-1.1zM401.7 192.6h1.1v1.1h-1.1zM403.9 192.6h1.1v1.1h-1.1zM408.8 192.8h1.1v1.1h-1.1zM415.3 192.6h1.1v1.1h-1.1zM434.9 192.6h1.1v1.1h-1.1zM487.4 192.4h1.1v1.1h-1.1zM503.3 192.6h1.1v1.1h-1.1zM505.3 192.9h1.1v1.1h-1.1zM397.8 195h1.1v1.1h-1.1zM404.2 195.1h1.1v1.1h-1.1zM393.2 196.9h1.1v1.1h-1.1zM402.2 196.9h1.1v1.1h-1.1zM408.7 197.2h1.1v1.1h-1.1zM412.6 197.3h1.1v1.1h-1.1zM492.4 197.2h1.1v1.1h-1.1zM507.2 197.5h1.1v1.1h-1.1zM397.4 199.5h1.1v1.1h-1.1zM399.4 199.5h1.1v1.1h-1.1zM404.3 199.5h1.1v1.1h-1.1zM511.6 199.6h1.1v1.1h-1.1zM401.9 201.9h1.1v1.1h-1.1zM414.8 202.1h1.1v1.1h-1.1zM426.3 201.9h1.1v1.1h-1.1zM432.8 201.6h1.1v1.1h-1.1zM434.7 201.6h1.1v1.1h-1.1zM439.2 201.7h1.1v1.1h-1.1zM448.4 202h1.1v1.1h-1.1zM452.7 202h1.1v1.1h-1.1zM461 201.8h1.1v1.1h-1.1zM465.5 201.6h1.1v1.1h-1.1zM470 201.8h1.1v1.1h-1.1zM476.8 201.8h1.1v1.1h-1.1zM489.7 202.1h1.1v1.1h-1.1zM494.1 201.7h1.1v1.1h-1.1zM503.3 201.7h1.1v1.1h-1.1zM404.2 203.9h1.1v1.1h-1.1zM406.6 203.8h1.1v1.1h-1.1zM491.9 204.2h1.1v1.1h-1.1zM496.8 204.1h1.1v1.1h-1.1zM509.8 203.9h1.1v1.1h-1.1zM406.6 206.3h1.1v1.1h-1.1zM417.4 206.6h1.1v1.1h-1.1zM428.6 206.6h1.1v1.1h-1.1zM430.5 206.4h1.1v1.1h-1.1zM436.9 206.1h1.1v1.1h-1.1zM443.9 206.3h1.1v1.1h-1.1zM446.2 206.7h1.1v1.1h-1.1zM454.8 206.6h1.1v1.1h-1.1zM458.8 206.2h1.1v1.1h-1.1zM463.2 206.3h1.1v1.1h-1.1zM472.6 206.3h1.1v1.1h-1.1zM474.2 206.5h1.1v1.1h-1.1zM476.4 206.7h1.1v1.1h-1.1zM485.3 206.1h1.1v1.1h-1.1zM489.9 206.5h1.1v1.1h-1.1zM502.8 206.2h1.1v1.1h-1.1zM392.8 208.8h1.1v1.1h-1.1zM404 208.8h1.1v1.1h-1.1zM505.6 208.9h1.1v1.1h-1.1zM509.6 208.6h1.1v1.1h-1.1zM511.8 208.6h1.1v1.1h-1.1zM410.7 211.2h1.1v1.1h-1.1zM419.4 211h1.1v1.1h-1.1zM421.7 210.8h1.1v1.1h-1.1zM424 211.2h1.1v1.1h-1.1zM428.5 211h1.1v1.1h-1.1zM430.3 211.3h1.1v1.1h-1.1zM432.9 211h1.1v1.1h-1.1zM437.4 210.7h1.1v1.1h-1.1zM439.5 210.9h1.1v1.1h-1.1zM441.2 211h1.1v1.1h-1.1zM445.9 210.9h1.1v1.1h-1.1zM450.5 211.3h1.1v1.1h-1.1zM454.9 211.3h1.1v1.1h-1.1zM456.6 210.8h1.1v1.1h-1.1zM459 211.2h1.1v1.1h-1.1zM467.8 210.8h1.1v1.1h-1.1zM472.3 211h1.1v1.1h-1.1zM474.2 211.2h1.1v1.1h-1.1zM476.7 210.8h1.1v1.1h-1.1zM478.9 210.7h1.1v1.1h-1.1zM483.3 211.2h1.1v1.1h-1.1zM489.9 210.8h1.1v1.1h-1.1zM503.1 211.1h1.1v1.1h-1.1zM393.2 213.3h1.1v1.1h-1.1zM397.2 213.2h1.1v1.1h-1.1zM501 213.5h1.1v1.1h-1.1zM505.1 213h1.1v1.1h-1.1zM511.9 213.3h1.1v1.1h-1.1zM513.8 213.6h1.1v1.1h-1.1zM411 215.5h1.1v1.1h-1.1zM412.8 215.5h1.1v1.1h-1.1zM414.8 215.4h1.1v1.1h-1.1zM424.1 215.7h1.1v1.1h-1.1zM425.9 215.7h1.1v1.1h-1.1zM485.3 215.8h1.1v1.1h-1.1zM505 215.6h1.1v1.1h-1.1zM415.4 218.1h1.1v1.1h-1.1zM421.7 217.7h1.1v1.1h-1.1zM426 217.7h1.1v1.1h-1.1zM432.4 218.2h1.1v1.1h-1.1zM435.2 217.8h1.1v1.1h-1.1zM447.8 217.8h1.1v1.1h-1.1zM461.5 218.2h1.1v1.1h-1.1zM474.4 217.7h1.1v1.1h-1.1zM476.7 218.1h1.1v1.1h-1.1zM478.7 217.6h1.1v1.1h-1.1zM481.3 218h1.1v1.1h-1.1zM401.8 220.3h1.1v1.1h-1.1zM406.4 220.3h1.1v1.1h-1.1zM408.2 220.1h1.1v1.1h-1.1zM410.6 220.3h1.1v1.1h-1.1zM424.2 220.3h1.1v1.1h-1.1zM430.2 220.3h1.1v1.1h-1.1zM439.1 220.4h1.1v1.1h-1.1zM447.9 220.2h1.1v1.1h-1.1zM452.4 220.3h1.1v1.1h-1.1zM457.2 220.3h1.1v1.1h-1.1zM487.5 219.9h1.1v1.1h-1.1zM393.4 222.7h1.1v1.1h-1.1zM397.7 222.4h1.1v1.1h-1.1zM500.9 222.6h1.1v1.1h-1.1zM505 222.2h1.1v1.1h-1.1zM512 222.3h1.1v1.1h-1.1zM406.2 224.9h1.1v1.1h-1.1zM408.2 224.6h1.1v1.1h-1.1zM414.9 224.5h1.1v1.1h-1.1zM483.5 224.7h1.1v1.1h-1.1zM501.2 225.1h1.1v1.1h-1.1zM503 224.9h1.1v1.1h-1.1zM505.6 225h1.1v1.1h-1.1zM507.5 224.7h1.1v1.1h-1.1zM402.1 227.2h1.1v1.1h-1.1zM412.6 227.1h1.1v1.1h-1.1zM415.2 227.1h1.1v1.1h-1.1zM417.4 227.2h1.1v1.1h-1.1zM426.2 227.1h1.1v1.1h-1.1zM492.4 227.3h1.1v1.1h-1.1zM500.6 226.8h1.1v1.1h-1.1zM503.4 227.1h1.1v1.1h-1.1zM403.9 229.4h1.1v1.1h-1.1zM406.4 229.3h1.1v1.1h-1.1zM408.8 229.2h1.1v1.1h-1.1zM417.2 229.4h1.1v1.1h-1.1zM423.8 229.2h1.1v1.1h-1.1zM425.8 229.6h1.1v1.1h-1.1zM434.8 229.5h1.1v1.1h-1.1zM461.3 229.5h1.1v1.1h-1.1zM469.8 229.6h1.1v1.1h-1.1zM477 229.4h1.1v1.1h-1.1zM481 229.6h1.1v1.1h-1.1zM483.6 229.6h1.1v1.1h-1.1zM490.1 229.4h1.1v1.1h-1.1zM503.3 229.1h1.1v1.1h-1.1zM406.6 231.9h1.1v1.1h-1.1zM410.4 231.5h1.1v1.1h-1.1zM412.9 231.9h1.1v1.1h-1.1zM426.2 231.9h1.1v1.1h-1.1zM507.2 231.7h1.1v1.1h-1.1zM414.8 234.1h1.1v1.1h-1.1zM417.2 234.3h1.1v1.1h-1.1zM421.6 234.2h1.1v1.1h-1.1zM426.2 234h1.1v1.1h-1.1zM428.6 234h1.1v1.1h-1.1zM434.6 234.2h1.1v1.1h-1.1zM452.2 234h1.1v1.1h-1.1zM457 234.2h1.1v1.1h-1.1zM461.4 233.9h1.1v1.1h-1.1zM463.5 234h1.1v1.1h-1.1zM465.7 233.9h1.1v1.1h-1.1zM474.6 233.7h1.1v1.1h-1.1zM494.5 234.1h1.1v1.1h-1.1zM503 233.7h1.1v1.1h-1.1zM392.9 236.1h1.1v1.1h-1.1zM500.6 236.4h1.1v1.1h-1.1zM507.3 236h1.1v1.1h-1.1zM512.1 236.4h1.1v1.1h-1.1zM415 238.8h1.1v1.1h-1.1zM419.3 238.8h1.1v1.1h-1.1zM421.7 238.6h1.1v1.1h-1.1zM430.2 238.5h1.1v1.1h-1.1zM435 238.7h1.1v1.1h-1.1zM437.3 238.7h1.1v1.1h-1.1zM439.1 238.6h1.1v1.1h-1.1zM458.8 238.6h1.1v1.1h-1.1zM468.2 238.8h1.1v1.1h-1.1zM474.2 238.5h1.1v1.1h-1.1zM479.1 238.4h1.1v1.1h-1.1zM481.4 238.7h1.1v1.1h-1.1zM490.2 238.8h1.1v1.1h-1.1zM393.3 240.8h1.1v1.1h-1.1zM412.8 241h1.1v1.1h-1.1zM415.1 241.2h1.1v1.1h-1.1zM417.5 241.2h1.1v1.1h-1.1zM452.8 241.2h1.1v1.1h-1.1zM492.2 240.6h1.1v1.1h-1.1zM498.5 241.1h1.1v1.1h-1.1zM507.6 240.8h1.1v1.1h-1.1zM408.7 243.3h1.1v1.1h-1.1zM417.4 243.1h1.1v1.1h-1.1zM421.6 243.1h1.1v1.1h-1.1zM435 243.4h1.1v1.1h-1.1zM443.7 243.3h1.1v1.1h-1.1zM445.6 243.3h1.1v1.1h-1.1zM452.5 243.1h1.1v1.1h-1.1zM461.4 243.2h1.1v1.1h-1.1zM463.2 243h1.1v1.1h-1.1zM465.7 243.3h1.1v1.1h-1.1zM470.2 243.3h1.1v1.1h-1.1zM474.7 243h1.1v1.1h-1.1zM478.8 243h1.1v1.1h-1.1zM483.1 243.3h1.1v1.1h-1.1zM488 243h1.1v1.1h-1.1zM496.3 243.1h1.1v1.1h-1.1zM403.8 245.3h1.1v1.1h-1.1zM408.3 245.7h1.1v1.1h-1.1zM412.9 245.7h1.1v1.1h-1.1zM415.4 245.8h1.1v1.1h-1.1zM417.3 245.6h1.1v1.1h-1.1zM425.9 245.3h1.1v1.1h-1.1zM483.6 245.5h1.1v1.1h-1.1zM487.6 245.6h1.1v1.1h-1.1zM492.3 245.8h1.1v1.1h-1.1zM496.4 245.6h1.1v1.1h-1.1zM498.5 245.2h1.1v1.1h-1.1zM505 245.4h1.1v1.1h-1.1zM511.6 245.7h1.1v1.1h-1.1zM423.8 247.7h1.1v1.1h-1.1zM430.6 248h1.1v1.1h-1.1zM437.2 247.8h1.1v1.1h-1.1zM441.2 247.7h1.1v1.1h-1.1zM448.3 247.7h1.1v1.1h-1.1zM468 247.7h1.1v1.1h-1.1zM472.4 247.7h1.1v1.1h-1.1zM474.3 247.8h1.1v1.1h-1.1zM489.6 247.9h1.1v1.1h-1.1zM404.3 249.9h1.1v1.1h-1.1zM408.4 249.9h1.1v1.1h-1.1zM410.5 250.2h1.1v1.1h-1.1zM415.3 250h1.1v1.1h-1.1zM417.3 250.2h1.1v1.1h-1.1zM423.6 250.1h1.1v1.1h-1.1zM434.6 250.2h1.1v1.1h-1.1zM452.5 250.4h1.1v1.1h-1.1zM483.5 250.2h1.1v1.1h-1.1zM492 250.1h1.1v1.1h-1.1zM496.4 249.8h1.1v1.1h-1.1zM499 250.1h1.1v1.1h-1.1zM501 250.1h1.1v1.1h-1.1zM419.4 252.5h1.1v1.1h-1.1zM423.9 252.2h1.1v1.1h-1.1zM430.6 252.6h1.1v1.1h-1.1zM432.8 252.1h1.1v1.1h-1.1zM436.8 252.4h1.1v1.1h-1.1zM443.9 252.4h1.1v1.1h-1.1zM445.6 252.3h1.1v1.1h-1.1zM459.3 252.2h1.1v1.1h-1.1zM465.8 252.4h1.1v1.1h-1.1zM476.5 252.5h1.1v1.1h-1.1zM489.9 252.2h1.1v1.1h-1.1zM410.7 254.7h1.1v1.1h-1.1zM417.6 254.6h1.1v1.1h-1.1zM424 254.6h1.1v1.1h-1.1zM426.4 255h1.1v1.1h-1.1zM434.7 254.4h1.1v1.1h-1.1zM448.1 254.8h1.1v1.1h-1.1zM452.7 254.6h1.1v1.1h-1.1zM456.6 254.7h1.1v1.1h-1.1zM474.4 254.9h1.1v1.1h-1.1zM479.1 254.8h1.1v1.1h-1.1zM480.9 254.6h1.1v1.1h-1.1zM487.5 254.8h1.1v1.1h-1.1zM507.7 254.6h1.1v1.1h-1.1zM441.7 257.3h1.1v1.1h-1.1zM447.8 257.1h1.1v1.1h-1.1zM454.8 257.3h1.1v1.1h-1.1zM479.2 257h1.1v1.1h-1.1zM436.9 259.1h1.1v1.1h-1.1zM474.6 259.3h1.1v1.1h-1.1z"/><path fill="#0860df" d="M436.8 153.8h1.1v1.1h-1.1zM446 153.3h1.1v1.1h-1.1zM454.8 153.6h1.1v1.1h-1.1zM436.8 160.1h1.1v1.1h-1.1zM454.6 160.5h1.1v1.1h-1.1zM443.9 162.7h1.3v1.3h-1.3zM454.7 162.6h1.1v1.1h-1.1zM459 163h1.1v1.1h-1.1zM463.7 162.4h1.3v1.3h-1.3zM461 165.1h1.1v1.1h-1.1zM468.1 165.1h1.1v1.1h-1.1zM417.1 167.3h1.1v1.1h-1.1zM430.6 167.4h1.3v1.3h-1.3zM439.3 167.5h1.1v1.1h-1.1zM450 167.4h1.3v1.3h-1.3zM468 167h1.3v1.3h-1.3zM422 169.3h1.3v1.3h-1.3zM428.5 169.7h1.3v1.3h-1.3zM433 174.2h1.1v1.1h-1.1zM441.2 174.3h1.3v1.3h-1.3zM448.3 174.1h1.1v1.1h-1.1zM461.1 174.4h1.3v1.3h-1.3zM408.5 176.5h1.3v1.3h-1.3zM415.2 176.5h1.3v1.3h-1.3zM426.4 176.8h1.1v1.1h-1.1zM430.3 176.3h1.3v1.3h-1.3zM434.6 176.4h1.1v1.1h-1.1zM439.3 176.7h1.1v1.1h-1.1zM448.3 176.7h1.1v1.1h-1.1zM461.2 176.3h1.1v1.1h-1.1zM410.7 179h1.1v1.1h-1.1zM417 178.8h1.3v1.3h-1.3zM421.8 179.1h1.1v1.1h-1.1zM426.1 179h1.1v1.1h-1.1zM434.6 178.7h1.1v1.1h-1.1zM452.7 178.6h1.3v1.3h-1.3zM461.3 179h1.1v1.1h-1.1zM408.6 181.3h1.3v1.3h-1.3zM423.7 181.3h1.3v1.3h-1.3zM439.2 180.8h1.3v1.3h-1.3zM452.6 180.8h1.3v1.3h-1.3zM454.4 181.2h1.3v1.3h-1.3zM456.6 181h1.3v1.3h-1.3zM419.6 183.2h1.1v1.1h-1.1zM421.8 183.5h1.3v1.3h-1.3zM432.8 183.6h1.3v1.3h-1.3zM443.7 183.6h1.1v1.1h-1.1zM445.9 183.5h1.3v1.3h-1.3zM448.3 183.5h1.1v1.1h-1.1zM450 183.7h1.1v1.1h-1.1zM454.7 183.7h1.1v1.1h-1.1zM402.2 185.9h1.1v1.1h-1.1zM406.6 185.8h1.3v1.3h-1.3zM417.1 185.8h1.3v1.3h-1.3zM401.8 187.8h1.1v1.1h-1.1zM419.2 187.8h1.3v1.3h-1.3zM424 187.9h1.1v1.1h-1.1zM456.6 187.8h1.1v1.1h-1.1zM404.4 190h1.1v1.1h-1.1zM406.5 190.6h1.3v1.3h-1.3zM408.8 190.5h1.3v1.3h-1.3zM406.1 192.4h1.3v1.3h-1.3zM426.4 192.5h1.1v1.1h-1.1zM452.2 192.3h1.3v1.3h-1.3zM456.6 192.7h1.3v1.3h-1.3zM461 192.3h1.3v1.3h-1.3zM470 192.4h1.3v1.3h-1.3zM476.7 192.3h1.1v1.1h-1.1zM483.2 192.5h1.1v1.1h-1.1zM485.4 192.5h1.1v1.1h-1.1zM492.1 192.8h1.1v1.1h-1.1zM494.4 192.3h1.1v1.1h-1.1zM498.6 192.6h1.3v1.3h-1.3zM392.8 194.8h1.3v1.3h-1.3zM491.9 195h1.3v1.3h-1.3zM498.7 195h1.1v1.1h-1.1zM507.2 195h1.3v1.3h-1.3zM425.8 196.9h1.3v1.3h-1.3zM496.6 197.3h1.1v1.1h-1.1zM502.9 197.3h1.1v1.1h-1.1zM393.3 199.7h1.1v1.1h-1.1zM402 199.6h1.3v1.3h-1.3zM491.8 199.3h1.3v1.3h-1.3zM410.5 201.9h1.1v1.1h-1.1zM419.8 201.9h1.3v1.3h-1.3zM422 201.8h1.3v1.3h-1.3zM424 201.6h1.1v1.1h-1.1zM430.4 201.9h1.3v1.3h-1.3zM441.6 201.6h1.3v1.3h-1.3zM443.5 202.1h1.1v1.1h-1.1zM450.5 201.8h1.1v1.1h-1.1zM454.9 201.6h1.1v1.1h-1.1zM456.6 201.5h1.3v1.3h-1.3zM468.1 201.9h1.3v1.3h-1.3zM472.1 202.1h1.1v1.1h-1.1zM474.6 201.8h1.1v1.1h-1.1zM481 202.1h1.1v1.1h-1.1zM411 204.3h1.3v1.3h-1.3zM417 204h1.3v1.3h-1.3zM422 203.8h1.3v1.3h-1.3zM424.1 204h1.1v1.1h-1.1zM425.8 203.9h1.1v1.1h-1.1zM457 204.4h1.3v1.3h-1.3zM476.5 204.2h1.1v1.1h-1.1zM488 204.1h1.3v1.3h-1.3zM503 204.3h1.1v1.1h-1.1zM505 204.2h1.1v1.1h-1.1zM432.5 206.5h1.1v1.1h-1.1zM434.9 206.2h1.1v1.1h-1.1zM439.6 206.6h1.1v1.1h-1.1zM457.2 206.4h1.3v1.3h-1.3zM461 206.5h1.1v1.1h-1.1zM470 206.3h1.1v1.1h-1.1zM401.9 208.7h1.1v1.1h-1.1zM413.2 208.6h1.3v1.3h-1.3zM492.4 208.7h1.1v1.1h-1.1zM498.6 208.7h1.1v1.1h-1.1zM503.2 208.9h1.1v1.1h-1.1zM507.2 208.7h1.3v1.3h-1.3zM443.5 211.1h1.1v1.1h-1.1zM452.2 211.3h1.1v1.1h-1.1zM463.5 211h1.1v1.1h-1.1zM481.2 211.2h1.3v1.3h-1.3zM413 213.3h1.1v1.1h-1.1zM417.2 215.9h1.3v1.3h-1.3zM454.8 215.7h1.3v1.3h-1.3zM468 215.6h1.3v1.3h-1.3zM470 215.8h1.1v1.1h-1.1zM476.5 215.8h1.3v1.3h-1.3zM483 215.8h1.3v1.3h-1.3zM494.2 215.3h1.1v1.1h-1.1zM496.8 215.3h1.1v1.1h-1.1zM498.6 215.4h1.1v1.1h-1.1zM417.6 217.9h1.1v1.1h-1.1zM423.7 217.8h1.3v1.3h-1.3zM428.1 217.7h1.1v1.1h-1.1zM430.5 217.8h1.1v1.1h-1.1zM439 218h1.1v1.1h-1.1zM441.2 218h1.1v1.1h-1.1zM445.8 218.1h1.3v1.3h-1.3zM468 217.7h1.1v1.1h-1.1zM487.4 217.7h1.1v1.1h-1.1zM490 218h1.1v1.1h-1.1zM421.8 220.4h1.1v1.1h-1.1zM443.8 219.9h1.3v1.3h-1.3zM445.6 220.4h1.3v1.3h-1.3zM454.5 220.3h1.1v1.1h-1.1zM459.1 220.2h1.1v1.1h-1.1zM461.4 220.5h1.3v1.3h-1.3zM463.4 220.3h1.3v1.3h-1.3zM469.9 220h1.3v1.3h-1.3zM479 220.3h1.3v1.3h-1.3zM489.7 220.4h1.3v1.3h-1.3zM402.1 222.3h1.3v1.3h-1.3zM408.2 222.3h1.3v1.3h-1.3zM492 222.8h1.1v1.1h-1.1zM507.7 222.6h1.3v1.3h-1.3zM404.4 224.8h1.1v1.1h-1.1zM410.7 224.7h1.3v1.3h-1.3zM413.1 225h1.1v1.1h-1.1zM417.4 225h1.1v1.1h-1.1zM434.8 224.5h1.3v1.3h-1.3zM461.1 224.7h1.3v1.3h-1.3zM470.2 224.8h1.1v1.1h-1.1zM476.7 224.8h1.1v1.1h-1.1zM487.4 224.8h1.1v1.1h-1.1zM492.2 224.9h1.1v1.1h-1.1zM494.3 224.9h1.3v1.3h-1.3zM406.1 227h1.1v1.1h-1.1zM410.7 227h1.1v1.1h-1.1zM424 226.9h1.1v1.1h-1.1zM452.7 227h1.1v1.1h-1.1zM496.3 227.2h1.1v1.1h-1.1zM411 229.6h1.1v1.1h-1.1zM419.2 229.5h1.1v1.1h-1.1zM439.5 229.6h1.1v1.1h-1.1zM443.6 229.7h1.1v1.1h-1.1zM452.4 229.5h1.1v1.1h-1.1zM455 229.2h1.1v1.1h-1.1zM474.3 229.4h1.1v1.1h-1.1zM487.9 229.5h1.3v1.3h-1.3zM507.5 229.2h1.1v1.1h-1.1zM402.2 231.6h1.3v1.3h-1.3zM408.6 231.8h1.3v1.3h-1.3zM415.3 231.5h1.1v1.1h-1.1zM424.1 231.8h1.1v1.1h-1.1zM434.6 231.8h1.1v1.1h-1.1zM439.4 231.5h1.3v1.3h-1.3zM448.2 231.5h1.3v1.3h-1.3zM498.6 231.5h1.1v1.1h-1.1zM503.2 231.6h1.1v1.1h-1.1zM505.2 231.5h1.1v1.1h-1.1zM439.6 233.9h1.1v1.1h-1.1zM447.8 234.2h1.1v1.1h-1.1zM454.9 234h1.3v1.3h-1.3zM459.4 234h1.1v1.1h-1.1zM485.5 233.8h1.1v1.1h-1.1zM489.7 234.1h1.1v1.1h-1.1zM402.1 236.1h1.3v1.3h-1.3zM406.6 236.5h1.1v1.1h-1.1zM412.8 236.2h1.1v1.1h-1.1zM498.4 236.3h1.1v1.1h-1.1zM502.8 236.5h1.1v1.1h-1.1zM445.7 238.6h1.1v1.1h-1.1zM450.6 238.4h1.3v1.3h-1.3zM454.4 238.7h1.1v1.1h-1.1zM456.7 238.8h1.1v1.1h-1.1zM463.3 238.8h1.3v1.3h-1.3zM470 238.3h1.3v1.3h-1.3zM472.6 238.9h1.3v1.3h-1.3zM487.7 238.6h1.1v1.1h-1.1zM402.1 240.9h1.1v1.1h-1.1zM408.8 241.1h1.1v1.1h-1.1zM421.6 241h1.3v1.3h-1.3zM423.6 241.2h1.1v1.1h-1.1zM505.2 240.9h1.3v1.3h-1.3zM419.5 243.4h1.1v1.1h-1.1zM432.4 243h1.3v1.3h-1.3zM437.1 243h1.3v1.3h-1.3zM439.5 243.2h1.1v1.1h-1.1zM472.3 243.2h1.3v1.3h-1.3zM481.1 243.1h1.3v1.3h-1.3zM489.9 242.9h1.3v1.3h-1.3zM494 243.1h1.3v1.3h-1.3zM421.4 245.7h1.3v1.3h-1.3zM435.1 245.6h1.1v1.1h-1.1zM452.4 245.3h1.3v1.3h-1.3zM465.9 245.5h1.3v1.3h-1.3zM470.2 245.7h1.3v1.3h-1.3zM494.4 245.2h1.3v1.3h-1.3zM503.4 245.2h1.3v1.3h-1.3zM507.4 245.6h1.1v1.1h-1.1zM432.5 248h1.1v1.1h-1.1zM419.2 249.8h1.3v1.3h-1.3zM430.3 250.3h1.3v1.3h-1.3zM447.9 250h1.3v1.3h-1.3zM461.6 250.2h1.1v1.1h-1.1zM466 250.1h1.3v1.3h-1.3zM476.5 250h1.1v1.1h-1.1zM485.4 250h1.1v1.1h-1.1zM488 250.2h1.1v1.1h-1.1zM494.1 249.9h1.3v1.3h-1.3zM428 252.5h1.1v1.1h-1.1zM450.1 252.5h1.1v1.1h-1.1zM463.5 252.3h1.3v1.3h-1.3zM393.3 254.9h1.1v1.1h-1.1zM419.3 254.8h1.1v1.1h-1.1zM428.3 254.8h1.3v1.3h-1.3zM430.5 254.8h1.1v1.1h-1.1zM441.4 254.9h1.1v1.1h-1.1zM444 254.6h1.3v1.3h-1.3zM454.5 254.9h1.1v1.1h-1.1zM459.2 254.5h1.1v1.1h-1.1zM465.4 254.6h1.3v1.3h-1.3zM472.5 254.4h1.1v1.1h-1.1zM485.6 254.8h1.3v1.3h-1.3zM490 254.5h1.1v1.1h-1.1zM445.6 257.1h1.1v1.1h-1.1z"/><path fill="#056de0" d="M467.8 158.3h1.3v1.3h-1.3zM410.6 164.9h1.3v1.3h-1.3zM428.4 164.9h1.3v1.3h-1.3zM436.8 165h1.3v1.3h-1.3zM441.3 164.9h1.3v1.3h-1.3zM443.7 165h1.3v1.3h-1.3zM456.6 165.3h1.3v1.3h-1.3zM459.1 165h1.3v1.3h-1.3zM463.3 165h1.3v1.3h-1.3zM470 164.7h1.3v1.3h-1.3zM437.3 167.5h1.3v1.3h-1.3zM441.7 167.3h1.3v1.3h-1.3zM448.3 167.4h1.3v1.3h-1.3zM452.6 167.5h1.3v1.3h-1.3zM459.4 167.1h1.3v1.3h-1.3zM444 169.4h1.3v1.3h-1.3zM459.1 169.4h1.3v1.3h-1.3zM467.8 169.8h1.3v1.3h-1.3zM406.6 171.8h1.3v1.3h-1.3zM423.7 172h1.3v1.3h-1.3zM436.8 174h1.3v1.3h-1.3zM467.6 174.2h1.3v1.3h-1.3zM419.8 176.5h1.3v1.3h-1.3zM423.8 176.3h1.3v1.3h-1.3zM457.2 176.4h1.3v1.3h-1.3zM470 176.6h1.3v1.3h-1.3zM401.8 178.7h1.3v1.3h-1.3zM412.7 178.9h1.3v1.3h-1.3zM430.8 178.6h1.3v1.3h-1.3zM457.2 178.8h1.3v1.3h-1.3zM465.7 179h1.3v1.3h-1.3zM469.9 178.8h1.3v1.3h-1.3zM411 181.4h1.3v1.3h-1.3zM417.2 181h1.3v1.3h-1.3zM419.8 181.2h1.3v1.3h-1.3zM421.9 181.1h1.3v1.3h-1.3zM426.2 181.1h1.3v1.3h-1.3zM430.5 181.2h1.3v1.3h-1.3zM432.9 181.2h1.3v1.3h-1.3zM434.6 181.2h1.3v1.3h-1.3zM443.7 180.9h1.3v1.3h-1.3zM447.9 181h1.3v1.3h-1.3zM468.2 181.2h1.3v1.3h-1.3zM470.4 181.3h1.3v1.3h-1.3zM428.6 183.5h1.3v1.3h-1.3zM459.2 183.5h1.3v1.3h-1.3zM465.9 183.6h1.3v1.3h-1.3zM403.8 185.5h1.3v1.3h-1.3zM421.5 185.5h1.3v1.3h-1.3zM434.8 185.4h1.3v1.3h-1.3zM461.4 185.8h1.3v1.3h-1.3zM428.2 187.8h1.3v1.3h-1.3zM459.1 187.9h1.3v1.3h-1.3zM463.4 188h1.3v1.3h-1.3zM465.7 187.9h1.3v1.3h-1.3zM468.2 188.2h1.3v1.3h-1.3zM439.2 190.5h1.3v1.3h-1.3zM417.2 192.8h1.3v1.3h-1.3zM437.2 192.7h1.3v1.3h-1.3zM443.7 192.3h1.3v1.3h-1.3zM454.9 192.7h1.3v1.3h-1.3zM465.4 192.4h1.3v1.3h-1.3zM474.7 192.4h1.3v1.3h-1.3zM479.1 192.6h1.3v1.3h-1.3zM480.9 192.5h1.3v1.3h-1.3zM490.1 192.4h1.3v1.3h-1.3zM406.3 195h1.3v1.3h-1.3zM503.3 194.9h1.3v1.3h-1.3zM406.3 197.2h1.3v1.3h-1.3zM410.7 197h1.3v1.3h-1.3zM415.1 197.3h1.3v1.3h-1.3zM423.6 197.2h1.3v1.3h-1.3zM439 197.1h1.3v1.3h-1.3zM452.6 197.1h1.3v1.3h-1.3zM483 197.2h1.3v1.3h-1.3zM487.5 197.4h1.3v1.3h-1.3zM498.9 197h1.3v1.3h-1.3zM408.3 199.4h1.3v1.3h-1.3zM483.2 199.3h1.3v1.3h-1.3zM500.8 199.5h1.3v1.3h-1.3zM505.1 199.8h1.3v1.3h-1.3zM509.5 199.5h1.3v1.3h-1.3zM415 204h1.3v1.3h-1.3zM439.3 203.9h1.3v1.3h-1.3zM452.8 204h1.3v1.3h-1.3zM454.7 204.3h1.3v1.3h-1.3zM463.8 204.2h1.3v1.3h-1.3zM470.4 203.8h1.3v1.3h-1.3zM485.6 204.1h1.3v1.3h-1.3zM499 204.2h1.3v1.3h-1.3zM441.8 206.7h1.3v1.3h-1.3zM465.7 206.3h1.3v1.3h-1.3zM415.4 208.8h1.3v1.3h-1.3zM417.5 208.5h1.3v1.3h-1.3zM425.8 209h1.3v1.3h-1.3zM483.1 208.5h1.3v1.3h-1.3zM500.8 209h1.3v1.3h-1.3zM485.8 211.3h1.3v1.3h-1.3zM406.2 213.3h1.3v1.3h-1.3zM483.5 213.4h1.3v1.3h-1.3zM492.2 213h1.3v1.3h-1.3zM498.5 213h1.3v1.3h-1.3zM408.3 215.7h1.3v1.3h-1.3zM421.6 215.6h1.3v1.3h-1.3zM430.4 215.7h1.3v1.3h-1.3zM435.2 215.6h1.3v1.3h-1.3zM439.6 215.4h1.3v1.3h-1.3zM443.7 215.7h1.3v1.3h-1.3zM448.3 215.6h1.3v1.3h-1.3zM450.4 215.6h1.3v1.3h-1.3zM461.3 215.6h1.3v1.3h-1.3zM466 215.5h1.3v1.3h-1.3zM472 215.5h1.3v1.3h-1.3zM488 215.3h1.3v1.3h-1.3zM411 217.9h1.3v1.3h-1.3zM450.3 217.8h1.3v1.3h-1.3zM454.6 217.9h1.3v1.3h-1.3zM472.6 218.2h1.3v1.3h-1.3zM494.6 217.9h1.3v1.3h-1.3zM428.4 220.1h1.3v1.3h-1.3zM432.9 220.3h1.3v1.3h-1.3zM437.3 220.1h1.3v1.3h-1.3zM483.3 220.2h1.3v1.3h-1.3zM494 220.1h1.3v1.3h-1.3zM404.4 222.5h1.3v1.3h-1.3zM412.7 222.7h1.3v1.3h-1.3zM417.3 222.2h1.3v1.3h-1.3zM498.7 222.7h1.3v1.3h-1.3zM424.1 225h1.3v1.3h-1.3zM426.2 224.6h1.3v1.3h-1.3zM433 224.7h1.3v1.3h-1.3zM452.2 224.9h1.3v1.3h-1.3zM456.8 225h1.3v1.3h-1.3zM465.7 224.9h1.3v1.3h-1.3zM485.5 224.9h1.3v1.3h-1.3zM439.1 227h1.3v1.3h-1.3zM457.1 226.9h1.3v1.3h-1.3zM461 227h1.3v1.3h-1.3zM465.9 227h1.3v1.3h-1.3zM467.6 227.4h1.3v1.3h-1.3zM476.6 227h1.3v1.3h-1.3zM481 226.8h1.3v1.3h-1.3zM485.8 227.2h1.3v1.3h-1.3zM487.9 227.2h1.3v1.3h-1.3zM489.9 227.4h1.3v1.3h-1.3zM430.3 229.4h1.3v1.3h-1.3zM448.2 229.4h1.3v1.3h-1.3zM450 229.3h1.3v1.3h-1.3zM457 229.3h1.3v1.3h-1.3zM463.8 229.2h1.3v1.3h-1.3zM465.8 229.5h1.3v1.3h-1.3zM467.7 229.3h1.3v1.3h-1.3zM478.6 229.2h1.3v1.3h-1.3zM494.3 229.6h1.3v1.3h-1.3zM421.4 231.5h1.3v1.3h-1.3zM452.3 231.5h1.3v1.3h-1.3zM456.8 231.6h1.3v1.3h-1.3zM476.4 232h1.3v1.3h-1.3zM481.4 231.6h1.3v1.3h-1.3zM489.8 231.8h1.3v1.3h-1.3zM494.1 231.7h1.3v1.3h-1.3zM496.5 231.9h1.3v1.3h-1.3zM424 233.9h1.3v1.3h-1.3zM441.5 234.3h1.3v1.3h-1.3zM450.5 234.1h1.3v1.3h-1.3zM470 234h1.3v1.3h-1.3zM472.3 233.9h1.3v1.3h-1.3zM479.2 234.1h1.3v1.3h-1.3zM404.3 236.4h1.3v1.3h-1.3zM417 236.5h1.3v1.3h-1.3zM505.1 236.4h1.3v1.3h-1.3zM428.1 238.4h1.3v1.3h-1.3zM441.2 238.8h1.3v1.3h-1.3zM443.8 238.8h1.3v1.3h-1.3zM485.8 238.5h1.3v1.3h-1.3zM406.5 240.6h1.3v1.3h-1.3zM425.8 240.7h1.3v1.3h-1.3zM434.9 241.1h1.3v1.3h-1.3zM465.5 240.7h1.3v1.3h-1.3zM470.3 240.7h1.3v1.3h-1.3zM479 240.7h1.3v1.3h-1.3zM480.9 240.9h1.3v1.3h-1.3zM483.2 241h1.3v1.3h-1.3zM487.5 241h1.3v1.3h-1.3zM489.9 241.2h1.3v1.3h-1.3zM494.1 241h1.3v1.3h-1.3zM428.3 243.2h1.3v1.3h-1.3zM450.1 243.4h1.3v1.3h-1.3zM454.6 243.3h1.3v1.3h-1.3zM459.4 243.1h1.3v1.3h-1.3zM468.2 242.9h1.3v1.3h-1.3zM410.7 245.2h1.3v1.3h-1.3zM439.1 245.3h1.3v1.3h-1.3zM461.3 245.3h1.3v1.3h-1.3zM476.5 245.4h1.3v1.3h-1.3zM478.8 245.2h1.3v1.3h-1.3zM481.1 245.6h1.3v1.3h-1.3zM489.9 245.6h1.3v1.3h-1.3zM426 249.9h1.3v1.3h-1.3zM428.4 250.2h1.3v1.3h-1.3zM441.4 250.1h1.3v1.3h-1.3zM444 250.3h1.3v1.3h-1.3zM456.8 250.3h1.3v1.3h-1.3zM474.8 250.2h1.3v1.3h-1.3zM507.3 250.3h1.3v1.3h-1.3zM415 254.9h1.3v1.3h-1.3zM436.9 254.5h1.3v1.3h-1.3zM463.3 254.8h1.3v1.3h-1.3zM467.8 254.7h1.3v1.3h-1.3zM476.4 254.9h1.3v1.3h-1.3z"/><path fill="#0f77db" d="M430.7 165.1h1.3v1.3h-1.3zM432.9 165.1h1.3v1.3h-1.3zM450.4 165.2h1.3v1.3h-1.3zM432.8 167.4h1.3v1.3h-1.3zM401.7 172.1h1.3v1.3h-1.3zM411 171.8h1.3v1.3h-1.3zM413 171.9h1.3v1.3h-1.3zM417.1 171.9h1.3v1.3h-1.3zM426.2 171.9h1.3v1.3h-1.3zM439.2 171.8h1.3v1.3h-1.3zM446.2 174.4h1.3v1.3h-1.3zM450.6 174.5h1.3v1.3h-1.3zM428.2 176.7h1.3v1.3h-1.3zM432.4 176.7h1.3v1.3h-1.3zM446 176.8h1.3v1.3h-1.3zM454.5 176.4h1.3v1.3h-1.3zM415.2 178.8h1.3v1.3h-1.3zM419.3 178.7h1.3v1.3h-1.3zM433 178.7h1.3v1.3h-1.3zM447.9 178.8h1.3v1.3h-1.3zM455 178.9h1.3v1.3h-1.3zM468 178.6h1.3v1.3h-1.3zM441.5 181.1h1.3v1.3h-1.3zM446.2 180.9h1.3v1.3h-1.3zM430.2 183.1h1.3v1.3h-1.3zM436.9 183.4h1.3v1.3h-1.3zM463.4 183.5h1.3v1.3h-1.3zM408.8 185.4h1.3v1.3h-1.3zM413 185.6h1.3v1.3h-1.3zM415.2 185.9h1.3v1.3h-1.3zM439 185.8h1.3v1.3h-1.3zM432.5 188.1h1.3v1.3h-1.3zM435 187.9h1.3v1.3h-1.3zM439 188.1h1.3v1.3h-1.3zM441.7 187.7h1.3v1.3h-1.3zM448 188.1h1.3v1.3h-1.3zM401.9 190.3h1.3v1.3h-1.3zM435.2 190.4h1.3v1.3h-1.3zM457.1 190.4h1.3v1.3h-1.3zM419.6 192.7h1.3v1.3h-1.3zM423.9 192.5h1.3v1.3h-1.3zM445.6 192.8h1.3v1.3h-1.3zM447.9 192.8h1.3v1.3h-1.3zM463.5 192.8h1.3v1.3h-1.3zM412.6 195h1.3v1.3h-1.3zM496.7 195.1h1.3v1.3h-1.3zM500.6 195h1.3v1.3h-1.3zM505.5 194.9h1.3v1.3h-1.3zM512.2 195.2h1.3v1.3h-1.3zM419.5 197.4h1.3v1.3h-1.3zM448.4 196.9h1.3v1.3h-1.3zM456.8 197.3h1.3v1.3h-1.3zM465.6 197h1.3v1.3h-1.3zM479 197.3h1.3v1.3h-1.3zM414.8 199.6h1.3v1.3h-1.3zM498.8 199.4h1.3v1.3h-1.3zM502.9 199.8h1.3v1.3h-1.3zM478.9 202h1.3v1.3h-1.3zM408.7 204.4h1.3v1.3h-1.3zM419.6 204.3h1.3v1.3h-1.3zM483.4 203.9h1.3v1.3h-1.3zM494.3 204.4h1.3v1.3h-1.3zM419.7 206.7h1.3v1.3h-1.3zM467.7 206.6h1.3v1.3h-1.3zM479.2 206.6h1.3v1.3h-1.3zM410.4 209h1.3v1.3h-1.3zM439.2 208.5h1.3v1.3h-1.3zM452.5 208.5h1.3v1.3h-1.3zM456.7 208.5h1.3v1.3h-1.3zM494.5 208.8h1.3v1.3h-1.3zM426.3 213.1h1.3v1.3h-1.3zM452.4 213.5h1.3v1.3h-1.3zM476.7 213.3h1.3v1.3h-1.3zM487.8 213.1h1.3v1.3h-1.3zM437 215.5h1.3v1.3h-1.3zM459.4 215.6h1.3v1.3h-1.3zM419.3 217.8h1.3v1.3h-1.3zM443.5 218h1.3v1.3h-1.3zM459.1 217.8h1.3v1.3h-1.3zM450.2 220h1.3v1.3h-1.3zM465.7 220.2h1.3v1.3h-1.3zM481.4 219.9h1.3v1.3h-1.3zM406.5 222.5h1.3v1.3h-1.3zM426.2 222.2h1.3v1.3h-1.3zM452.8 222.7h1.3v1.3h-1.3zM476.9 222.8h1.3v1.3h-1.3zM483.3 222.5h1.3v1.3h-1.3zM421.4 224.9h1.3v1.3h-1.3zM445.7 224.9h1.3v1.3h-1.3zM454.7 224.6h1.3v1.3h-1.3zM481.2 224.9h1.3v1.3h-1.3zM489.6 224.9h1.3v1.3h-1.3zM428.6 227h1.3v1.3h-1.3zM432.7 227.1h1.3v1.3h-1.3zM434.8 227h1.3v1.3h-1.3zM448.4 227h1.3v1.3h-1.3zM463.2 227.2h1.3v1.3h-1.3zM483.4 227.3h1.3v1.3h-1.3zM428.4 229.3h1.3v1.3h-1.3zM472.6 229.2h1.3v1.3h-1.3zM417.1 231.9h1.3v1.3h-1.3zM428.1 231.6h1.3v1.3h-1.3zM430.8 232h1.3v1.3h-1.3zM443.6 231.7h1.3v1.3h-1.3zM459.4 231.5h1.3v1.3h-1.3zM461.2 231.4h1.3v1.3h-1.3zM463.6 231.7h1.3v1.3h-1.3zM470 231.7h1.3v1.3h-1.3zM483.1 231.7h1.3v1.3h-1.3zM410.9 233.9h1.3v1.3h-1.3zM419.3 234.1h1.3v1.3h-1.3zM430.2 234.2h1.3v1.3h-1.3zM444 234h1.3v1.3h-1.3zM415.2 236.4h1.3v1.3h-1.3zM466 236.3h1.3v1.3h-1.3zM483.3 236.1h1.3v1.3h-1.3zM491.9 236.1h1.3v1.3h-1.3zM432.9 238.5h1.3v1.3h-1.3zM432.8 241h1.3v1.3h-1.3zM439.6 241.1h1.3v1.3h-1.3zM441.7 241.2h1.3v1.3h-1.3zM456.6 240.8h1.3v1.3h-1.3zM458.9 241h1.3v1.3h-1.3zM463.4 240.7h1.3v1.3h-1.3zM476.5 241h1.3v1.3h-1.3zM496.2 240.8h1.3v1.3h-1.3zM503.1 241.1h1.3v1.3h-1.3zM485.6 243.4h1.3v1.3h-1.3zM419.4 245.5h1.3v1.3h-1.3zM424 245.6h1.3v1.3h-1.3zM433 245.6h1.3v1.3h-1.3zM447.8 245.5h1.3v1.3h-1.3zM454.5 245.2h1.3v1.3h-1.3zM457 245.3h1.3v1.3h-1.3zM468.2 245.2h1.3v1.3h-1.3zM406.6 250.1h1.3v1.3h-1.3zM421.8 249.9h1.3v1.3h-1.3zM439.1 250.2h1.3v1.3h-1.3zM450.4 250h1.3v1.3h-1.3zM454.6 250.1h1.3v1.3h-1.3zM472 250.4h1.3v1.3h-1.3zM479.1 249.9h1.3v1.3h-1.3zM489.7 250.3h1.3v1.3h-1.3zM503.2 250.1h1.3v1.3h-1.3zM422 254.7h1.3v1.3h-1.3zM432.6 254.5h1.3v1.3h-1.3zM461.5 254.6h1.3v1.3h-1.3zM469.8 254.6h1.3v1.3h-1.3z"/><path fill="#1481d6" d="M428.3 167.2h1.3v1.3h-1.3zM445.9 167.1h1.3v1.3h-1.3zM455 167.3h1.3v1.3h-1.3zM393.1 171.9h1.3v1.3h-1.3zM419.8 171.7h1.3v1.3h-1.3zM421.6 172.1h1.3v1.3h-1.3zM448.3 172.1h1.3v1.3h-1.3zM452.4 172h1.3v1.3h-1.3zM457 171.9h1.3v1.3h-1.3zM461.3 172.1h1.3v1.3h-1.3zM444 176.7h1.3v1.3h-1.3zM437 178.8h1.3v1.3h-1.3zM441.7 178.7h1.3v1.3h-1.3zM458.8 178.6h1.3v1.3h-1.3zM450.3 181.1h1.3v1.3h-1.3zM457.1 185.8h1.3v1.3h-1.3zM458.9 185.6h1.3v1.3h-1.3zM470.3 185.7h1.3v1.3h-1.3zM446 187.8h1.3v1.3h-1.3zM452.2 187.9h1.3v1.3h-1.3zM461.2 188.3h1.3v1.3h-1.3zM413.1 190.1h1.3v1.3h-1.3zM421.5 190.2h1.3v1.3h-1.3zM410.6 192.4h1.3v1.3h-1.3zM421.4 192.6h1.3v1.3h-1.3zM428.3 192.8h1.3v1.3h-1.3zM432.8 192.5h1.3v1.3h-1.3zM439 192.7h1.3v1.3h-1.3zM441.7 192.7h1.3v1.3h-1.3zM450.2 192.9h1.3v1.3h-1.3zM458.8 192.4h1.3v1.3h-1.3zM401.8 194.8h1.3v1.3h-1.3zM417 195.2h1.3v1.3h-1.3zM426 194.7h1.3v1.3h-1.3zM483.5 195h1.3v1.3h-1.3zM487.4 195h1.3v1.3h-1.3zM455 197.4h1.3v1.3h-1.3zM463.4 197h1.3v1.3h-1.3zM481.2 197h1.3v1.3h-1.3zM406.4 199.7h1.3v1.3h-1.3zM410.7 199.7h1.3v1.3h-1.3zM412.7 199.8h1.3v1.3h-1.3zM436.9 202h1.3v1.3h-1.3zM445.9 202h1.3v1.3h-1.3zM485.7 201.9h1.3v1.3h-1.3zM433 204h1.3v1.3h-1.3zM448.3 204.1h1.3v1.3h-1.3zM474.2 203.9h1.3v1.3h-1.3zM478.9 203.9h1.3v1.3h-1.3zM406.6 208.5h1.3v1.3h-1.3zM485.4 208.6h1.3v1.3h-1.3zM487.4 208.6h1.3v1.3h-1.3zM404.4 213.3h1.3v1.3h-1.3zM408.3 213.2h1.3v1.3h-1.3zM415.1 213.4h1.3v1.3h-1.3zM439.6 213.1h1.3v1.3h-1.3zM456.8 213.5h1.3v1.3h-1.3zM469.9 213.3h1.3v1.3h-1.3zM481.2 213.2h1.3v1.3h-1.3zM507.5 213.3h1.3v1.3h-1.3zM432.9 215.9h1.3v1.3h-1.3zM441.7 215.3h1.3v1.3h-1.3zM452.4 215.5h1.3v1.3h-1.3zM457.2 215.4h1.3v1.3h-1.3zM474.4 215.3h1.3v1.3h-1.3zM490 215.6h1.3v1.3h-1.3zM463.4 218.1h1.3v1.3h-1.3zM468 220.3h1.3v1.3h-1.3zM474.2 220.4h1.3v1.3h-1.3zM485.3 220.2h1.3v1.3h-1.3zM410.8 222.7h1.3v1.3h-1.3zM456.6 222.6h1.3v1.3h-1.3zM470.2 222.8h1.3v1.3h-1.3zM496.7 222.3h1.3v1.3h-1.3zM428.6 224.7h1.3v1.3h-1.3zM437.1 225h1.3v1.3h-1.3zM439.2 224.7h1.3v1.3h-1.3zM459.3 224.7h1.3v1.3h-1.3zM479.2 224.6h1.3v1.3h-1.3zM470.2 227.4h1.3v1.3h-1.3zM478.6 226.9h1.3v1.3h-1.3zM421.5 229.4h1.3v1.3h-1.3zM432.7 229.6h1.3v1.3h-1.3zM441.7 229.7h1.3v1.3h-1.3zM437.2 232h1.3v1.3h-1.3zM432.4 234.3h1.3v1.3h-1.3zM480.9 234.3h1.3v1.3h-1.3zM408.6 236.2h1.3v1.3h-1.3zM424.1 236.1h1.3v1.3h-1.3zM434.8 236.1h1.3v1.3h-1.3zM439.1 236.2h1.3v1.3h-1.3zM496.6 236.6h1.3v1.3h-1.3zM410.7 241.2h1.3v1.3h-1.3zM430.8 240.8h1.3v1.3h-1.3zM443.8 240.8h1.3v1.3h-1.3zM446 240.8h1.3v1.3h-1.3zM448.2 240.8h1.3v1.3h-1.3zM454.6 240.7h1.3v1.3h-1.3zM468.2 241.2h1.3v1.3h-1.3zM474.4 240.9h1.3v1.3h-1.3zM430.2 243h1.3v1.3h-1.3zM406.6 245.7h1.3v1.3h-1.3zM443.9 245.3h1.3v1.3h-1.3zM470.1 249.9h1.3v1.3h-1.3zM445.7 254.8h1.3v1.3h-1.3z"/><path fill="#118cd2" d="M454.8 172h1.3v1.3h-1.3zM441.4 176.8h1.3v1.3h-1.3zM467.8 176.3h1.3v1.3h-1.3zM424 178.9h1.3v1.3h-1.3zM443.9 179h1.3v1.3h-1.3zM428.3 181.1h1.3v1.3h-1.3zM410.6 185.8h1.3v1.3h-1.3zM419.6 185.8h1.3v1.3h-1.3zM426.3 185.6h1.3v1.3h-1.3zM432.4 185.9h1.3v1.3h-1.3zM437.2 188.1h1.3v1.3h-1.3zM454.5 187.9h1.3v1.3h-1.3zM415 190.4h1.3v1.3h-1.3zM432.6 190.2h1.3v1.3h-1.3zM448.3 190.5h1.3v1.3h-1.3zM408.6 195.1h1.3v1.3h-1.3zM457.2 195.2h1.3v1.3h-1.3zM477 194.9h1.3v1.3h-1.3zM428.5 197.1h1.3v1.3h-1.3zM421.4 199.6h1.3v1.3h-1.3zM435.2 199.6h1.3v1.3h-1.3zM439.1 199.5h1.3v1.3h-1.3zM507.4 199.7h1.3v1.3h-1.3zM463.3 201.9h1.3v1.3h-1.3zM435 204.4h1.3v1.3h-1.3zM472.4 204h1.3v1.3h-1.3zM481.3 203.8h1.3v1.3h-1.3zM490.2 204.3h1.3v1.3h-1.3zM450.5 206.5h1.3v1.3h-1.3zM421.9 208.6h1.3v1.3h-1.3zM434.8 208.8h1.3v1.3h-1.3zM461.5 209h1.3v1.3h-1.3zM434.8 213.4h1.3v1.3h-1.3zM485.7 213.1h1.3v1.3h-1.3zM503.2 213.2h1.3v1.3h-1.3zM419.6 215.9h1.3v1.3h-1.3zM428.4 215.9h1.3v1.3h-1.3zM478.9 215.5h1.3v1.3h-1.3zM480.9 215.3h1.3v1.3h-1.3zM437 218h1.3v1.3h-1.3zM419.6 220.5h1.3v1.3h-1.3zM415.3 222.7h1.3v1.3h-1.3zM421.5 222.7h1.3v1.3h-1.3zM494.5 222.7h1.3v1.3h-1.3zM448.4 224.6h1.3v1.3h-1.3zM467.6 224.7h1.3v1.3h-1.3zM472.3 225.1h1.3v1.3h-1.3zM419.3 227.3h1.3v1.3h-1.3zM443.4 226.8h1.3v1.3h-1.3zM494.1 226.9h1.3v1.3h-1.3zM437.4 229.3h1.3v1.3h-1.3zM485.3 229.6h1.3v1.3h-1.3zM419.8 231.4h1.3v1.3h-1.3zM466 232h1.3v1.3h-1.3zM472.3 231.7h1.3v1.3h-1.3zM485.6 231.5h1.3v1.3h-1.3zM445.7 233.8h1.3v1.3h-1.3zM419.8 236.3h1.3v1.3h-1.3zM430.5 236.2h1.3v1.3h-1.3zM452.3 236.1h1.3v1.3h-1.3zM455 236.3h1.3v1.3h-1.3zM459.2 236h1.3v1.3h-1.3zM476.7 236.4h1.3v1.3h-1.3zM487.8 236.5h1.3v1.3h-1.3zM428.5 240.8h1.3v1.3h-1.3zM485.2 241h1.3v1.3h-1.3zM428.4 245.4h1.3v1.3h-1.3zM436.9 245.7h1.3v1.3h-1.3zM441.7 245.8h1.3v1.3h-1.3zM459.1 245.7h1.3v1.3h-1.3zM474.4 245.3h1.3v1.3h-1.3zM485.8 245.6h1.3v1.3h-1.3zM446.2 250.3h1.3v1.3h-1.3zM459.3 249.8h1.3v1.3h-1.3zM463.6 250h1.3v1.3h-1.3zM481.2 250.1h1.3v1.3h-1.3z"/><path fill="#0899d1" d="M470.1 171.7h1.3v1.3h-1.3zM458.8 176.5h1.3v1.3h-1.3zM428 178.9h1.3v1.3h-1.3zM459 181.3h1.3v1.3h-1.3zM463.4 185.8h1.3v1.3h-1.3zM465.7 185.6h1.3v1.3h-1.3zM410.4 190.3h1.3v1.3h-1.3zM450 190.2h1.3v1.3h-1.3zM468.1 192.5h1.3v1.3h-1.3zM472.2 192.5h1.3v1.3h-1.3zM461.6 195.1h1.3v1.3h-1.3zM465.7 195.1h1.3v1.3h-1.3zM469.8 197.4h1.3v1.3h-1.3zM485.8 197.2h1.3v1.3h-1.3zM489.7 197.1h1.3v1.3h-1.3zM417.3 199.7h1.3v1.3h-1.3zM448.2 199.4h1.3v1.3h-1.3zM456.9 199.3h1.3v1.3h-1.3zM494.2 199.7h1.3v1.3h-1.3zM428.3 201.5h1.3v1.3h-1.3zM458.8 202.1h1.3v1.3h-1.3zM465.9 204.2h1.3v1.3h-1.3zM467.7 204.1h1.3v1.3h-1.3zM408.7 208.7h1.3v1.3h-1.3zM443.6 208.5h1.3v1.3h-1.3zM463.6 208.9h1.3v1.3h-1.3zM467.6 208.4h1.3v1.3h-1.3zM476.5 208.4h1.3v1.3h-1.3zM401.6 213.4h1.3v1.3h-1.3zM424.1 213.2h1.3v1.3h-1.3zM454.9 213h1.3v1.3h-1.3zM466 213.4h1.3v1.3h-1.3zM463.5 215.6h1.3v1.3h-1.3zM441.8 220.2h1.3v1.3h-1.3zM461.6 222.5h1.3v1.3h-1.3zM419.7 225h1.3v1.3h-1.3zM450.3 224.5h1.3v1.3h-1.3zM463.3 224.7h1.3v1.3h-1.3zM454.8 227.2h1.3v1.3h-1.3zM472.2 227.3h1.3v1.3h-1.3zM487.8 231.5h1.3v1.3h-1.3zM467.6 233.9h1.3v1.3h-1.3zM485.4 236.2h1.3v1.3h-1.3zM430.4 245.5h1.3v1.3h-1.3zM450.4 245.5h1.3v1.3h-1.3zM436.9 249.9h1.3v1.3h-1.3z"/><path fill="#06a3cb" d="M408.3 172h1.3v1.3h-1.3zM463.7 171.7h1.3v1.3h-1.3zM450.2 176.5h1.3v1.3h-1.3zM439 178.8h1.3v1.3h-1.3zM436.8 181.2h1.3v1.3h-1.3zM463.4 180.9h1.3v1.3h-1.3zM445.7 186h1.3v1.3h-1.3zM450.4 185.7h1.3v1.3h-1.3zM455 185.8h1.3v1.3h-1.3zM450.5 187.8h1.3v1.3h-1.3zM419.6 190.1h1.3v1.3h-1.3zM436.9 190.3h1.3v1.3h-1.3zM446.1 190.2h1.3v1.3h-1.3zM454.9 190.5h1.3v1.3h-1.3zM430.3 192.4h1.3v1.3h-1.3zM419.3 194.7h1.3v1.3h-1.3zM432.7 194.9h1.3v1.3h-1.3zM448 194.8h1.3v1.3h-1.3zM458.8 195h1.3v1.3h-1.3zM494.1 194.8h1.3v1.3h-1.3zM417.3 197.1h1.3v1.3h-1.3zM434.7 197.2h1.3v1.3h-1.3zM443.9 197.4h1.3v1.3h-1.3zM461.2 197.1h1.3v1.3h-1.3zM472.4 197.3h1.3v1.3h-1.3zM465.6 199.3h1.3v1.3h-1.3zM443.9 204.3h1.3v1.3h-1.3zM448.2 208.8h1.3v1.3h-1.3zM490.1 208.8h1.3v1.3h-1.3zM410.4 213.3h1.3v1.3h-1.3zM417 213.1h1.3v1.3h-1.3zM461 213h1.3v1.3h-1.3zM463.2 213.5h1.3v1.3h-1.3zM489.6 213.1h1.3v1.3h-1.3zM445.9 215.8h1.3v1.3h-1.3zM472.3 219.9h1.3v1.3h-1.3zM468 222.4h1.3v1.3h-1.3zM488 222.5h1.3v1.3h-1.3zM489.8 222.6h1.3v1.3h-1.3zM503.4 222.6h1.3v1.3h-1.3zM421.9 226.9h1.3v1.3h-1.3zM441.4 227.3h1.3v1.3h-1.3zM458.9 226.9h1.3v1.3h-1.3zM445.8 229.6h1.3v1.3h-1.3zM459.2 229.5h1.3v1.3h-1.3zM467.7 232h1.3v1.3h-1.3zM474.4 231.7h1.3v1.3h-1.3zM443.6 236.6h1.3v1.3h-1.3zM461.2 236.6h1.3v1.3h-1.3zM474.5 236.1h1.3v1.3h-1.3zM494 236.4h1.3v1.3h-1.3zM437.3 240.9h1.3v1.3h-1.3zM461.4 241.1h1.3v1.3h-1.3zM441.2 243.2h1.3v1.3h-1.3zM450.1 254.7h1.3v1.3h-1.3z"/><path fill="#07aac1" d="M432.9 171.6h1.3v1.3h-1.3zM436.8 176.3h1.3v1.3h-1.3zM463.5 176.6h1.3v1.3h-1.3zM463.6 178.6h1.3v1.3h-1.3zM441.3 183.4h1.3v1.3h-1.3zM443.5 188.1h1.3v1.3h-1.3zM426.1 190.2h1.3v1.3h-1.3zM441.4 190.1h1.3v1.3h-1.3zM443.9 190.1h1.3v1.3h-1.3zM468 194.9h1.3v1.3h-1.3zM430.8 197.3h1.3v1.3h-1.3zM432.5 197h1.3v1.3h-1.3zM461 199.6h1.3v1.3h-1.3zM496.6 199.6h1.3v1.3h-1.3zM430.6 204.3h1.3v1.3h-1.3zM461.6 204.1h1.3v1.3h-1.3zM428.5 208.6h1.3v1.3h-1.3zM454.5 208.4h1.3v1.3h-1.3zM496.2 208.5h1.3v1.3h-1.3zM430.3 213.5h1.3v1.3h-1.3zM459.2 213.5h1.3v1.3h-1.3zM479.1 213.3h1.3v1.3h-1.3zM496.2 213.4h1.3v1.3h-1.3zM441.8 222.5h1.3v1.3h-1.3zM443.5 222.4h1.3v1.3h-1.3zM463.5 222.4h1.3v1.3h-1.3zM485.5 222.4h1.3v1.3h-1.3zM430.4 224.6h1.3v1.3h-1.3zM441.2 225h1.3v1.3h-1.3zM474.6 226.9h1.3v1.3h-1.3zM441.4 231.8h1.3v1.3h-1.3zM422 236h1.3v1.3h-1.3zM419.6 241.1h1.3v1.3h-1.3zM450 241.2h1.3v1.3h-1.3zM446 245.3h1.3v1.3h-1.3zM432.9 250h1.3v1.3h-1.3z"/><path fill="#14b0b5" d="M428.2 185.8h1.3v1.3h-1.3zM468 185.7h1.3v1.3h-1.3zM430.5 187.8h1.3v1.3h-1.3zM417.4 190.2h1.3v1.3h-1.3zM423.6 190h1.3v1.3h-1.3zM430.2 190.3h1.3v1.3h-1.3zM459 190.1h1.3v1.3h-1.3zM463.6 190.3h1.3v1.3h-1.3zM470.2 190.1h1.3v1.3h-1.3zM415.4 194.6h1.3v1.3h-1.3zM435 194.7h1.3v1.3h-1.3zM439.2 195.2h1.3v1.3h-1.3zM443.8 194.9h1.3v1.3h-1.3zM445.7 195.1h1.3v1.3h-1.3zM494.5 197h1.3v1.3h-1.3zM455 199.3h1.3v1.3h-1.3zM437.2 204.1h1.3v1.3h-1.3zM441.5 204h1.3v1.3h-1.3zM430.3 208.8h1.3v1.3h-1.3zM459.4 208.9h1.3v1.3h-1.3zM435 222.4h1.3v1.3h-1.3zM474.3 224.6h1.3v1.3h-1.3zM430.7 227.1h1.3v1.3h-1.3zM450 227.2h1.3v1.3h-1.3zM446 231.6h1.3v1.3h-1.3zM436.8 234.3h1.3v1.3h-1.3zM446 236.4h1.3v1.3h-1.3zM463.8 236.2h1.3v1.3h-1.3zM469.9 236.5h1.3v1.3h-1.3zM472.6 236.5h1.3v1.3h-1.3zM472.2 245.6h1.3v1.3h-1.3z"/><path fill="#27b5a8" d="M428.5 171.8h1.3v1.3h-1.3zM441.7 171.8h1.3v1.3h-1.3zM452.2 185.6h1.3v1.3h-1.3zM428.5 190.6h1.3v1.3h-1.3zM461 190.1h1.3v1.3h-1.3zM481 194.9h1.3v1.3h-1.3zM445.8 197.3h1.3v1.3h-1.3zM463.3 199.6h1.3v1.3h-1.3zM485.3 199.3h1.3v1.3h-1.3zM490.1 199.4h1.3v1.3h-1.3zM419.5 208.8h1.3v1.3h-1.3zM437.3 208.5h1.3v1.3h-1.3zM465.8 208.9h1.3v1.3h-1.3zM421.6 213.6h1.3v1.3h-1.3zM430.7 222.4h1.3v1.3h-1.3zM445.7 222.4h1.3v1.3h-1.3zM474.8 222.5h1.3v1.3h-1.3zM445.6 226.9h1.3v1.3h-1.3zM478.8 231.5h1.3v1.3h-1.3zM426.4 236.3h1.3v1.3h-1.3zM479.1 236h1.3v1.3h-1.3zM467.6 250.1h1.3v1.3h-1.3z"/><path fill="#3fba99" d="M414.8 172h1.3v1.3h-1.3zM446 172.1h1.3v1.3h-1.3zM465.4 172.1h1.3v1.3h-1.3zM423.8 185.9h1.3v1.3h-1.3zM436.8 185.8h1.3v1.3h-1.3zM452.4 190.1h1.3v1.3h-1.3zM423.9 194.7h1.3v1.3h-1.3zM428.3 194.8h1.3v1.3h-1.3zM450.4 194.6h1.3v1.3h-1.3zM490.2 195h1.3v1.3h-1.3zM421.5 197.3h1.3v1.3h-1.3zM467.7 197h1.3v1.3h-1.3zM476.9 196.9h1.3v1.3h-1.3zM458.8 199.3h1.3v1.3h-1.3zM478.9 199.7h1.3v1.3h-1.3zM487.4 199.4h1.3v1.3h-1.3zM428.3 204.1h1.3v1.3h-1.3zM481.1 208.8h1.3v1.3h-1.3zM428.4 213.2h1.3v1.3h-1.3zM437 222.4h1.3v1.3h-1.3zM465.7 222.4h1.3v1.3h-1.3zM456.9 236.3h1.3v1.3h-1.3z"/><path fill="#5cbe8a" d="M458.9 171.7h1.3v1.3h-1.3zM445.9 178.6h1.3v1.3h-1.3zM450.6 178.6h1.3v1.3h-1.3zM443.6 185.6h1.3v1.3h-1.3zM448 185.8h1.3v1.3h-1.3zM466 190.2h1.3v1.3h-1.3zM468.2 190.4h1.3v1.3h-1.3zM470.4 195.1h1.3v1.3h-1.3zM452.2 199.4h1.3v1.3h-1.3zM469.8 199.5h1.3v1.3h-1.3zM481.2 199.5h1.3v1.3h-1.3zM459.4 204.2h1.3v1.3h-1.3zM419.8 213.3h1.3v1.3h-1.3zM467.9 213.1h1.3v1.3h-1.3zM424.2 222.7h1.3v1.3h-1.3zM444 224.8h1.3v1.3h-1.3zM432.6 231.9h1.3v1.3h-1.3zM468.1 236.4h1.3v1.3h-1.3zM490.1 236.1h1.3v1.3h-1.3zM463.2 245.6h1.3v1.3h-1.3z"/><path fill="#7abf7c" d="M434.9 171.9h1.3v1.3h-1.3zM450.6 171.7h1.3v1.3h-1.3zM430.2 185.8h1.3v1.3h-1.3zM430.4 194.9h1.3v1.3h-1.3zM441.2 194.8h1.3v1.3h-1.3zM472.2 194.7h1.3v1.3h-1.3zM472.2 199.7h1.3v1.3h-1.3zM445.7 204.1h1.3v1.3h-1.3zM446.2 208.7h1.3v1.3h-1.3zM450.3 209h1.3v1.3h-1.3zM472.5 213.2h1.3v1.3h-1.3zM439.2 222.3h1.3v1.3h-1.3zM448.2 222.4h1.3v1.3h-1.3zM459.1 222.5h1.3v1.3h-1.3zM479 222.5h1.3v1.3h-1.3zM437.3 227h1.3v1.3h-1.3zM454.8 231.8h1.3v1.3h-1.3zM410.5 236.3h1.3v1.3h-1.3zM428.6 236.5h1.3v1.3h-1.3zM472.5 240.8h1.3v1.3h-1.3z"/><path fill="#95bf71" d="M430.3 172.1h1.3v1.3h-1.3zM436.9 172h1.3v1.3h-1.3zM443.6 171.8h1.3v1.3h-1.3zM467.9 171.8h1.3v1.3h-1.3zM441.4 185.8h1.3v1.3h-1.3zM410.6 195.1h1.3v1.3h-1.3zM421.7 195.1h1.3v1.3h-1.3zM437.4 195h1.3v1.3h-1.3zM452.6 194.7h1.3v1.3h-1.3zM454.7 194.9h1.3v1.3h-1.3zM463.8 194.7h1.3v1.3h-1.3zM474.5 194.6h1.3v1.3h-1.3zM478.6 194.6h1.3v1.3h-1.3zM485.2 195h1.3v1.3h-1.3zM437.1 196.9h1.3v1.3h-1.3zM441.2 197.5h1.3v1.3h-1.3zM450.2 197h1.3v1.3h-1.3zM458.8 197h1.3v1.3h-1.3zM474.8 197h1.3v1.3h-1.3zM419.2 199.2h1.3v1.3h-1.3zM423.8 199.2h1.3v1.3h-1.3zM426.4 199.2h1.3v1.3h-1.3zM428.2 199.6h1.3v1.3h-1.3zM430.5 199.5h1.3v1.3h-1.3zM432.6 199.8h1.3v1.3h-1.3zM437.3 199.7h1.3v1.3h-1.3zM441.6 199.2h1.3v1.3h-1.3zM443.8 199.5h1.3v1.3h-1.3zM445.7 199.7h1.3v1.3h-1.3zM450.1 199.8h1.3v1.3h-1.3zM467.6 199.5h1.3v1.3h-1.3zM474.5 199.6h1.3v1.3h-1.3zM476.9 199.8h1.3v1.3h-1.3zM450.1 204.1h1.3v1.3h-1.3zM424.1 208.5h1.3v1.3h-1.3zM432.8 208.7h1.3v1.3h-1.3zM441.7 208.9h1.3v1.3h-1.3zM469.8 208.6h1.3v1.3h-1.3zM472 208.8h1.3v1.3h-1.3zM474.5 208.8h1.3v1.3h-1.3zM478.9 208.6h1.3v1.3h-1.3zM432.4 213.2h1.3v1.3h-1.3zM437.3 213h1.3v1.3h-1.3zM441.6 213.2h1.3v1.3h-1.3zM443.6 213.5h1.3v1.3h-1.3zM445.7 213.2h1.3v1.3h-1.3zM448.2 213h1.3v1.3h-1.3zM450.5 213.2h1.3v1.3h-1.3zM474.7 213.4h1.3v1.3h-1.3zM494.2 213.4h1.3v1.3h-1.3zM419.6 222.2h1.3v1.3h-1.3zM428.6 222.6h1.3v1.3h-1.3zM432.4 222.7h1.3v1.3h-1.3zM450.2 222.3h1.3v1.3h-1.3zM454.5 222.4h1.3v1.3h-1.3zM472.1 222.5h1.3v1.3h-1.3zM481.4 222.6h1.3v1.3h-1.3zM450 232h1.3v1.3h-1.3zM432.5 236h1.3v1.3h-1.3zM436.9 236.3h1.3v1.3h-1.3zM441.7 236h1.3v1.3h-1.3zM448.1 236.4h1.3v1.3h-1.3zM450.5 236.1h1.3v1.3h-1.3zM481 236.5h1.3v1.3h-1.3z"/><polyline points="417.2,213.4 491,213.4" fill="none" stroke="#e3171c" stroke-width="1.4"/><rect x="474.2" y="152.9" width="41.4" height="37.3" fill="#fff" stroke="#5b9bd5" stroke-width=".8"/><path d="M475.2 187.2L475.8 187.3L476.3 187.1L476.9 187.2L477.4 186.9L478 185.5L478.5 183.6L479.1 186.7L479.6 182.7L480.2 185.7L480.7 181.6L481.3 185.2L481.8 174.1L482.4 185.8L482.9 171.5L483.5 183.6L484 178.1L484.6 183.4L485.1 173.7L485.7 184.1L486.2 172.3L486.8 181.7L487.3 168.8L487.9 186L488.4 166.2L489 180.4L489.5 169.8L490.1 185.3L490.6 167.8L491.2 178.5L491.7 156.3L492.3 180.9L492.8 157.1L493.4 179.1L493.9 166.8L494.5 186.4L495 161.4L495.6 181.9L496.1 167.5L496.7 185.2L497.2 167L497.8 182.9L498.3 170L498.9 184.6L499.4 167L500 179.6L500.5 165.4L501.1 184.9L501.6 171.5L502.2 183.6L502.7 173.4L503.3 185.8L503.8 169.8L504.4 186.7L504.9 171.8L505.5 185L506 170.9L506.6 183.2L507.1 173.5L507.7 184.1L508.2 178.6L508.8 184.8L509.3 180.7L509.9 185.7L510.4 182.5L511 186.4L511.5 187.1L512.1 187.3L512.6 187L513.2 187.3L513.7 187.2L514.3 187.3" fill="none" stroke="#ee8585" stroke-width=".3"/><rect x="520.3" y="152.8" width="7.8" height="109.4" fill="url(#cb)"/><text x="530.2" y="252.2" font-size="6" text-anchor="start" fill="#111">0.5</text><text x="530.2" y="240.2" font-size="6" text-anchor="start" fill="#111">1</text><text x="530.2" y="228.2" font-size="6" text-anchor="start" fill="#111">1.5</text><text x="530.2" y="216.2" font-size="6" text-anchor="start" fill="#111">2</text><text x="530.2" y="204.2" font-size="6" text-anchor="start" fill="#111">2.5</text><text x="530.2" y="192.2" font-size="6" text-anchor="start" fill="#111">3</text><text x="530.2" y="180.2" font-size="6" text-anchor="start" fill="#111">3.5</text><text x="530.2" y="168.2" font-size="6" text-anchor="start" fill="#111">4</text><text x="530.2" y="156.2" font-size="6" text-anchor="start" fill="#111">4.5</text><text x="529.5" y="150" font-size="6" text-anchor="start" fill="#111">×10<tspan dy="-2.3" font-size="4.2">9</tspan></text><text x="390" y="243" font-size="6.5" text-anchor="end" fill="#111">10</text><text x="416.3" y="270.8" font-size="6.5" text-anchor="middle" fill="#111">10</text><text x="390" y="221.4" font-size="6.5" text-anchor="end" fill="#111">20</text><text x="439.4" y="270.8" font-size="6.5" text-anchor="middle" fill="#111">20</text><text x="390" y="199.8" font-size="6.5" text-anchor="end" fill="#111">30</text><text x="462.5" y="270.8" font-size="6.5" text-anchor="middle" fill="#111">30</text><text x="390" y="178.2" font-size="6.5" text-anchor="end" fill="#111">40</text><text x="485.6" y="270.8" font-size="6.5" text-anchor="middle" fill="#111">40</text><text x="390" y="156.6" font-size="6.5" text-anchor="end" fill="#111">50</text><text x="508.7" y="270.8" font-size="6.5" text-anchor="middle" fill="#111">50</text><text x="380.9" y="207" font-size="7" text-anchor="middle" fill="#111" transform="rotate(-90 380.9 207)" textLength="25" lengthAdjust="spacingAndGlyphs">Y(mm)</text><text x="453.6" y="278.1" font-size="7" text-anchor="middle" fill="#111">X(mm)</text><text x="402.5" y="161.6" font-size="10.3" text-anchor="middle" fill="#fff">(f)</text></g><g id="panel-d"><polyline points="23.2,185 23.2,201.3 93.9,263.7 187.6,217.1" fill="none" stroke="#5a5a5a" stroke-width="0.5"/><polyline points="23.2,185 21.5,183.8" fill="none" stroke="#5a5a5a" stroke-width="0.5"/><polyline points="23.2,201.3 21.5,200.1" fill="none" stroke="#5a5a5a" stroke-width="0.5"/><polyline points="93.9,263.7 92.8,265.4" fill="none" stroke="#5a5a5a" stroke-width="0.5"/><polyline points="93.9,263.7 95.1,265.3" fill="none" stroke="#5a5a5a" stroke-width="0.5"/><polyline points="185.8,218 187,219.8" fill="none" stroke="#5a5a5a" stroke-width="0.5"/><polyline points="140.8,240.4 141.8,242" fill="none" stroke="#5a5a5a" stroke-width="0.5"/><polyline points="58.5,232.5 57.6,234.1" fill="none" stroke="#5a5a5a" stroke-width="0.5"/><g filter="url(#bl)"><polygon points="95,256.7 180.1,216.2 115.8,161.5 30.8,201.9" fill="#1484d4"/><g transform="scale(.1)" stroke-width="3" stroke-linejoin="round"><use href="#s7k" x="1105" y="1716" clip-path="url(#k7)"/><use href="#s7j" x="1115" y="1716" clip-path="url(#k7)"/><use href="#s7i" x="1124" y="1716" clip-path="url(#k7)"/><use href="#s7h" x="1134" y="1716" clip-path="url(#k7)"/><use href="#s7g" x="1143" y="1716" clip-path="url(#k7)"/><use href="#s7f" x="1153" y="1716" clip-path="url(#k7)"/><use href="#s7e" x="1162" y="1716" clip-path="url(#k7)"/><use href="#s7d" x="1172" y="1716" clip-path="url(#k7)"/><use href="#s7c" x="1182" y="1716" clip-path="url(#k7)"/><use href="#s7b" x="1191" y="1716" clip-path="url(#k7)"/><use href="#s7a" x="1201" y="1716" clip-path="url(#k7)"/><use href="#s7k" x="983" y="1773" clip-path="url(#k6)"/><use href="#s7j" x="993" y="1773" clip-path="url(#k6)"/><use href="#s7i" x="1002" y="1773" clip-path="url(#k6)"/><use href="#s7h" x="1012" y="1773" clip-path="url(#k6)"/><use href="#s7g" x="1022" y="1773" clip-path="url(#k6)"/><use href="#s7f" x="1031" y="1773" clip-path="url(#k6)"/><use href="#s7e" x="1041" y="1773" clip-path="url(#k6)"/><use href="#s7d" x="1050" y="1773" clip-path="url(#k6)"/><use href="#s7c" x="1060" y="1773" clip-path="url(#k6)"/><use href="#s7b" x="1069" y="1773" clip-path="url(#k6)"/><use href="#s7a" x="1079" y="1773" clip-path="url(#k6)"/><use href="#s7k" x="868" y="1827" clip-path="url(#k5)"/><use href="#s7j" x="877" y="1827" clip-path="url(#k5)"/><use href="#s7i" x="887" y="1827" clip-path="url(#k5)"/><use href="#s7h" x="896" y="1827" clip-path="url(#k5)"/><use href="#s7g" x="906" y="1827" clip-path="url(#k5)"/><use href="#s7f" x="915" y="1827" clip-path="url(#k5)"/><use href="#s7e" x="925" y="1827" clip-path="url(#k5)"/><use href="#s7d" x="935" y="1827" clip-path="url(#k5)"/><use href="#s7c" x="944" y="1827" clip-path="url(#k5)"/><use href="#s7b" x="954" y="1827" clip-path="url(#k5)"/><use href="#s7a" x="963" y="1827" clip-path="url(#k5)"/><use href="#s7k" x="752" y="1881" clip-path="url(#k4)"/><use href="#s7j" x="762" y="1881" clip-path="url(#k4)"/><use href="#s7i" x="771" y="1881" clip-path="url(#k4)"/><use href="#s7h" x="781" y="1881" clip-path="url(#k4)"/><use href="#s7g" x="790" y="1881" clip-path="url(#k4)"/><use href="#s7f" x="800" y="1881" clip-path="url(#k4)"/><use href="#s7e" x="809" y="1881" clip-path="url(#k4)"/><use href="#s7d" x="819" y="1881" clip-path="url(#k4)"/><use href="#s7c" x="829" y="1881" clip-path="url(#k4)"/><use href="#s7b" x="838" y="1881" clip-path="url(#k4)"/><use href="#s7a" x="848" y="1881" clip-path="url(#k4)"/><use href="#s7k" x="634" y="1936" clip-path="url(#k3)"/><use href="#s7j" x="644" y="1936" clip-path="url(#k3)"/><use href="#s7i" x="653" y="1936" clip-path="url(#k3)"/><use href="#s7h" x="663" y="1936" clip-path="url(#k3)"/><use href="#s7g" x="672" y="1936" clip-path="url(#k3)"/><use href="#s7f" x="682" y="1936" clip-path="url(#k3)"/><use href="#s7e" x="692" y="1936" clip-path="url(#k3)"/><use href="#s7d" x="701" y="1936" clip-path="url(#k3)"/><use href="#s7c" x="711" y="1936" clip-path="url(#k3)"/><use href="#s7b" x="720" y="1936" clip-path="url(#k3)"/><use href="#s7a" x="730" y="1936" clip-path="url(#k3)"/><use href="#s7k" x="520" y="1990" clip-path="url(#k2)"/><use href="#s7j" x="529" y="1990" clip-path="url(#k2)"/><use href="#s7i" x="539" y="1990" clip-path="url(#k2)"/><use href="#s7h" x="548" y="1990" clip-path="url(#k2)"/><use href="#s7g" x="558" y="1990" clip-path="url(#k2)"/><use href="#s7f" x="568" y="1990" clip-path="url(#k2)"/><use href="#s7e" x="577" y="1990" clip-path="url(#k2)"/><use href="#s7d" x="587" y="1990" clip-path="url(#k2)"/><use href="#s7c" x="596" y="1990" clip-path="url(#k2)"/><use href="#s7b" x="606" y="1990" clip-path="url(#k2)"/><use href="#s7a" x="616" y="1990" clip-path="url(#k2)"/><use href="#s7k" x="414" y="2039" clip-path="url(#k1)"/><use href="#s7j" x="423" y="2039" clip-path="url(#k1)"/><use href="#s7i" x="433" y="2039" clip-path="url(#k1)"/><use href="#s7h" x="443" y="2039" clip-path="url(#k1)"/><use href="#s7g" x="452" y="2039" clip-path="url(#k1)"/><use href="#s7f" x="462" y="2039" clip-path="url(#k1)"/><use href="#s7e" x="471" y="2039" clip-path="url(#k1)"/><use href="#s7d" x="481" y="2039" clip-path="url(#k1)"/><use href="#s7c" x="491" y="2039" clip-path="url(#k1)"/><use href="#s7b" x="500" y="2039" clip-path="url(#k1)"/><use href="#s7a" x="510" y="2039" clip-path="url(#k1)"/><use href="#s7k" x="318" y="2084" clip-path="url(#k0)"/><use href="#s7j" x="328" y="2084" clip-path="url(#k0)"/><use href="#s7i" x="337" y="2084" clip-path="url(#k0)"/><use href="#s7h" x="347" y="2084" clip-path="url(#k0)"/><use href="#s7g" x="356" y="2084" clip-path="url(#k0)"/><use href="#s7f" x="366" y="2084" clip-path="url(#k0)"/><use href="#s7e" x="375" y="2084" clip-path="url(#k0)"/><use href="#s7d" x="385" y="2084" clip-path="url(#k0)"/><use href="#s7c" x="395" y="2084" clip-path="url(#k0)"/><use href="#s7b" x="404" y="2084" clip-path="url(#k0)"/><use href="#s7a" x="414" y="2084" clip-path="url(#k0)"/><use href="#s6k" x="1210" y="1801" clip-path="url(#k7)"/><use href="#s6j" x="1219" y="1801" clip-path="url(#k7)"/><use href="#s6i" x="1228" y="1801" clip-path="url(#k7)"/><use href="#s6h" x="1237" y="1801" clip-path="url(#k7)"/><use href="#s6g" x="1246" y="1801" clip-path="url(#k7)"/><use href="#s6f" x="1255" y="1801" clip-path="url(#k7)"/><use href="#s6e" x="1264" y="1801" clip-path="url(#k7)"/><use href="#s6d" x="1273" y="1801" clip-path="url(#k7)"/><use href="#s6c" x="1282" y="1801" clip-path="url(#k7)"/><use href="#s6b" x="1291" y="1801" clip-path="url(#k7)"/><use href="#s6a" x="1300" y="1801" clip-path="url(#k7)"/><use href="#s6k" x="1088" y="1858" clip-path="url(#k6)"/><use href="#s6j" x="1097" y="1858" clip-path="url(#k6)"/><use href="#s6i" x="1106" y="1858" clip-path="url(#k6)"/><use href="#s6h" x="1115" y="1858" clip-path="url(#k6)"/><use href="#s6g" x="1124" y="1858" clip-path="url(#k6)"/><use href="#s6f" x="1133" y="1858" clip-path="url(#k6)"/><use href="#s6e" x="1142" y="1858" clip-path="url(#k6)"/><use href="#s6d" x="1151" y="1858" clip-path="url(#k6)"/><use href="#s6c" x="1160" y="1858" clip-path="url(#k6)"/><use href="#s6b" x="1169" y="1858" clip-path="url(#k6)"/><use href="#s6a" x="1178" y="1858" clip-path="url(#k6)"/><use href="#s6k" x="973" y="1912" clip-path="url(#k5)"/><use href="#s6j" x="982" y="1912" clip-path="url(#k5)"/><use href="#s6i" x="991" y="1912" clip-path="url(#k5)"/><use href="#s6h" x="1000" y="1912" clip-path="url(#k5)"/><use href="#s6g" x="1009" y="1912" clip-path="url(#k5)"/><use href="#s6f" x="1018" y="1912" clip-path="url(#k5)"/><use href="#s6e" x="1027" y="1912" clip-path="url(#k5)"/><use href="#s6d" x="1036" y="1912" clip-path="url(#k5)"/><use href="#s6c" x="1045" y="1912" clip-path="url(#k5)"/><use href="#s6b" x="1054" y="1912" clip-path="url(#k5)"/><use href="#s6a" x="1063" y="1912" clip-path="url(#k5)"/><use href="#s6k" x="857" y="1966" clip-path="url(#k4)"/><use href="#s6j" x="866" y="1966" clip-path="url(#k4)"/><use href="#s6i" x="875" y="1966" clip-path="url(#k4)"/><use href="#s6h" x="884" y="1966" clip-path="url(#k4)"/><use href="#s6g" x="893" y="1966" clip-path="url(#k4)"/><use href="#s6f" x="902" y="1966" clip-path="url(#k4)"/><use href="#s6e" x="911" y="1966" clip-path="url(#k4)"/><use href="#s6d" x="920" y="1966" clip-path="url(#k4)"/><use href="#s6c" x="929" y="1966" clip-path="url(#k4)"/><use href="#s6b" x="938" y="1966" clip-path="url(#k4)"/><use href="#s6a" x="947" y="1966" clip-path="url(#k4)"/><use href="#s6k" x="739" y="2021" clip-path="url(#k3)"/><use href="#s6j" x="748" y="2021" clip-path="url(#k3)"/><use href="#s6i" x="757" y="2021" clip-path="url(#k3)"/><use href="#s6h" x="766" y="2021" clip-path="url(#k3)"/><use href="#s6g" x="775" y="2021" clip-path="url(#k3)"/><use href="#s6f" x="784" y="2021" clip-path="url(#k3)"/><use href="#s6e" x="793" y="2021" clip-path="url(#k3)"/><use href="#s6d" x="802" y="2021" clip-path="url(#k3)"/><use href="#s6c" x="811" y="2021" clip-path="url(#k3)"/><use href="#s6b" x="820" y="2021" clip-path="url(#k3)"/><use href="#s6a" x="829" y="2021" clip-path="url(#k3)"/><use href="#s6k" x="625" y="2075" clip-path="url(#k2)"/><use href="#s6j" x="634" y="2075" clip-path="url(#k2)"/><use href="#s6i" x="643" y="2075" clip-path="url(#k2)"/><use href="#s6h" x="652" y="2075" clip-path="url(#k2)"/><use href="#s6g" x="661" y="2075" clip-path="url(#k2)"/><use href="#s6f" x="670" y="2075" clip-path="url(#k2)"/><use href="#s6e" x="679" y="2075" clip-path="url(#k2)"/><use href="#s6d" x="688" y="2075" clip-path="url(#k2)"/><use href="#s6c" x="697" y="2075" clip-path="url(#k2)"/><use href="#s6b" x="706" y="2075" clip-path="url(#k2)"/><use href="#s6a" x="715" y="2075" clip-path="url(#k2)"/><use href="#s6k" x="519" y="2124" clip-path="url(#k1)"/><use href="#s6j" x="528" y="2124" clip-path="url(#k1)"/><use href="#s6i" x="537" y="2124" clip-path="url(#k1)"/><use href="#s6h" x="546" y="2124" clip-path="url(#k1)"/><use href="#s6g" x="555" y="2124" clip-path="url(#k1)"/><use href="#s6f" x="564" y="2124" clip-path="url(#k1)"/><use href="#s6e" x="573" y="2124" clip-path="url(#k1)"/><use href="#s6d" x="582" y="2124" clip-path="url(#k1)"/><use href="#s6c" x="591" y="2124" clip-path="url(#k1)"/><use href="#s6b" x="600" y="2124" clip-path="url(#k1)"/><use href="#s6a" x="609" y="2124" clip-path="url(#k1)"/><use href="#s6k" x="423" y="2169" clip-path="url(#k0)"/><use href="#s6j" x="432" y="2169" clip-path="url(#k0)"/><use href="#s6i" x="441" y="2169" clip-path="url(#k0)"/><use href="#s6h" x="450" y="2169" clip-path="url(#k0)"/><use href="#s6g" x="459" y="2169" clip-path="url(#k0)"/><use href="#s6f" x="468" y="2169" clip-path="url(#k0)"/><use href="#s6e" x="477" y="2169" clip-path="url(#k0)"/><use href="#s6d" x="486" y="2169" clip-path="url(#k0)"/><use href="#s6c" x="495" y="2169" clip-path="url(#k0)"/><use href="#s6b" x="504" y="2169" clip-path="url(#k0)"/><use href="#s6a" x="513" y="2169" clip-path="url(#k0)"/><use href="#s5k" x="1309" y="1883" clip-path="url(#k7)"/><use href="#s5j" x="1318" y="1883" clip-path="url(#k7)"/><use href="#s5i" x="1327" y="1883" clip-path="url(#k7)"/><use href="#s5h" x="1336" y="1883" clip-path="url(#k7)"/><use href="#s5g" x="1345" y="1883" clip-path="url(#k7)"/><use href="#s5f" x="1354" y="1883" clip-path="url(#k7)"/><use href="#s5e" x="1363" y="1883" clip-path="url(#k7)"/><use href="#s5d" x="1372" y="1883" clip-path="url(#k7)"/><use href="#s5c" x="1381" y="1883" clip-path="url(#k7)"/><use href="#s5b" x="1390" y="1883" clip-path="url(#k7)"/><use href="#s5a" x="1399" y="1883" clip-path="url(#k7)"/><use href="#s5k" x="1187" y="1940" clip-path="url(#k6)"/><use href="#s5j" x="1196" y="1940" clip-path="url(#k6)"/><use href="#s5i" x="1205" y="1940" clip-path="url(#k6)"/><use href="#s5h" x="1214" y="1940" clip-path="url(#k6)"/><use href="#s5g" x="1223" y="1940" clip-path="url(#k6)"/><use href="#s5f" x="1232" y="1940" clip-path="url(#k6)"/><use href="#s5e" x="1241" y="1940" clip-path="url(#k6)"/><use href="#s5d" x="1251" y="1940" clip-path="url(#k6)"/><use href="#s5c" x="1260" y="1940" clip-path="url(#k6)"/><use href="#s5b" x="1269" y="1940" clip-path="url(#k6)"/><use href="#s5a" x="1278" y="1940" clip-path="url(#k6)"/><use href="#s5k" x="1072" y="1994" clip-path="url(#k5)"/><use href="#s5j" x="1081" y="1994" clip-path="url(#k5)"/><use href="#s5i" x="1090" y="1994" clip-path="url(#k5)"/><use href="#s5h" x="1099" y="1994" clip-path="url(#k5)"/><use href="#s5g" x="1108" y="1994" clip-path="url(#k5)"/><use href="#s5f" x="1117" y="1994" clip-path="url(#k5)"/><use href="#s5e" x="1126" y="1994" clip-path="url(#k5)"/><use href="#s5d" x="1135" y="1994" clip-path="url(#k5)"/><use href="#s5c" x="1144" y="1994" clip-path="url(#k5)"/><use href="#s5b" x="1153" y="1994" clip-path="url(#k5)"/><use href="#s5a" x="1162" y="1994" clip-path="url(#k5)"/><use href="#s5k" x="956" y="2048" clip-path="url(#k4)"/><use href="#s5j" x="965" y="2048" clip-path="url(#k4)"/><use href="#s5i" x="974" y="2048" clip-path="url(#k4)"/><use href="#s5h" x="983" y="2048" clip-path="url(#k4)"/><use href="#s5g" x="992" y="2048" clip-path="url(#k4)"/><use href="#s5f" x="1001" y="2048" clip-path="url(#k4)"/><use href="#s5e" x="1010" y="2048" clip-path="url(#k4)"/><use href="#s5d" x="1019" y="2048" clip-path="url(#k4)"/><use href="#s5c" x="1028" y="2048" clip-path="url(#k4)"/><use href="#s5b" x="1037" y="2048" clip-path="url(#k4)"/><use href="#s5a" x="1046" y="2048" clip-path="url(#k4)"/><use href="#s5k" x="838" y="2104" clip-path="url(#k3)"/><use href="#s5j" x="847" y="2104" clip-path="url(#k3)"/><use href="#s5i" x="856" y="2104" clip-path="url(#k3)"/><use href="#s5h" x="865" y="2104" clip-path="url(#k3)"/><use href="#s5g" x="874" y="2104" clip-path="url(#k3)"/><use href="#s5f" x="883" y="2104" clip-path="url(#k3)"/><use href="#s5e" x="892" y="2104" clip-path="url(#k3)"/><use href="#s5d" x="901" y="2104" clip-path="url(#k3)"/><use href="#s5c" x="910" y="2104" clip-path="url(#k3)"/><use href="#s5b" x="919" y="2104" clip-path="url(#k3)"/><use href="#s5a" x="928" y="2104" clip-path="url(#k3)"/><use href="#s5k" x="724" y="2157" clip-path="url(#k2)"/><use href="#s5j" x="733" y="2157" clip-path="url(#k2)"/><use href="#s5i" x="742" y="2157" clip-path="url(#k2)"/><use href="#s5h" x="751" y="2157" clip-path="url(#k2)"/><use href="#s5g" x="760" y="2157" clip-path="url(#k2)"/><use href="#s5f" x="769" y="2157" clip-path="url(#k2)"/><use href="#s5e" x="778" y="2157" clip-path="url(#k2)"/><use href="#s5d" x="787" y="2157" clip-path="url(#k2)"/><use href="#s5c" x="796" y="2157" clip-path="url(#k2)"/><use href="#s5b" x="805" y="2157" clip-path="url(#k2)"/><use href="#s5a" x="814" y="2157" clip-path="url(#k2)"/><use href="#s5k" x="618" y="2207" clip-path="url(#k1)"/><use href="#s5j" x="627" y="2207" clip-path="url(#k1)"/><use href="#s5i" x="636" y="2207" clip-path="url(#k1)"/><use href="#s5h" x="645" y="2207" clip-path="url(#k1)"/><use href="#s5g" x="654" y="2207" clip-path="url(#k1)"/><use href="#s5f" x="663" y="2207" clip-path="url(#k1)"/><use href="#s5e" x="672" y="2207" clip-path="url(#k1)"/><use href="#s5d" x="681" y="2207" clip-path="url(#k1)"/><use href="#s5c" x="690" y="2207" clip-path="url(#k1)"/><use href="#s5b" x="699" y="2207" clip-path="url(#k1)"/><use href="#s5a" x="708" y="2207" clip-path="url(#k1)"/><use href="#s5k" x="522" y="2251" clip-path="url(#k0)"/><use href="#s5j" x="531" y="2251" clip-path="url(#k0)"/><use href="#s5i" x="540" y="2251" clip-path="url(#k0)"/><use href="#s5h" x="549" y="2251" clip-path="url(#k0)"/><use href="#s5g" x="558" y="2251" clip-path="url(#k0)"/><use href="#s5f" x="567" y="2251" clip-path="url(#k0)"/><use href="#s5e" x="576" y="2251" clip-path="url(#k0)"/><use href="#s5d" x="585" y="2251" clip-path="url(#k0)"/><use href="#s5c" x="594" y="2251" clip-path="url(#k0)"/><use href="#s5b" x="603" y="2251" clip-path="url(#k0)"/><use href="#s5a" x="612" y="2251" clip-path="url(#k0)"/><use href="#s4k" x="1408" y="1960" clip-path="url(#k7)"/><use href="#s4j" x="1415" y="1960" clip-path="url(#k7)"/><use href="#s4i" x="1423" y="1960" clip-path="url(#k7)"/><use href="#s4h" x="1431" y="1960" clip-path="url(#k7)"/><use href="#s4g" x="1439" y="1960" clip-path="url(#k7)"/><use href="#s4f" x="1446" y="1960" clip-path="url(#k7)"/><use href="#s4e" x="1454" y="1960" clip-path="url(#k7)"/><use href="#s4d" x="1462" y="1960" clip-path="url(#k7)"/><use href="#s4c" x="1469" y="1960" clip-path="url(#k7)"/><use href="#s4b" x="1477" y="1960" clip-path="url(#k7)"/><use href="#s4a" x="1485" y="1960" clip-path="url(#k7)"/><use href="#s4k" x="1286" y="2017" clip-path="url(#k6)"/><use href="#s4j" x="1294" y="2017" clip-path="url(#k6)"/><use href="#s4i" x="1301" y="2017" clip-path="url(#k6)"/><use href="#s4h" x="1309" y="2017" clip-path="url(#k6)"/><use href="#s4g" x="1317" y="2017" clip-path="url(#k6)"/><use href="#s4f" x="1325" y="2017" clip-path="url(#k6)"/><use href="#s4e" x="1332" y="2017" clip-path="url(#k6)"/><use href="#s4d" x="1340" y="2017" clip-path="url(#k6)"/><use href="#s4c" x="1348" y="2017" clip-path="url(#k6)"/><use href="#s4b" x="1355" y="2017" clip-path="url(#k6)"/><use href="#s4a" x="1363" y="2017" clip-path="url(#k6)"/><use href="#s4k" x="1170" y="2071" clip-path="url(#k5)"/><use href="#s4j" x="1178" y="2071" clip-path="url(#k5)"/><use href="#s4i" x="1186" y="2071" clip-path="url(#k5)"/><use href="#s4h" x="1193" y="2071" clip-path="url(#k5)"/><use href="#s4g" x="1201" y="2071" clip-path="url(#k5)"/><use href="#s4f" x="1209" y="2071" clip-path="url(#k5)"/><use href="#s4e" x="1217" y="2071" clip-path="url(#k5)"/><use href="#s4d" x="1224" y="2071" clip-path="url(#k5)"/><use href="#s4c" x="1232" y="2071" clip-path="url(#k5)"/><use href="#s4b" x="1240" y="2071" clip-path="url(#k5)"/><use href="#s4a" x="1247" y="2071" clip-path="url(#k5)"/><use href="#s4k" x="1055" y="2125" clip-path="url(#k4)"/><use href="#s4j" x="1062" y="2125" clip-path="url(#k4)"/><use href="#s4i" x="1070" y="2125" clip-path="url(#k4)"/><use href="#s4h" x="1078" y="2125" clip-path="url(#k4)"/><use href="#s4g" x="1086" y="2125" clip-path="url(#k4)"/><use href="#s4f" x="1093" y="2125" clip-path="url(#k4)"/><use href="#s4e" x="1101" y="2125" clip-path="url(#k4)"/><use href="#s4d" x="1109" y="2125" clip-path="url(#k4)"/><use href="#s4c" x="1116" y="2125" clip-path="url(#k4)"/><use href="#s4b" x="1124" y="2125" clip-path="url(#k4)"/><use href="#s4a" x="1132" y="2125" clip-path="url(#k4)"/><use href="#s4k" x="937" y="2180" clip-path="url(#k3)"/><use href="#s4j" x="945" y="2180" clip-path="url(#k3)"/><use href="#s4i" x="952" y="2180" clip-path="url(#k3)"/><use href="#s4h" x="960" y="2180" clip-path="url(#k3)"/><use href="#s4g" x="968" y="2180" clip-path="url(#k3)"/><use href="#s4f" x="975" y="2180" clip-path="url(#k3)"/><use href="#s4e" x="983" y="2180" clip-path="url(#k3)"/><use href="#s4d" x="991" y="2180" clip-path="url(#k3)"/><use href="#s4c" x="999" y="2180" clip-path="url(#k3)"/><use href="#s4b" x="1006" y="2180" clip-path="url(#k3)"/><use href="#s4a" x="1014" y="2180" clip-path="url(#k3)"/><use href="#s4k" x="823" y="2234" clip-path="url(#k2)"/><use href="#s4j" x="830" y="2234" clip-path="url(#k2)"/><use href="#s4i" x="838" y="2234" clip-path="url(#k2)"/><use href="#s4h" x="846" y="2234" clip-path="url(#k2)"/><use href="#s4g" x="853" y="2234" clip-path="url(#k2)"/><use href="#s4f" x="861" y="2234" clip-path="url(#k2)"/><use href="#s4e" x="869" y="2234" clip-path="url(#k2)"/><use href="#s4d" x="877" y="2234" clip-path="url(#k2)"/><use href="#s4c" x="884" y="2234" clip-path="url(#k2)"/><use href="#s4b" x="892" y="2234" clip-path="url(#k2)"/><use href="#s4a" x="900" y="2234" clip-path="url(#k2)"/><use href="#s4k" x="717" y="2283" clip-path="url(#k1)"/><use href="#s4j" x="724" y="2283" clip-path="url(#k1)"/><use href="#s4i" x="732" y="2283" clip-path="url(#k1)"/><use href="#s4h" x="740" y="2283" clip-path="url(#k1)"/><use href="#s4g" x="747" y="2283" clip-path="url(#k1)"/><use href="#s4f" x="755" y="2283" clip-path="url(#k1)"/><use href="#s4e" x="763" y="2283" clip-path="url(#k1)"/><use href="#s4d" x="771" y="2283" clip-path="url(#k1)"/><use href="#s4c" x="778" y="2283" clip-path="url(#k1)"/><use href="#s4b" x="786" y="2283" clip-path="url(#k1)"/><use href="#s4a" x="794" y="2283" clip-path="url(#k1)"/><use href="#s4k" x="621" y="2328" clip-path="url(#k0)"/><use href="#s4j" x="628" y="2328" clip-path="url(#k0)"/><use href="#s4i" x="636" y="2328" clip-path="url(#k0)"/><use href="#s4h" x="644" y="2328" clip-path="url(#k0)"/><use href="#s4g" x="652" y="2328" clip-path="url(#k0)"/><use href="#s4f" x="659" y="2328" clip-path="url(#k0)"/><use href="#s4e" x="667" y="2328" clip-path="url(#k0)"/><use href="#s4d" x="675" y="2328" clip-path="url(#k0)"/><use href="#s4c" x="682" y="2328" clip-path="url(#k0)"/><use href="#s4b" x="690" y="2328" clip-path="url(#k0)"/><use href="#s4a" x="698" y="2328" clip-path="url(#k0)"/><use href="#s3k" x="1492" y="2027" clip-path="url(#k7)"/><use href="#s3j" x="1499" y="2027" clip-path="url(#k7)"/><use href="#s3i" x="1506" y="2027" clip-path="url(#k7)"/><use href="#s3h" x="1513" y="2027" clip-path="url(#k7)"/><use href="#s3g" x="1520" y="2027" clip-path="url(#k7)"/><use href="#s3f" x="1527" y="2027" clip-path="url(#k7)"/><use href="#s3e" x="1534" y="2027" clip-path="url(#k7)"/><use href="#s3d" x="1541" y="2027" clip-path="url(#k7)"/><use href="#s3c" x="1548" y="2027" clip-path="url(#k7)"/><use href="#s3b" x="1555" y="2027" clip-path="url(#k7)"/><use href="#s3a" x="1561" y="2027" clip-path="url(#k7)"/><use href="#s3k" x="1370" y="2084" clip-path="url(#k6)"/><use href="#s3j" x="1377" y="2084" clip-path="url(#k6)"/><use href="#s3i" x="1384" y="2084" clip-path="url(#k6)"/><use href="#s3h" x="1391" y="2084" clip-path="url(#k6)"/><use href="#s3g" x="1398" y="2084" clip-path="url(#k6)"/><use href="#s3f" x="1405" y="2084" clip-path="url(#k6)"/><use href="#s3e" x="1412" y="2084" clip-path="url(#k6)"/><use href="#s3d" x="1419" y="2084" clip-path="url(#k6)"/><use href="#s3c" x="1426" y="2084" clip-path="url(#k6)"/><use href="#s3b" x="1433" y="2084" clip-path="url(#k6)"/><use href="#s3a" x="1440" y="2084" clip-path="url(#k6)"/><use href="#s3k" x="1255" y="2138" clip-path="url(#k5)"/><use href="#s3j" x="1262" y="2138" clip-path="url(#k5)"/><use href="#s3i" x="1269" y="2138" clip-path="url(#k5)"/><use href="#s3h" x="1276" y="2138" clip-path="url(#k5)"/><use href="#s3g" x="1283" y="2138" clip-path="url(#k5)"/><use href="#s3f" x="1289" y="2138" clip-path="url(#k5)"/><use href="#s3e" x="1296" y="2138" clip-path="url(#k5)"/><use href="#s3d" x="1303" y="2138" clip-path="url(#k5)"/><use href="#s3c" x="1310" y="2138" clip-path="url(#k5)"/><use href="#s3b" x="1317" y="2138" clip-path="url(#k5)"/><use href="#s3a" x="1324" y="2138" clip-path="url(#k5)"/><use href="#s3k" x="1139" y="2192" clip-path="url(#k4)"/><use href="#s3j" x="1146" y="2192" clip-path="url(#k4)"/><use href="#s3i" x="1153" y="2192" clip-path="url(#k4)"/><use href="#s3h" x="1160" y="2192" clip-path="url(#k4)"/><use href="#s3g" x="1167" y="2192" clip-path="url(#k4)"/><use href="#s3f" x="1174" y="2192" clip-path="url(#k4)"/><use href="#s3e" x="1181" y="2192" clip-path="url(#k4)"/><use href="#s3d" x="1188" y="2192" clip-path="url(#k4)"/><use href="#s3c" x="1195" y="2192" clip-path="url(#k4)"/><use href="#s3b" x="1201" y="2192" clip-path="url(#k4)"/><use href="#s3a" x="1208" y="2192" clip-path="url(#k4)"/><use href="#s3k" x="1021" y="2247" clip-path="url(#k3)"/><use href="#s3j" x="1028" y="2247" clip-path="url(#k3)"/><use href="#s3i" x="1035" y="2247" clip-path="url(#k3)"/><use href="#s3h" x="1042" y="2247" clip-path="url(#k3)"/><use href="#s3g" x="1049" y="2247" clip-path="url(#k3)"/><use href="#s3f" x="1056" y="2247" clip-path="url(#k3)"/><use href="#s3e" x="1063" y="2247" clip-path="url(#k3)"/><use href="#s3d" x="1070" y="2247" clip-path="url(#k3)"/><use href="#s3c" x="1077" y="2247" clip-path="url(#k3)"/><use href="#s3b" x="1084" y="2247" clip-path="url(#k3)"/><use href="#s3a" x="1091" y="2247" clip-path="url(#k3)"/><use href="#s3k" x="907" y="2301" clip-path="url(#k2)"/><use href="#s3j" x="914" y="2301" clip-path="url(#k2)"/><use href="#s3i" x="921" y="2301" clip-path="url(#k2)"/><use href="#s3h" x="928" y="2301" clip-path="url(#k2)"/><use href="#s3g" x="935" y="2301" clip-path="url(#k2)"/><use href="#s3f" x="942" y="2301" clip-path="url(#k2)"/><use href="#s3e" x="949" y="2301" clip-path="url(#k2)"/><use href="#s3d" x="955" y="2301" clip-path="url(#k2)"/><use href="#s3c" x="962" y="2301" clip-path="url(#k2)"/><use href="#s3b" x="969" y="2301" clip-path="url(#k2)"/><use href="#s3a" x="976" y="2301" clip-path="url(#k2)"/><use href="#s3k" x="801" y="2350" clip-path="url(#k1)"/><use href="#s3j" x="808" y="2350" clip-path="url(#k1)"/><use href="#s3i" x="815" y="2350" clip-path="url(#k1)"/><use href="#s3h" x="822" y="2350" clip-path="url(#k1)"/><use href="#s3g" x="829" y="2350" clip-path="url(#k1)"/><use href="#s3f" x="836" y="2350" clip-path="url(#k1)"/><use href="#s3e" x="843" y="2350" clip-path="url(#k1)"/><use href="#s3d" x="850" y="2350" clip-path="url(#k1)"/><use href="#s3c" x="856" y="2350" clip-path="url(#k1)"/><use href="#s3b" x="863" y="2350" clip-path="url(#k1)"/><use href="#s3a" x="870" y="2350" clip-path="url(#k1)"/><use href="#s3k" x="705" y="2395" clip-path="url(#k0)"/><use href="#s3j" x="712" y="2395" clip-path="url(#k0)"/><use href="#s3i" x="719" y="2395" clip-path="url(#k0)"/><use href="#s3h" x="726" y="2395" clip-path="url(#k0)"/><use href="#s3g" x="733" y="2395" clip-path="url(#k0)"/><use href="#s3f" x="740" y="2395" clip-path="url(#k0)"/><use href="#s3e" x="747" y="2395" clip-path="url(#k0)"/><use href="#s3d" x="754" y="2395" clip-path="url(#k0)"/><use href="#s3c" x="761" y="2395" clip-path="url(#k0)"/><use href="#s3b" x="767" y="2395" clip-path="url(#k0)"/><use href="#s3a" x="774" y="2395" clip-path="url(#k0)"/><use href="#s2k" x="1568" y="2088" clip-path="url(#k7)"/><use href="#s2j" x="1575" y="2088" clip-path="url(#k7)"/><use href="#s2i" x="1581" y="2088" clip-path="url(#k7)"/><use href="#s2h" x="1588" y="2088" clip-path="url(#k7)"/><use href="#s2g" x="1594" y="2088" clip-path="url(#k7)"/><use href="#s2f" x="1601" y="2088" clip-path="url(#k7)"/><use href="#s2e" x="1607" y="2088" clip-path="url(#k7)"/><use href="#s2d" x="1614" y="2088" clip-path="url(#k7)"/><use href="#s2c" x="1620" y="2088" clip-path="url(#k7)"/><use href="#s2b" x="1627" y="2088" clip-path="url(#k7)"/><use href="#s2a" x="1633" y="2088" clip-path="url(#k7)"/><use href="#s2k" x="1446" y="2145" clip-path="url(#k6)"/><use href="#s2j" x="1453" y="2145" clip-path="url(#k6)"/><use href="#s2i" x="1459" y="2145" clip-path="url(#k6)"/><use href="#s2h" x="1466" y="2145" clip-path="url(#k6)"/><use href="#s2g" x="1472" y="2145" clip-path="url(#k6)"/><use href="#s2f" x="1479" y="2145" clip-path="url(#k6)"/><use href="#s2e" x="1485" y="2145" clip-path="url(#k6)"/><use href="#s2d" x="1492" y="2145" clip-path="url(#k6)"/><use href="#s2c" x="1498" y="2145" clip-path="url(#k6)"/><use href="#s2b" x="1505" y="2145" clip-path="url(#k6)"/><use href="#s2a" x="1511" y="2145" clip-path="url(#k6)"/><use href="#s2k" x="1331" y="2199" clip-path="url(#k5)"/><use href="#s2j" x="1337" y="2199" clip-path="url(#k5)"/><use href="#s2i" x="1344" y="2199" clip-path="url(#k5)"/><use href="#s2h" x="1350" y="2199" clip-path="url(#k5)"/><use href="#s2g" x="1357" y="2199" clip-path="url(#k5)"/><use href="#s2f" x="1363" y="2199" clip-path="url(#k5)"/><use href="#s2e" x="1370" y="2199" clip-path="url(#k5)"/><use href="#s2d" x="1376" y="2199" clip-path="url(#k5)"/><use href="#s2c" x="1383" y="2199" clip-path="url(#k5)"/><use href="#s2b" x="1389" y="2199" clip-path="url(#k5)"/><use href="#s2a" x="1396" y="2199" clip-path="url(#k5)"/><use href="#s2k" x="1215" y="2253" clip-path="url(#k4)"/><use href="#s2j" x="1222" y="2253" clip-path="url(#k4)"/><use href="#s2i" x="1228" y="2253" clip-path="url(#k4)"/><use href="#s2h" x="1235" y="2253" clip-path="url(#k4)"/><use href="#s2g" x="1241" y="2253" clip-path="url(#k4)"/><use href="#s2f" x="1248" y="2253" clip-path="url(#k4)"/><use href="#s2e" x="1254" y="2253" clip-path="url(#k4)"/><use href="#s2d" x="1261" y="2253" clip-path="url(#k4)"/><use href="#s2c" x="1267" y="2253" clip-path="url(#k4)"/><use href="#s2b" x="1273" y="2253" clip-path="url(#k4)"/><use href="#s2a" x="1280" y="2253" clip-path="url(#k4)"/><use href="#s2k" x="1097" y="2308" clip-path="url(#k3)"/><use href="#s2j" x="1104" y="2308" clip-path="url(#k3)"/><use href="#s2i" x="1110" y="2308" clip-path="url(#k3)"/><use href="#s2h" x="1117" y="2308" clip-path="url(#k3)"/><use href="#s2g" x="1123" y="2308" clip-path="url(#k3)"/><use href="#s2f" x="1130" y="2308" clip-path="url(#k3)"/><use href="#s2e" x="1136" y="2308" clip-path="url(#k3)"/><use href="#s2d" x="1143" y="2308" clip-path="url(#k3)"/><use href="#s2c" x="1149" y="2308" clip-path="url(#k3)"/><use href="#s2b" x="1156" y="2308" clip-path="url(#k3)"/><use href="#s2a" x="1162" y="2308" clip-path="url(#k3)"/><use href="#s2k" x="983" y="2362" clip-path="url(#k2)"/><use href="#s2j" x="989" y="2362" clip-path="url(#k2)"/><use href="#s2i" x="996" y="2362" clip-path="url(#k2)"/><use href="#s2h" x="1002" y="2362" clip-path="url(#k2)"/><use href="#s2g" x="1009" y="2362" clip-path="url(#k2)"/><use href="#s2f" x="1015" y="2362" clip-path="url(#k2)"/><use href="#s2e" x="1022" y="2362" clip-path="url(#k2)"/><use href="#s2d" x="1028" y="2362" clip-path="url(#k2)"/><use href="#s2c" x="1035" y="2362" clip-path="url(#k2)"/><use href="#s2b" x="1041" y="2362" clip-path="url(#k2)"/><use href="#s2a" x="1048" y="2362" clip-path="url(#k2)"/><use href="#s2k" x="877" y="2411" clip-path="url(#k1)"/><use href="#s2j" x="883" y="2411" clip-path="url(#k1)"/><use href="#s2i" x="890" y="2411" clip-path="url(#k1)"/><use href="#s2h" x="896" y="2411" clip-path="url(#k1)"/><use href="#s2g" x="903" y="2411" clip-path="url(#k1)"/><use href="#s2f" x="909" y="2411" clip-path="url(#k1)"/><use href="#s2e" x="916" y="2411" clip-path="url(#k1)"/><use href="#s2d" x="922" y="2411" clip-path="url(#k1)"/><use href="#s2c" x="929" y="2411" clip-path="url(#k1)"/><use href="#s2b" x="935" y="2411" clip-path="url(#k1)"/><use href="#s2a" x="942" y="2411" clip-path="url(#k1)"/><use href="#s2k" x="781" y="2456" clip-path="url(#k0)"/><use href="#s2j" x="788" y="2456" clip-path="url(#k0)"/><use href="#s2i" x="794" y="2456" clip-path="url(#k0)"/><use href="#s2h" x="801" y="2456" clip-path="url(#k0)"/><use href="#s2g" x="807" y="2456" clip-path="url(#k0)"/><use href="#s2f" x="814" y="2456" clip-path="url(#k0)"/><use href="#s2e" x="820" y="2456" clip-path="url(#k0)"/><use href="#s2d" x="827" y="2456" clip-path="url(#k0)"/><use href="#s2c" x="833" y="2456" clip-path="url(#k0)"/><use href="#s2b" x="839" y="2456" clip-path="url(#k0)"/><use href="#s2a" x="846" y="2456" clip-path="url(#k0)"/><use href="#s1k" x="1639" y="2147" clip-path="url(#k7)"/><use href="#s1j" x="1646" y="2147" clip-path="url(#k7)"/><use href="#s1i" x="1652" y="2147" clip-path="url(#k7)"/><use href="#s1h" x="1659" y="2147" clip-path="url(#k7)"/><use href="#s1g" x="1665" y="2147" clip-path="url(#k7)"/><use href="#s1f" x="1672" y="2147" clip-path="url(#k7)"/><use href="#s1e" x="1678" y="2147" clip-path="url(#k7)"/><use href="#s1d" x="1685" y="2147" clip-path="url(#k7)"/><use href="#s1c" x="1691" y="2147" clip-path="url(#k7)"/><use href="#s1b" x="1697" y="2147" clip-path="url(#k7)"/><use href="#s1a" x="1704" y="2147" clip-path="url(#k7)"/><use href="#s1k" x="1518" y="2204" clip-path="url(#k6)"/><use href="#s1j" x="1524" y="2204" clip-path="url(#k6)"/><use href="#s1i" x="1531" y="2204" clip-path="url(#k6)"/><use href="#s1h" x="1537" y="2204" clip-path="url(#k6)"/><use href="#s1g" x="1543" y="2204" clip-path="url(#k6)"/><use href="#s1f" x="1550" y="2204" clip-path="url(#k6)"/><use href="#s1e" x="1556" y="2204" clip-path="url(#k6)"/><use href="#s1d" x="1563" y="2204" clip-path="url(#k6)"/><use href="#s1c" x="1569" y="2204" clip-path="url(#k6)"/><use href="#s1b" x="1576" y="2204" clip-path="url(#k6)"/><use href="#s1a" x="1582" y="2204" clip-path="url(#k6)"/><use href="#s1k" x="1402" y="2258" clip-path="url(#k5)"/><use href="#s1j" x="1408" y="2258" clip-path="url(#k5)"/><use href="#s1i" x="1415" y="2258" clip-path="url(#k5)"/><use href="#s1h" x="1421" y="2258" clip-path="url(#k5)"/><use href="#s1g" x="1428" y="2258" clip-path="url(#k5)"/><use href="#s1f" x="1434" y="2258" clip-path="url(#k5)"/><use href="#s1e" x="1441" y="2258" clip-path="url(#k5)"/><use href="#s1d" x="1447" y="2258" clip-path="url(#k5)"/><use href="#s1c" x="1454" y="2258" clip-path="url(#k5)"/><use href="#s1b" x="1460" y="2258" clip-path="url(#k5)"/><use href="#s1a" x="1466" y="2258" clip-path="url(#k5)"/><use href="#s1k" x="1286" y="2312" clip-path="url(#k4)"/><use href="#s1j" x="1293" y="2312" clip-path="url(#k4)"/><use href="#s1i" x="1299" y="2312" clip-path="url(#k4)"/><use href="#s1h" x="1306" y="2312" clip-path="url(#k4)"/><use href="#s1g" x="1312" y="2312" clip-path="url(#k4)"/><use href="#s1f" x="1319" y="2312" clip-path="url(#k4)"/><use href="#s1e" x="1325" y="2312" clip-path="url(#k4)"/><use href="#s1d" x="1331" y="2312" clip-path="url(#k4)"/><use href="#s1c" x="1338" y="2312" clip-path="url(#k4)"/><use href="#s1b" x="1344" y="2312" clip-path="url(#k4)"/><use href="#s1a" x="1351" y="2312" clip-path="url(#k4)"/><use href="#s1k" x="1169" y="2367" clip-path="url(#k3)"/><use href="#s1j" x="1175" y="2367" clip-path="url(#k3)"/><use href="#s1i" x="1181" y="2367" clip-path="url(#k3)"/><use href="#s1h" x="1188" y="2367" clip-path="url(#k3)"/><use href="#s1g" x="1194" y="2367" clip-path="url(#k3)"/><use href="#s1f" x="1201" y="2367" clip-path="url(#k3)"/><use href="#s1e" x="1207" y="2367" clip-path="url(#k3)"/><use href="#s1d" x="1214" y="2367" clip-path="url(#k3)"/><use href="#s1c" x="1220" y="2367" clip-path="url(#k3)"/><use href="#s1b" x="1226" y="2367" clip-path="url(#k3)"/><use href="#s1a" x="1233" y="2367" clip-path="url(#k3)"/><use href="#s1k" x="1054" y="2421" clip-path="url(#k2)"/><use href="#s1j" x="1061" y="2421" clip-path="url(#k2)"/><use href="#s1i" x="1067" y="2421" clip-path="url(#k2)"/><use href="#s1h" x="1074" y="2421" clip-path="url(#k2)"/><use href="#s1g" x="1080" y="2421" clip-path="url(#k2)"/><use href="#s1f" x="1086" y="2421" clip-path="url(#k2)"/><use href="#s1e" x="1093" y="2421" clip-path="url(#k2)"/><use href="#s1d" x="1099" y="2421" clip-path="url(#k2)"/><use href="#s1c" x="1106" y="2421" clip-path="url(#k2)"/><use href="#s1b" x="1112" y="2421" clip-path="url(#k2)"/><use href="#s1a" x="1119" y="2421" clip-path="url(#k2)"/><use href="#s1k" x="948" y="2471" clip-path="url(#k1)"/><use href="#s1j" x="955" y="2471" clip-path="url(#k1)"/><use href="#s1i" x="961" y="2471" clip-path="url(#k1)"/><use href="#s1h" x="968" y="2471" clip-path="url(#k1)"/><use href="#s1g" x="974" y="2471" clip-path="url(#k1)"/><use href="#s1f" x="980" y="2471" clip-path="url(#k1)"/><use href="#s1e" x="987" y="2471" clip-path="url(#k1)"/><use href="#s1d" x="993" y="2471" clip-path="url(#k1)"/><use href="#s1c" x="1000" y="2471" clip-path="url(#k1)"/><use href="#s1b" x="1006" y="2471" clip-path="url(#k1)"/><use href="#s1a" x="1013" y="2471" clip-path="url(#k1)"/><use href="#s1k" x="852" y="2515" clip-path="url(#k0)"/><use href="#s1j" x="859" y="2515" clip-path="url(#k0)"/><use href="#s1i" x="865" y="2515" clip-path="url(#k0)"/><use href="#s1h" x="872" y="2515" clip-path="url(#k0)"/><use href="#s1g" x="878" y="2515" clip-path="url(#k0)"/><use href="#s1f" x="885" y="2515" clip-path="url(#k0)"/><use href="#s1e" x="891" y="2515" clip-path="url(#k0)"/><use href="#s1d" x="897" y="2515" clip-path="url(#k0)"/><use href="#s1c" x="904" y="2515" clip-path="url(#k0)"/><use href="#s1b" x="910" y="2515" clip-path="url(#k0)"/><use href="#s1a" x="917" y="2515" clip-path="url(#k0)"/><use href="#s0k" x="1710" y="2206" clip-path="url(#k7)"/><use href="#s0j" x="1717" y="2206" clip-path="url(#k7)"/><use href="#s0i" x="1723" y="2206" clip-path="url(#k7)"/><use href="#s0h" x="1729" y="2206" clip-path="url(#k7)"/><use href="#s0g" x="1736" y="2206" clip-path="url(#k7)"/><use href="#s0f" x="1742" y="2206" clip-path="url(#k7)"/><use href="#s0e" x="1748" y="2206" clip-path="url(#k7)"/><use href="#s0d" x="1755" y="2206" clip-path="url(#k7)"/><use href="#s0c" x="1761" y="2206" clip-path="url(#k7)"/><use href="#s0b" x="1767" y="2206" clip-path="url(#k7)"/><use href="#s0a" x="1774" y="2206" clip-path="url(#k7)"/><use href="#s0k" x="1588" y="2263" clip-path="url(#k6)"/><use href="#s0j" x="1595" y="2263" clip-path="url(#k6)"/><use href="#s0i" x="1601" y="2263" clip-path="url(#k6)"/><use href="#s0h" x="1608" y="2263" clip-path="url(#k6)"/><use href="#s0g" x="1614" y="2263" clip-path="url(#k6)"/><use href="#s0f" x="1620" y="2263" clip-path="url(#k6)"/><use href="#s0e" x="1627" y="2263" clip-path="url(#k6)"/><use href="#s0d" x="1633" y="2263" clip-path="url(#k6)"/><use href="#s0c" x="1639" y="2263" clip-path="url(#k6)"/><use href="#s0b" x="1646" y="2263" clip-path="url(#k6)"/><use href="#s0a" x="1652" y="2263" clip-path="url(#k6)"/><use href="#s0k" x="1473" y="2317" clip-path="url(#k5)"/><use href="#s0j" x="1479" y="2317" clip-path="url(#k5)"/><use href="#s0i" x="1486" y="2317" clip-path="url(#k5)"/><use href="#s0h" x="1492" y="2317" clip-path="url(#k5)"/><use href="#s0g" x="1498" y="2317" clip-path="url(#k5)"/><use href="#s0f" x="1505" y="2317" clip-path="url(#k5)"/><use href="#s0e" x="1511" y="2317" clip-path="url(#k5)"/><use href="#s0d" x="1517" y="2317" clip-path="url(#k5)"/><use href="#s0c" x="1524" y="2317" clip-path="url(#k5)"/><use href="#s0b" x="1530" y="2317" clip-path="url(#k5)"/><use href="#s0a" x="1536" y="2317" clip-path="url(#k5)"/><use href="#s0k" x="1357" y="2371" clip-path="url(#k4)"/><use href="#s0j" x="1364" y="2371" clip-path="url(#k4)"/><use href="#s0i" x="1370" y="2371" clip-path="url(#k4)"/><use href="#s0h" x="1376" y="2371" clip-path="url(#k4)"/><use href="#s0g" x="1383" y="2371" clip-path="url(#k4)"/><use href="#s0f" x="1389" y="2371" clip-path="url(#k4)"/><use href="#s0e" x="1395" y="2371" clip-path="url(#k4)"/><use href="#s0d" x="1402" y="2371" clip-path="url(#k4)"/><use href="#s0c" x="1408" y="2371" clip-path="url(#k4)"/><use href="#s0b" x="1414" y="2371" clip-path="url(#k4)"/><use href="#s0a" x="1421" y="2371" clip-path="url(#k4)"/><use href="#s0k" x="1239" y="2426" clip-path="url(#k3)"/><use href="#s0j" x="1246" y="2426" clip-path="url(#k3)"/><use href="#s0i" x="1252" y="2426" clip-path="url(#k3)"/><use href="#s0h" x="1258" y="2426" clip-path="url(#k3)"/><use href="#s0g" x="1265" y="2426" clip-path="url(#k3)"/><use href="#s0f" x="1271" y="2426" clip-path="url(#k3)"/><use href="#s0e" x="1277" y="2426" clip-path="url(#k3)"/><use href="#s0d" x="1284" y="2426" clip-path="url(#k3)"/><use href="#s0c" x="1290" y="2426" clip-path="url(#k3)"/><use href="#s0b" x="1297" y="2426" clip-path="url(#k3)"/><use href="#s0a" x="1303" y="2426" clip-path="url(#k3)"/><use href="#s0k" x="1125" y="2479" clip-path="url(#k2)"/><use href="#s0j" x="1131" y="2479" clip-path="url(#k2)"/><use href="#s0i" x="1138" y="2479" clip-path="url(#k2)"/><use href="#s0h" x="1144" y="2479" clip-path="url(#k2)"/><use href="#s0g" x="1150" y="2479" clip-path="url(#k2)"/><use href="#s0f" x="1157" y="2479" clip-path="url(#k2)"/><use href="#s0e" x="1163" y="2479" clip-path="url(#k2)"/><use href="#s0d" x="1169" y="2479" clip-path="url(#k2)"/><use href="#s0c" x="1176" y="2479" clip-path="url(#k2)"/><use href="#s0b" x="1182" y="2479" clip-path="url(#k2)"/><use href="#s0a" x="1189" y="2479" clip-path="url(#k2)"/><use href="#s0k" x="1019" y="2529" clip-path="url(#k1)"/><use href="#s0j" x="1025" y="2529" clip-path="url(#k1)"/><use href="#s0i" x="1032" y="2529" clip-path="url(#k1)"/><use href="#s0h" x="1038" y="2529" clip-path="url(#k1)"/><use href="#s0g" x="1044" y="2529" clip-path="url(#k1)"/><use href="#s0f" x="1051" y="2529" clip-path="url(#k1)"/><use href="#s0e" x="1057" y="2529" clip-path="url(#k1)"/><use href="#s0d" x="1064" y="2529" clip-path="url(#k1)"/><use href="#s0c" x="1070" y="2529" clip-path="url(#k1)"/><use href="#s0b" x="1076" y="2529" clip-path="url(#k1)"/><use href="#s0a" x="1083" y="2529" clip-path="url(#k1)"/><use href="#s0k" x="923" y="2574" clip-path="url(#k0)"/><use href="#s0j" x="930" y="2574" clip-path="url(#k0)"/><use href="#s0i" x="936" y="2574" clip-path="url(#k0)"/><use href="#s0h" x="942" y="2574" clip-path="url(#k0)"/><use href="#s0g" x="949" y="2574" clip-path="url(#k0)"/><use href="#s0f" x="955" y="2574" clip-path="url(#k0)"/><use href="#s0e" x="961" y="2574" clip-path="url(#k0)"/><use href="#s0d" x="968" y="2574" clip-path="url(#k0)"/><use href="#s0c" x="974" y="2574" clip-path="url(#k0)"/><use href="#s0b" x="980" y="2574" clip-path="url(#k0)"/><use href="#s0a" x="987" y="2574" clip-path="url(#k0)"/></g></g><svg x="145.5" y="148.4" width="50.6" height="43.6" viewBox="145.5 148.4 50.6 43.6"><rect x="143.8" y="145.4" width="12.5" height="11.3" fill="url(#ga)"/><rect x="156.1" y="145.4" width="14.9" height="11.3" fill="url(#ga)"/><rect x="170.9" y="145.4" width="15.6" height="11.3" fill="url(#ga)"/><rect x="186.4" y="145.4" width="14.1" height="11.3" fill="url(#ga)"/><rect x="143.8" y="156.6" width="12.5" height="12.4" fill="url(#ga)"/><rect x="156.1" y="156.6" width="14.9" height="12.4" fill="url(#ga)"/><rect x="170.9" y="156.6" width="15.6" height="12.4" fill="url(#ga)"/><rect x="186.4" y="156.6" width="14.1" height="12.4" fill="url(#ga)"/><rect x="143.8" y="168.9" width="12.5" height="12.9" fill="url(#ga)"/><rect x="156.1" y="168.9" width="14.9" height="12.9" fill="url(#ga)"/><rect x="170.9" y="168.9" width="15.6" height="12.9" fill="url(#ga)"/><rect x="186.4" y="168.9" width="14.1" height="12.9" fill="url(#ga)"/><rect x="143.8" y="181.8" width="12.5" height="12.8" fill="url(#ga)"/><rect x="156.1" y="181.8" width="14.9" height="12.8" fill="url(#ga)"/><rect x="170.9" y="181.8" width="15.6" height="12.8" fill="url(#ga)"/><rect x="186.4" y="181.8" width="14.1" height="12.8" fill="url(#ga)"/><use href="#star" x="156.2" y="156.7"/><use href="#star" x="171" y="156.7"/><use href="#star" x="186.5" y="156.7"/><use href="#star" x="156.2" y="169"/><use href="#star" x="171" y="169"/><use href="#star" x="186.5" y="169"/><use href="#star" x="156.2" y="181.8"/><use href="#star" x="171" y="181.8"/><use href="#star" x="186.5" y="181.8"/></svg><polygon points="110.1,185 128.3,202 112.5,217.5 95.3,199.8" fill="none" stroke="#e3171c" stroke-width="1.2"/><polyline points="122,194 122,170.1 145.5,170.1" fill="none" stroke="#e3171c" stroke-width="1.2"/><text x="17.7" y="159.1" font-size="10.8" text-anchor="middle" fill="#111">(d)</text><text x="17.4" y="186.5" font-size="7.3" text-anchor="middle" fill="#111">5</text><text x="17.4" y="202.9" font-size="7.3" text-anchor="middle" fill="#111">0</text><text x="11.9" y="194.3" font-size="7.7" text-anchor="middle" fill="#111" transform="rotate(-90 11.9 194.3)">Z(μm)</text><text x="16.8" y="213.1" font-size="7.3" text-anchor="middle" fill="#111">240</text><text x="51.3" y="242.7" font-size="7.3" text-anchor="middle" fill="#111">120</text><text x="34.5" y="245.8" font-size="7.3" text-anchor="middle" fill="#111">Y(μm)</text><text x="88.4" y="272.4" font-size="7.3" text-anchor="middle" fill="#111">0</text><text x="99" y="272.4" font-size="7.3" text-anchor="middle" fill="#111">0</text><text x="148.2" y="251" font-size="7.3" text-anchor="middle" fill="#111">120</text><text x="193.5" y="228.8" font-size="7.3" text-anchor="middle" fill="#111">240</text><text x="161.3" y="258.5" font-size="7.3" text-anchor="middle" fill="#111">X(μm)</text></g></svg></body></html>
